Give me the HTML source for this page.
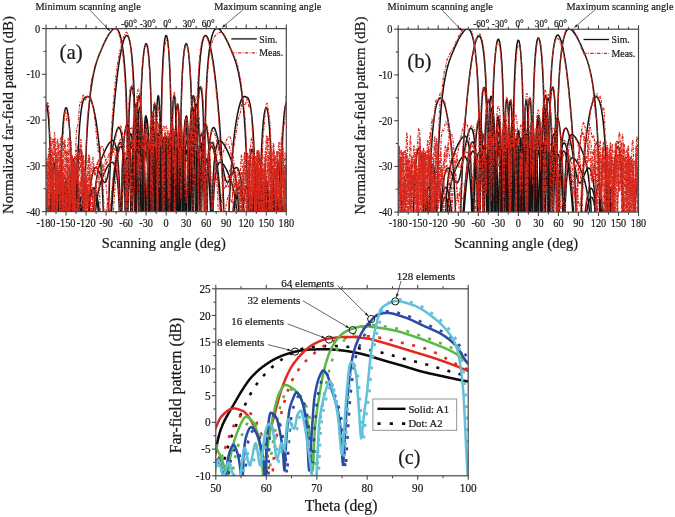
<!DOCTYPE html>
<html><head><meta charset="utf-8"><title>Far-field patterns</title>
<style>html,body{margin:0;padding:0;background:#fff;width:675px;height:517px;overflow:hidden}svg{display:block}text{font-family:"Liberation Serif", "Times New Roman", serif}</style>
</head><body>
<svg width="675" height="517" viewBox="0 0 675 517"><g font-family='"Liberation Serif", serif'>
<clipPath id="ca"><rect x="46" y="28.1" width="240.3" height="183.5"/></clipPath>
<g clip-path="url(#ca)" fill="none">
<g transform="scale(0.1)" stroke-linejoin="round">
<path d="M460 2345l3 0 2-72 3-72 3-53 2-40 3-27 3-17 2-7 3 1 3 12 2 22 3 33 3 47 2 64 3 90 3 19 2 0 3 0 3 0 2 0 3 0 3-69 2-85 3-64 3-47 2-34 3-24 3-14 2-5 3 4 3 14 2 23 3 35 3 49 2 67 3 93 3 57 2 0 3 0 3 0 2 0 3-16 3-116 2-84 3-64 3-47 2-36 3-26 3-16 3-8 2 1 3 8 3 18 2 27 3 39 3 53 2 72 3 100 3 95 2 0 3 0 3 0 2 0 3-106 3-111 2-81 3-63 3-49 2-37 3-28 3-19 2-12 3-5 3 2 2 10 3 17 3 27 2 36 3 48 3 65 2 87 3 123 3 96 2 0 3 0 3 0 2-120 3-132 3-95 2-73 3-58 3-47 2-36 3-29 3-22 2-16 3-10 3-4 2 1 3 7 3 13 2 20 3 27 3 35 2 46 3 59 3 79 2 107 3 160 3 88 2 0 3 0 3-156 2-155 3-111 3-85 2-69 3-56 3-47 2-39 3-33 3-27 2-22 3-19 3-14 2-10 3-7 3-2 2 0 3 5 3 8 2 13 3 17 3 22 2 28 3 34 3 44 2 54 3 69 3 92 2 129 3 208 3 129 2 0 3-225 3-197 2-134 3-102 3-83 3-69 2-65 3-58 3-52 2-47 3-43 3-40 2-37 3-34 3-32 2-30 3-29 3-28 2-26 3-25 3-24 2-22 3-22 3-20 2-19 3-19 3-18 2-16 3-16 3-16 2-15 3-14 3-13 2-14 3-12 3-12 2-12 3-11 3-11 2-11 3-10 3-10 2-9 3-10 3-9 2-9 3-8 3-7 2-8 3-7 3-8 2-7 3-7 3-7 2-7 3-6 3-7 2-6 3-7 3-6 2-6 3-6 3-7 2-6 3-6 3-6 2-6 3-6 3-6 2-7 3-6 3-5 2-6 3-6 3-5 2-6 3-6 3-5 2-6 3-6 3-6 2-5 3-4 3-5 2-5 3-4 3-5 2-5 3-5 3-5 2-5 3-3 3-4 2-3 3-4 3-3 2-4 3-3 3-4 2-3 3-4 3-3 2-3 3-4 3-3 3-3 2-1 3-1 3-2 2-1 3 0 3-1 2-1 3 0 3 0 2 0 3 0 3 1 2 1 3 1 3 1 2 2 3 2 3 3 2 2 3 4 3 5 2 5 3 6 3 7 2 7 3 8 3 8 2 9 3 10 3 10 2 11 3 12 3 13 2 15 3 15 3 16 2 18 3 18 3 21 2 22 3 24 3 26 2 28 3 31 3 34 2 37 3 41 3 46 2 52 3 59 3 69 2 83 3 102 3 133 2 197 3 384 3 225 2-514 3-208 3-130 2-92 3-69 3-55 2-43 3-36 3-28 2-22 3-17 3-13 2-9 3-5 3-1 2 3 3 6 3 10 2 14 3 18 3 22 2 27 3 32 3 39 2 47 3 56 3 68 2 85 3 110 3 155 2 258 3 527 3-426 2-293 3-160 3-107 2-79 3-59 3-47 2-35 3-28 3-19 3-14 2-7 3-2 3 4 2 10 3 15 3 22 2 29 3 36 3 46 2 58 3 73 3 95 2 131 3 202 3 433 2 20 3-436 3-196 2-124 3-87 3-65 2-49 3-36 3-27 2-18 3-10 3-3 2 4 3 12 3 19 2 27 3 37 3 48 2 62 3 81 3 110 2 161 3 283 3 309 2-337 3-260 3-149 2-100 3-73 3-53 2-40 3-28 3-18 2-10 3-1 3 8 2 15 3 25 3 35 2 48 3 62 3 84 2 116 3 174 3 332 2 170 3-357 3-228 2-136 3-94 3-67 2-50 3-35 3-25 2-14 3-4 3 4 2 13 3 23 3 34 2 47 3 62 3 85 2 119 3 182 3 364 2 77 3-350 3-215 2-131 3-90 3-66 2-47 3-34 3-22 2-12 3-3 3 7 2 16 3 27 3 39 2 53 3 71 3 99 3 143 2 240 3 275 3-132 2-310 3-165 3-109 2-77 3-57 3-41 2-28 3-17 3-8 2 1 3 11 3 21 2 32 3 44 3 61 2 82 3 114 3 175 2 339 3 64 3-277 2-226 3-136 3-93 2-69 3-50 3-36 2-25 3-15 3-5 2 3 3 12 3 22 2 32 3 45 3 60 2 81 3 113 3 171 2 325 3 68 3-244 2-232 3-140 3-96 2-71 3-53 3-39 2-27 3-19 3-9 2-2 3 7 3 15 2 23 3 34 3 45 2 61 3 80 3 111 2 165 3 303 3 88 2-199 3-246 3-146 2-100 3-75 3-56 2-43 3-32 3-23 2-15 3-8 3-1 2 6 3 13 3 20 2 29 3 37 3 50 2 63 3 84 3 115 2 171 3 321 3 35 2-200 3-237 3-143 2-100 3-75 3-59 2-45 3-36 3-28 3-21 2-14 3-9 3-3 2 2 3 7 3 13 2 19 3 25 3 31 2 40 3 50 3 62 2 79 3 106 3 150 2 254 3 132 3-47 2-296 3-165 3-113 2-85 3-66 3-53 2-43 3-36 3-29 2-23 3-19 3-15 2-10 3-7 3-3 2 0 3 3 3 7 2 10 3 14 3 17 2 20 3 25 3 30 2 35 3 41 3 49 2 59 3 71 3 90 2 118 3 173 3 248 2 0 3-69 3-243 2-147 3-105 3-81 2-66 3-53 3-46 2-39 3-34 3-29 2-25 3-22 3-20 2-17 3-14 3-13 2-11 3-9 3-7 2-7 3-4 3-4 2-2 3-2 3 0 2 0 3 2 3 4 2 4 3 6 3 6 2 7 3 7 3 9 2 8 3 10 3 10 2 10 3 11 3 12 2 12 3 12 3 13 2 13 3 13 3 14 3 14 2 16 3 16 3 17 2 16 3 16 3 17 2 16 3 16 3 16 2 16 3 16 3 15 2 15 3 14 3 13 2 15 3 13 3 13 2 12 3 11 3 9 2 9 3 8 3 6 2 5 3 6 3 4 2 3 3 2 3 0 2 0 3-1 3-3 2-3 3-3 3-4 2-5 3-5 3-5 2-6 3-7 3-6 2-7 3-6 3-7 2-7 3-7 3-6 2-7 3-6 3-6 2-6 3-5 3-6 2-4 3-5 3-4 2-3 3-3 3-3 2-1 3-1 3-1 2 1 3 1 3 1 2 2 3 4 3 3 2 5 3 6 3 6 2 8 3 8 3 10 2 10 3 12 3 13 2 15 3 16 3 18 2 20 3 22 3 25 2 26 3 30 3 32 2 37 3 41 3 46 2 52 3 59 3 72 2 69 3 0 3 0 2 0 3 0 3 0 3 0 2 0 3 0 3-11 2-71 3-58 3-48 2-41 3-35 3-29 2-25 3-20 3-17 2-13 3-10 3-6 2-3 3 0 3 3 2 7 3 11 3 15 2 19 3 24 3 29 2 36 3 44 3 53 2 66 3 80 3 0 2 0 3 0 3 0 2 0 3 0 3 0 2-13 3-79 3-62 2-49 3-40 3-31 2-25 3-18 3-12 2-7 3-2 3 3 2 9 3 15 3 21 2 28 3 36 3 46 2 59 3 76 3 45 2 0 3 0 3 0 2 0 3 0 3 0 2-5 3-83 3-64 2-49 3-37 3-28 2-20 3-13 3-6 2 2 3 8 3 15 2 24 3 33 3 43 2 57 3 75 3 48 2 0 3 0 3 0 2 0 3 0 3 0 2-19 3-79 3-60 2-45 3-33 3-23 2-14 3-6 3 2 2 10 3 19 3 29 3 39 2 53 3 71 3 56 2 0 3 0 3 0 2 0 3 0 3 0 2-15 3-81 3-59 2-44 3-32 3-21 2-12 3-2 3 6 2 16 3 25 3 37 2 51 3 68 3 63 2 0 3 0 3 0 2 0 3 0 3 0 2-18 3-81 3-60 2-44 3-31 3-20 2-10 3-1 3 8 2 18 3 29 3 42 2 57 3 77 3 34 2 0 3 0 3 0 2 0 3 0" stroke="#111" stroke-width="15"/>
<path d="M460 2345l3 0 2 0 3 0 3-4 2-77 3-57 3-43 2-30 3-19 3-10 2-1 3 9 3 19 2 30 3 43 3 60 2 80 3 0 3 0 2 0 3 0 3 0 2 0 3-12 3-92 2-68 3-51 3-38 2-27 3-17 3-8 2 2 3 10 3 20 2 31 3 44 3 60 2 84 3 62 3 0 2 0 3 0 3 0 2 0 3-89 3-93 2-69 3-53 3-41 3-29 2-21 3-11 3-4 2 4 3 13 3 23 2 33 3 45 3 63 2 86 3 123 3 20 2 0 3 0 3 0 2-63 3-129 3-94 2-71 3-56 3-44 2-33 3-26 3-17 2-11 3-3 3 4 2 11 3 19 3 28 2 38 3 52 3 70 2 95 3 141 3 89 2 0 3 0 3-67 2-172 3-120 3-89 2-71 3-57 3-46 2-38 3-31 3-24 2-18 3-13 3-7 2-3 3 4 3 9 2 15 3 22 3 30 2 40 3 54 3 71 2 98 3 148 3 265 2 0 3-48 3-279 2-169 3-122 3-95 2-79 3-66 3-58 2-50 3-45 3-40 2-36 3-33 3-29 2-27 3-24 3-22 2-20 3-18 3-17 2-14 3-14 3-11 2-11 3-9 3-8 2-7 3-6 3-5 2-4 3-3 3-2 2-1 3 0 3 0 3 2 2-4 3-3 3-2 2-1 3-1 3 0 2 0 3 1 3 2 2 3 3 1 3 2 2 3 3 3 3 4 2 5 3 5 3 5 2 6 3 7 3 7 2 8 3 8 3 9 2 9 3 10 3 10 2 11 3 11 3 12 2 13 3 13 3 13 2 14 3 15 3 15 2 16 3 16 3 17 2 18 3 19 3 20 2 20 3 21 3 22 2 23 3 24 3 25 2 26 3 27 3 28 2 30 3 31 3 32 2 35 3 36 3 38 2 41 3 43 3 46 2 50 3 54 3 58 2 63 3 70 3 78 2 88 3 41 3 0 2 0 3 0 3 0 2 0 3 0 3 0 2 0 3 0 3 0 2 0 3 0 3 0 2-16 3-109 3-98 2-89 3-79 3-74 2-67 3-64 3-59 2-56 3-53 3-50 2-48 3-46 3-44 2-42 3-41 3-39 3-38 2-35 3-34 3-33 2-31 3-31 3-30 2-29 3-29 3-27 2-27 3-26 3-26 2-25 3-24 3-24 2-23 3-22 3-22 2-22 3-21 3-19 2-18 3-18 3-17 2-17 3-17 3-16 2-15 3-15 3-14 2-14 3-13 3-13 2-12 3-12 3-11 2-11 3-10 3-10 2-9 3-8 3-8 2-7 3-6 3-6 2-5 3-5 3-4 2-3 3-2 3-2 2 0 3 0 3 0 2 2 3 3 3 3 2 5 3 5 3 7 2 8 3 9 3 10 2 12 3 13 3 14 2 16 3 18 3 19 2 22 3 24 3 26 2 30 3 32 3 35 2 40 3 45 3 50 2 57 3 67 3 78 2 95 3 122 3 168 2 279 3 676 3-626 2-268 3-148 3-99 2-72 3-53 3-41 2-30 3-23 3-15 2-9 3-4 3 2 3 7 2 13 3 18 3 23 2 31 3 37 3 46 2 57 3 70 3 90 2 119 3 172 3 308 2 395 3-484 3-243 2-141 3-96 3-69 2-52 3-39 3-28 2-19 3-12 3-4 2 3 3 10 3 17 2 24 3 33 3 44 2 55 3 71 3 93 2 128 3 197 3 412 2 91 3-461 3-199 2-124 3-86 3-63 2-47 3-33 3-23 2-14 3-5 3 3 2 11 3 20 3 29 2 40 3 52 3 69 2 92 3 129 3 202 2 417 3 0 3-411 2-193 3-121 3-84 2-62 3-44 3-32 2-20 3-11 3-2 2 7 3 17 3 26 2 37 3 51 3 67 2 91 3 129 3 204 2 351 3 0 3-362 2-191 3-120 3-83 2-61 3-44 3-30 2-20 3-9 3 0 2 9 3 19 3 30 2 41 3 57 3 76 2 106 3 155 3 274 3 153 2-152 3-268 3-152 2-101 3-72 3-53 2-37 3-26 3-15 2-5 3 4 3 13 2 24 3 35 3 47 2 65 3 88 3 124 2 196 3 285 3 0 2-266 3-199 3-124 2-87 3-63 3-47 2-33 3-22 3-12 2-3 3 6 3 15 2 25 3 36 3 49 2 66 3 89 3 126 2 198 3 246 3 0 2-243 3-196 3-124 2-88 3-64 3-48 2-35 3-24 3-15 2-6 3 2 3 10 2 18 3 28 3 39 2 51 3 69 3 91 2 130 3 205 3 200 2 0 3-230 3-191 2-122 3-88 3-65 2-49 3-38 3-27 2-19 3-11 3-3 2 3 3 10 3 18 2 26 3 34 3 46 2 58 3 77 3 103 2 148 3 251 3 69 2 0 3-271 3-164 2-111 3-82 3-62 2-49 3-38 3-29 2-22 3-15 3-9 3-4 2 2 3 8 3 13 2 19 3 25 3 33 2 41 3 51 3 65 2 82 3 111 3 161 2 245 3 0 3 0 2-260 3-154 3-107 2-80 3-64 3-50 2-41 3-34 3-27 2-21 3-17 3-12 2-9 3-4 3-1 2 3 3 6 3 10 2 13 3 17 3 22 2 25 3 31 3 36 2 44 3 51 3 62 2 77 3 98 3 133 2 204 3 49 3 0 2-53 3-198 3-130 2-95 3-74 3-60 2-50 3-43 3-36 2-31 3-26 3-24 2-19 3-18 3-14 2-13 3-10 3-9 2-6 3-6 3-3 2-3 3 0 3 0 2 1 3 3 3 4 2 5 3 6 3 7 2 8 3 9 3 11 2 12 3 13 3 14 2 15 3 16 3 17 2 18 3 18 3 20 2 20 3 22 3 22 2 24 3 24 3 26 2 27 3 28 3 30 3 30 2 34 3 36 3 37 2 39 3 40 3 43 2 46 3 47 3 51 2 54 3 44 3 0 2 0 3 0 3 0 2 0 3 0 3 0 2 0 3 0 3 0 2 0 3 0 3 0 2 0 3 0 3 0 2 0 3 0 3 0 2 0 3 0 3 0 2 0 3 0 3 0 2 0 3 0 3 0 2 0 3 0 3 0 2-14 3-36 3-33 2-31 3-29 3-28 2-26 3-24 3-23 2-21 3-20 3-19 2-18 3-17 3-15 2-15 3-13 3-13 2-11 3-10 3-9 2-9 3-7 3-7 2-5 3-5 3-3 2-3 3-2 3-1 2 0 3 1 3 3 2 3 3 4 3 6 2 6 3 8 3 10 2 11 3 12 3 15 2 15 3 18 3 20 2 22 3 24 3 28 2 29 3 32 3 37 2 42 3 49 3 56 2 16 3 0 3 0 3 0 2 0 3 0 3 0 2 0 3 0 3 0 2 0 3 0 3-3 2-51 3-43 3-36 2-30 3-26 3-21 2-16 3-14 3-9 2-6 3-2 3 1 2 5 3 8 3 13 2 17 3 22 3 27 2 34 3 41 3 51 2 38 3 0 3 0 2 0 3 0 3 0 2 0 3 0 3 0 2 0 3 0 3-34 2-50 3-41 3-32 2-26 3-18 3-13 2-7 3-2 3 4 2 9 3 16 3 22 2 30 3 38 3 49 2 55 3 0 3 0 2 0 3 0 3 0 2 0 3 0 3 0 2 0 3-9 3-59 2-45 3-34 3-26 2-17 3-10 3-3 2 4 3 12 3 19 2 28 3 38 3 50 2 52 3 0 3 0 2 0 3 0 3 0 2 0 3 0 3 0 2 0 3-44 3-51 2-38 3-27 3-18 2-9 3-2 3 7 3 16 2 25 3 35 3 49 2 57 3 0 3 0 2 0 3 0 3 0 2 0 3 0 3 0 2 0 3-61 3-48 2-35 3-24 3-15 2-5 3 3 3 13 2 23 3 33 3 47 2 64 3 5 3 0 2 0 3 0 3 0 2 0 3 0 3 0 2-16 3-65 3-47 2-34 3-23 3-13 2-3 3 6 3 16 2 26 3 38 3 53 2 62 3 0 3 0 2 0 3 0" stroke="#111" stroke-width="15"/>
<path d="M460 2051l3-1 2 9 3 19 3 31 2 44 3 63 3 89 2 40 3 0 3 0 2 0 3 0 3-19 2-119 3-87 3-66 2-50 3-37 3-27 2-18 3-8 3 1 2 11 3 21 3 33 2 47 3 68 3 97 2 150 3 3 3 0 2 0 3-66 3-160 2-111 3-84 3-65 2-51 3-40 3-30 2-21 3-13 3-4 2 4 3 13 3 24 2 37 3 54 3 79 3 119 2 203 3 112 3 0 2-265 3-199 3-138 2-106 3-85 3-72 2-61 3-53 3-46 2-40 3-36 3-31 2-27 3-23 3-21 2-17 3-14 3-12 2-9 3-7 3-4 2-2 3 1 3 4 2 5 3 8 3 10 2 13 3 15 3 17 2 20 3 23 3 26 2 30 3 33 3 37 2 41 3 46 3 53 2 60 3 69 3 81 2 99 3 125 3 173 2 279 3 0 3 0 2-211 3-144 3-94 2-68 3-50 3-38 2-27 3-20 3-14 2-8 3-2 3 2 2 6 3 11 3 15 2 20 3 24 3 29 2 34 3 40 3 48 2 56 3 67 3 82 2 103 3 139 3 0 2 0 3 0 3 0 2 0 3-96 3-88 2-67 3-52 3-43 2-34 3-28 3-22 2-18 3-14 3-11 2-7 3-4 3-2 2 1 3 4 3 6 3 8 2 4 3 7 3 10 2 12 3 14 3 16 2 20 3 23 3 26 2 29 3 33 3 37 2 44 3 52 3 61 2 75 3 4 3 0 2 0 3 0 3 0 2 0 3 0 3 0 2-13 3-80 3-66 2-56 3-49 3-42 2-39 3-34 3-31 2-28 3-26 3-24 2-22 3-20 3-19 2-18 3-16 3-15 2-14 3-13 3-13 2-12 3-11 3-11 2-10 3-9 3-9 2-9 3-9 3-8 2-8 3-7 3-8 2-7 3-7 3-7 2-7 3-6 3-7 2-7 3-6 3-6 2-6 3-5 3-6 2-6 3-6 3-6 2-6 3-5 3-6 2-5 3-5 3-4 2-5 3-5 3-4 2-5 3-5 3-5 2-4 3-3 3-4 2-3 3-2 3-3 2-3 3-3 3-2 2-2 3-2 3-2 2-2 3-1 3-1 3 0 2 2 3 2 3 2 2 4 3 3 3 5 2 5 3 6 3 7 2 9 3 9 3 10 2 12 3 14 3 15 2 18 3 19 3 23 2 26 3 30 3 35 2 42 3 49 3 59 2 73 3 93 3 129 2 200 3 40 3 0 2-74 3-205 3-136 2-103 3-83 3-68 2-59 3-51 3-45 2-40 3-36 3-31 2-29 3-25 3-23 2-20 3-18 3-15 2-13 3-11 3-8 2-7 3-3 3-2 2 2 3 4 3 7 2 10 3 13 3 18 2 22 3 28 3 34 2 42 3 52 3 67 2 87 3 122 3 190 2 407 3 0 3-412 2-212 3-140 3-104 2-82 3-67 3-56 2-48 3-41 3-34 2-29 3-25 3-20 2-15 3-11 3-7 2-2 3 2 3 7 2 13 3 20 3 28 2 37 3 49 3 68 2 94 3 144 3 260 3 583 2-625 3-287 3-173 2-126 3-99 3-82 2-69 3-61 3-52 2-47 3-42 3-37 2-33 3-30 3-26 2-23 3-21 3-18 2-15 3-13 3-10 2-9 3-5 3-4 2-1 3 1 3 4 2 6 3 8 3 11 2 14 3 17 3 19 2 23 3 27 3 30 2 35 3 40 3 45 2 52 3 61 3 71 2 85 3 105 3 138 2 198 3 372 3 331 2-552 3-204 3-119 2-80 3-54 3-38 2-25 3-14 3-4 2 3 3 13 3 20 2 29 3 40 3 50 2 65 3 83 3 111 2 159 3 267 3 465 2-395 3-277 3-150 2-98 3-68 3-48 2-34 3-21 3-11 2-2 3 7 3 17 2 26 3 37 3 50 2 65 3 86 3 119 2 178 3 335 3 184 2-365 3-224 3-133 2-89 3-64 3-45 2-32 3-19 3-10 3 1 2 9 3 19 3 30 2 40 3 56 3 73 2 99 3 142 3 234 2 278 3-76 3-326 2-168 3-108 3-77 2-55 3-39 3-27 2-15 3-7 3 3 2 13 3 21 3 33 2 44 3 60 3 79 2 110 3 161 3 288 2 86 3-132 3-255 2-146 3-99 3-70 2-52 3-37 3-26 2-15 3-7 3 2 2 11 3 20 3 30 2 40 3 54 3 72 2 96 3 138 3 222 2 154 3 0 3-245 2-177 3-114 3-82 2-60 3-45 3-33 2-23 3-14 3-5 2 1 3 10 3 17 2 26 3 36 3 46 2 61 3 79 3 108 2 157 3 257 3 0 2 0 3-249 3-154 2-104 3-77 3-58 2-44 3-33 3-25 2-16 3-10 3-3 2 3 3 9 3 16 2 23 3 30 3 39 2 50 3 63 3 81 2 109 3 157 3 193 3 0 2 0 3-181 3-156 2-107 3-79 3-61 2-49 3-38 3-30 2-23 3-17 3-11 2-7 3-2 3 3 2 7 3 12 3 16 2 22 3 27 3 33 2 41 3 50 3 60 2 76 3 97 3 134 2 183 3 0 3 0 2 0 3-185 3-127 2-93 3-71 3-58 2-47 3-39 3-32 2-27 3-22 3-18 2-14 3-11 3-9 2-5 3-3 3 0 2 3 3 4 3 7 2 10 3 11 3 15 2 16 3 20 3 22 2 26 3 28 3 33 2 37 3 42 3 48 2 56 3 66 3 80 2 100 3 134 3 3 2 0 3 0 3 0 2 0 3-107 3-96 2-75 3-61 3-51 2-44 3-37 3-32 2-28 3-24 3-22 2-19 3-17 3-15 2-14 3-12 3-10 2-10 3-8 3-8 2-6 3-6 3-5 2-5 3-3 3-4 3-2 2-1 3 0 3 0 2 1 3 1 3 1 2 2 3 1 3 2 2 2 3 3 3 2 2 3 3 2 3 3 2 4 3 5 3 4 2 4 3 5 3 4 2 5 3 5 3 4 2 5 3 6 3 6 2 6 3 6 3 6 2 6 3 6 3 6 2 6 3 6 3 7 2 7 3 7 3 7 2 8 3 7 3 8 2 8 3 8 3 8 2 9 3 9 3 10 2 9 3 11 3 10 2 11 3 12 3 12 2 13 3 14 3 15 2 15 3 17 3 17 2 19 3 21 3 22 2 23 3 26 3 27 2 31 3 32 3 37 2 40 3 44 3 13 2 0 3 0 3 0 2 0 3 0 3 0 2 0 3 0 3 0 2 0 3 0 3 0 2 0 3 0 3 0 2 0 3 0 3-8 2-27 3-22 3-20 2-16 3-14 3-10 2-9 3-6 3-3 3-1 2-5 3-2 3 1 2 3 3 6 3 8 2 11 3 15 3 18 2 23 3 27 3 31 2 0 3 0 3 0 2 0 3 0 3 0 2 0 3 0 3 0 2 0 3 0 3 0 2 0 3 0 3 0 2 0 3-14 3-33 2-27 3-21 3-17 2-11 3-7 3-2 2 2 3 7 3 12 2 17 3 23 3 31 2 38 3 2 3 0 2 0 3 0 3 0 2 0 3 0 3 0 2 0 3 0 3 0 2 0 3 0 3-18 2-38 3-31 3-22 2-16 3-9 3-2 2 3 3 10 3 17 2 25 3 34 3 44 2 3 3 0 3 0 2 0 3 0 3 0 2 0 3 0 3 0 2 0 3 0 3-18 2-46 3-34 3-26 2-16 3-9 3-2 2 7 3 14 3 24 2 33 3 45 3 28 2 0 3 0 3 0 2 0 3 0 3 0 3 0 2 0 3 0 3-24 2-54 3-40 3-29 2-19 3-10 3-2 2 7 3 17 3 26 2 38 3 52 3 38 2 0 3 0 3 0 2 0 3 0 3 0 2 0 3 0 3-54 2-59 3-44 3-31 2-22 3-11 3-3 2 7 3 17 3 27 2 40 3 55 3 77 2 1 3 0 3 0 2 0 3 0 3 0 2 0 3-71 3-72 2-55 3-40 3-29 2-18 3-9" stroke="#111" stroke-width="15"/>
<path d="M460 1041l3 1 2 4 3 7 3 11 2 14 3 17 3 21 2 25 3 29 3 35 2 39 3 46 3 53 2 62 3 73 3 88 2 109 3 145 3 214 2 311 3 0 3-238 2-183 3-110 3-73 2-50 3-33 3-21 2-10 3-1 3 8 2 17 3 25 3 35 2 45 3 59 3 74 2 98 3 134 3 206 2 18 3 0 3 0 2-179 3-117 3-81 2-57 3-42 3-28 3-18 2-9 3 0 3 7 2 16 3 24 3 34 2 44 3 56 3 74 2 96 3 135 3 45 2 0 3 0 3 0 2-36 3-119 3-83 2-61 3-45 3-33 2-23 3-15 3-7 2 0 3 7 3 15 2 21 3 30 3 38 2 49 3 63 3 80 2 107 3 12 3 0 2 0 3 0 3 0 2 0 3-65 3-79 2-59 3-45 3-35 2-26 3-19 3-12 2-6 3-1 3 5 2 11 3 16 3 21 2 29 3 35 3 44 2 54 3 67 3 65 2 0 3 0 3 0 2 0 3 0 3 0 2 0 3 0 3-41 2-61 3-48 3-39 2-31 3-25 3-19 2-15 3-10 3-6 2-2 3 1 3 5 2 8 3 12 3 15 2 19 3 24 3 27 2 33 3 38 3 45 2 54 3 16 3 0 2 0 3 0 3 0 2 0 3 0 3 0 3 0 2 0 3 0 3 0 2-3 3-54 3-47 2-40 3-35 3-31 2-28 3-25 3-23 2-21 3-18 3-16 2-14 3-13 3-11 2-9 3-8 3-7 2-5 3-4 3-3 2-2 3-1 3 0 2 2 3 2 3 3 2 4 3 5 3 5 2 7 3 8 3 8 2 9 3 11 3 11 2 12 3 13 3 15 2 15 3 17 3 17 2 19 3 20 3 20 2 23 3 23 3 25 2 26 3 28 3 30 2 32 3 8 3 0 2 0 3 0 3 0 2 0 3 0 3 0 2 0 3 0 3 0 2 0 3 0 3 0 2 0 3 0 3 0 2 0 3 0 3 0 2 0 3 0 3 0 2 0 3 0 3 0 2 0 3 0 3 0 2 0 3 0 3 0 2 0 3 0 3 0 2-22 3-51 3-48 2-46 3-43 3-41 2-40 3-37 3-36 3-35 2-31 3-30 3-29 2-28 3-26 3-26 2-24 3-24 3-22 2-21 3-21 3-20 2-18 3-18 3-17 2-16 3-15 3-14 2-14 3-12 3-10 2-10 3-8 3-7 2-6 3-6 3-4 2-3 3-1 3-1 2 1 3 2 3 4 2 5 3 7 3 9 2 10 3 13 3 16 2 18 3 22 3 25 2 29 3 34 3 41 2 48 3 58 3 73 2 93 3 128 3 197 2 48 3 0 3-54 2-205 3-135 3-100 2-79 3-64 3-53 2-46 3-38 3-33 2-28 3-24 3-19 2-16 3-12 3-9 2-5 3-1 3 2 2 5 3 10 3 14 2 19 3 25 3 31 2 38 3 48 3 61 2 78 3 104 3 152 2 262 3 72 3-48 2-285 3-163 3-114 2-85 3-68 3-54 2-44 3-36 3-28 2-22 3-17 3-10 3-6 2 1 3 6 3 11 2 19 3 26 3 34 2 45 3 59 3 78 2 108 3 161 3 295 2 137 3-244 3-254 2-152 3-107 3-81 2-62 3-50 3-39 2-29 3-22 3-15 2-8 3 0 3 6 2 14 3 23 3 32 2 45 3 61 3 82 2 118 3 186 3 399 2 86 3-473 3-210 2-135 3-98 3-73 2-58 3-44 3-34 2-25 3-16 3-9 2 0 3 8 3 18 2 27 3 41 3 57 2 80 3 116 3 189 2 427 3-16 3-441 2-206 3-135 3-98 2-76 3-59 3-46 2-35 3-26 3-17 2-9 3 0 3 10 2 20 3 33 3 49 2 72 3 109 3 183 2 434 3-72 3-437 2-214 3-146 3-110 2-89 3-73 3-63 2-53 3-46 3-41 2-34 3-30 3-26 2-22 3-18 3-14 2-11 3-8 3-5 3-1 2 1 3 5 3 8 2 11 3 14 3 18 2 22 3 26 3 30 2 34 3 41 3 46 2 53 3 63 3 73 2 89 3 110 3 146 2 214 3 437 3 72 2-434 3-183 3-109 2-72 3-49 3-33 2-20 3-10 3 0 2 9 3 17 3 26 2 35 3 46 3 59 2 76 3 98 3 135 2 206 3 441 3 16 2-427 3-189 3-116 2-80 3-57 3-41 2-27 3-18 3-8 2 0 3 9 3 16 2 25 3 34 3 44 2 58 3 73 3 98 2 135 3 210 3 473 2-86 3-399 3-186 2-118 3-82 3-61 2-45 3-32 3-23 2-14 3-6 3 0 2 8 3 15 3 22 2 29 3 39 3 50 2 62 3 81 3 107 2 152 3 254 3 244 2-137 3-295 3-161 2-108 3-78 3-59 2-45 3-34 3-26 2-19 3-11 3-6 3-1 2 6 3 10 3 17 2 22 3 28 3 36 2 44 3 54 3 68 2 85 3 114 3 163 2 285 3 48 3-72 2-262 3-152 3-104 2-78 3-61 3-48 2-38 3-31 3-25 2-19 3-14 3-10 2-5 3-2 3 1 2 5 3 9 3 12 2 16 3 19 3 24 2 28 3 33 3 38 2 46 3 53 3 64 2 79 3 100 3 135 2 205 3 54 3 0 2-48 3-197 3-128 2-93 3-73 3-58 2-48 3-41 3-34 2-29 3-25 3-22 2-18 3-16 3-13 2-10 3-9 3-7 2-5 3-4 3-2 2-1 3 1 3 1 2 3 3 4 3 6 2 6 3 7 3 8 2 10 3 10 3 12 2 14 3 14 3 15 2 16 3 17 3 18 2 18 3 20 3 21 2 21 3 22 3 24 2 24 3 26 3 26 2 28 3 29 3 30 3 31 2 35 3 36 3 37 2 40 3 41 3 43 2 46 3 48 3 51 2 22 3 0 3 0 2 0 3 0 3 0 2 0 3 0 3 0 2 0 3 0 3 0 2 0 3 0 3 0 2 0 3 0 3 0 2 0 3 0 3 0 2 0 3 0 3 0 2 0 3 0 3 0 2 0 3 0 3 0 2 0 3 0 3 0 2 0 3 0 3-8 2-32 3-30 3-28 2-26 3-25 3-23 2-23 3-20 3-20 2-19 3-17 3-17 2-15 3-15 3-13 2-12 3-11 3-11 2-9 3-8 3-8 2-7 3-5 3-5 2-4 3-3 3-2 2-2 3 0 3 1 2 2 3 3 3 4 2 5 3 7 3 8 2 9 3 11 3 13 2 14 3 16 3 18 2 21 3 23 3 25 2 28 3 31 3 35 2 40 3 47 3 54 2 3 3 0 3 0 3 0 2 0 3 0 3 0 2 0 3 0 3 0 2 0 3 0 3-16 2-54 3-45 3-38 2-33 3-27 3-24 2-19 3-15 3-12 2-8 3-5 3-1 2 2 3 6 3 10 2 15 3 19 3 25 2 31 3 39 3 48 2 61 3 41 3 0 2 0 3 0 3 0 2 0 3 0 3 0 2 0 3-65 3-67 2-54 3-44 3-35 2-29 3-21 3-16 2-11 3-5 3 1 2 6 3 12 3 19 2 26 3 35 3 45 2 59 3 79 3 65 2 0 3 0 3 0 2 0 3 0 3-12 2-107 3-80 3-63 2-49 3-38 3-30 2-21 3-15 3-7 2 0 3 7 3 15 2 23 3 33 3 45 2 61 3 83 3 119 2 36 3 0 3 0 2 0 3-45 3-135 2-96 3-74 3-56 2-44 3-34 3-24 2-16 3-7 3 0 3 9 2 18 3 28 3 42 2 57 3 81 3 117 2 179 3 0 3 0 2-18 3-206 3-134 2-98 3-74 3-59 2-45 3-35 3-25 2-17 3-8 3 1 2 10 3 21 3 33 2 50 3 73 3 110 2 183 3 238 3 0 2-311 3-214 3-145 2-109 3-88 3-73 2-62 3-53 3-46 2-39 3-35 3-29 2-25 3-21 3-17 2-14 3-11 3-7 2-4 3-1" stroke="#111" stroke-width="15"/>
<path d="M460 2051l3 9 2 18 3 29 3 40 2 55 3 72 3 71 2 0 3 0 3 0 2 0 3 0 3 0 2-1 3-77 3-55 2-40 3-27 3-17 2-7 3 3 3 11 2 22 3 31 3 44 2 59 3 54 3 0 2 0 3 0 3 0 2 0 3 0 3 0 2 0 3-38 3-52 2-38 3-26 3-17 2-7 3 2 3 10 2 19 3 29 3 40 2 54 3 24 3 0 3 0 2 0 3 0 3 0 2 0 3 0 3 0 2 0 3-28 3-45 2-33 3-24 3-14 2-7 3 2 3 9 2 16 3 26 3 34 2 46 3 18 3 0 2 0 3 0 3 0 2 0 3 0 3 0 2 0 3 0 3 0 2-3 3-44 3-34 2-25 3-17 3-10 2-3 3 2 3 9 2 16 3 22 3 31 2 38 3 18 3 0 2 0 3 0 3 0 2 0 3 0 3 0 2 0 3 0 3 0 2 0 3 0 3-2 2-38 3-31 3-23 2-17 3-12 3-7 2-2 3 2 3 7 2 11 3 17 3 21 2 27 3 33 3 14 2 0 3 0 3 0 2 0 3 0 3 0 2 0 3 0 3 0 2 0 3 0 3 0 2 0 3 0 3 0 2 0 3-31 3-27 2-23 3-18 3-15 2-11 3-8 3-6 2-3 3-1 3 2 3 5 2 1 3 3 3 6 2 9 3 10 3 14 2 16 3 20 3 22 2 27 3 8 3 0 2 0 3 0 3 0 2 0 3 0 3 0 2 0 3 0 3 0 2 0 3 0 3 0 2 0 3 0 3 0 2 0 3-13 3-44 2-40 3-37 3-32 2-31 3-27 3-26 2-23 3-22 3-21 2-19 3-17 3-17 2-15 3-15 3-14 2-13 3-12 3-12 2-11 3-10 3-11 2-9 3-10 3-9 2-9 3-8 3-8 2-8 3-8 3-7 2-8 3-7 3-7 2-7 3-7 3-6 2-6 3-6 3-6 2-6 3-6 3-6 2-6 3-6 3-6 2-5 3-4 3-5 2-5 3-4 3-5 2-4 3-4 3-5 2-4 3-3 3-2 2-3 3-2 3-3 2-2 3-2 3-1 2-2 3-1 3-1 2-1 3 0 3 0 3 1 2 2 3 4 3 3 2 5 3 5 3 6 2 6 3 8 3 8 2 10 3 10 3 12 2 14 3 15 3 17 2 19 3 22 3 24 2 28 3 32 3 37 2 44 3 51 3 61 2 75 3 96 3 107 2 0 3 0 3 0 2 0 3-3 3-134 2-100 3-80 3-66 2-56 3-48 3-42 2-37 3-33 3-28 2-26 3-22 3-20 2-16 3-15 3-11 2-10 3-7 3-4 2-3 3 0 3 3 2 5 3 9 3 11 2 14 3 18 3 22 2 27 3 32 3 39 2 47 3 58 3 71 2 93 3 127 3 185 2 0 3 0 3 0 2-183 3-134 3-97 2-76 3-60 3-50 2-41 3-33 3-27 2-22 3-16 3-12 2-7 3-3 3 2 2 7 3 11 3 17 2 23 3 30 3 38 2 49 3 61 3 79 2 107 3 156 3 181 3 0 2 0 3-193 3-157 2-109 3-81 3-63 2-50 3-39 3-30 2-23 3-16 3-9 2-3 3 3 3 10 2 16 3 25 3 33 2 44 3 58 3 77 2 104 3 154 3 249 2 0 3 0 3-257 2-157 3-108 3-79 2-61 3-46 3-36 2-26 3-17 3-10 2-1 3 5 3 14 2 23 3 33 3 45 2 60 3 82 3 114 2 177 3 245 3 0 2-154 3-222 3-138 2-96 3-72 3-54 2-40 3-30 3-20 2-11 3-2 3 7 2 15 3 26 3 37 2 52 3 70 3 99 2 146 3 255 3 132 2-86 3-288 3-161 2-110 3-79 3-60 2-44 3-33 3-21 2-13 3-3 3 7 2 15 3 27 3 39 2 55 3 77 3 108 2 168 3 326 3 76 2-278 3-234 3-142 2-99 3-73 3-56 2-40 3-30 3-19 3-9 2-1 3 10 3 19 2 32 3 45 3 64 2 89 3 133 3 224 2 365 3-184 3-335 2-178 3-119 3-86 2-65 3-50 3-37 2-26 3-17 3-7 2 2 3 11 3 21 2 34 3 48 3 68 2 98 3 150 3 277 2 395 3-465 3-267 2-159 3-111 3-83 2-65 3-50 3-40 2-29 3-20 3-13 2-3 3 4 3 14 2 25 3 38 3 54 2 80 3 119 3 204 2 552 3-331 3-372 2-198 3-138 3-105 2-85 3-71 3-61 2-52 3-45 3-40 2-35 3-30 3-27 2-23 3-19 3-17 2-14 3-11 3-8 2-6 3-4 3-1 2 1 3 4 3 5 2 9 3 10 3 13 2 15 3 18 3 21 2 23 3 26 3 30 2 33 3 37 3 42 2 47 3 52 3 61 2 69 3 82 3 99 2 126 3 173 3 287 3 625 2-583 3-260 3-144 2-94 3-68 3-49 2-37 3-28 3-20 2-13 3-7 3-2 2 2 3 7 3 11 2 15 3 20 3 25 2 29 3 34 3 41 2 48 3 56 3 67 2 82 3 104 3 140 2 212 3 412 3 0 2-407 3-190 3-122 2-87 3-67 3-52 2-42 3-34 3-28 2-22 3-18 3-13 2-10 3-7 3-4 2-2 3 2 3 3 2 7 3 8 3 11 2 13 3 15 3 18 2 20 3 23 3 25 2 29 3 31 3 36 2 40 3 45 3 51 2 59 3 68 3 83 2 103 3 136 3 205 2 74 3 0 3-40 2-200 3-129 3-93 2-73 3-59 3-49 2-42 3-35 3-30 2-26 3-23 3-19 2-18 3-15 3-14 2-12 3-10 3-9 2-9 3-7 3-6 2-5 3-5 3-3 2-4 3-2 3-2 3-2 2 0 3 1 3 1 2 2 3 2 3 2 2 2 3 2 3 3 2 3 3 3 3 2 2 3 3 4 3 3 2 4 3 5 3 5 2 5 3 4 3 5 2 5 3 4 3 5 2 5 3 6 3 5 2 6 3 6 3 6 2 6 3 6 3 5 2 6 3 6 3 6 2 7 3 7 3 6 2 7 3 7 3 7 2 7 3 8 3 7 2 8 3 8 3 9 2 9 3 9 3 9 2 10 3 11 3 11 2 12 3 13 3 13 2 14 3 15 3 16 2 18 3 19 3 20 2 22 3 24 3 26 2 28 3 31 3 34 2 39 3 42 3 49 2 56 3 66 3 80 2 13 3 0 3 0 2 0 3 0 3 0 2 0 3 0 3-4 2-75 3-61 3-52 2-44 3-37 3-33 2-29 3-26 3-23 2-20 3-16 3-14 2-12 3-10 3-7 3-4 2-8 3-6 3-4 2-1 3 2 3 4 2 7 3 11 3 14 2 18 3 22 3 28 2 34 3 43 3 52 2 67 3 88 3 96 2 0 3 0 3 0 2 0 3 0 3-139 2-103 3-82 3-67 2-56 3-48 3-40 2-34 3-29 3-24 2-20 3-15 3-11 2-6 3-2 3 2 2 8 3 14 3 20 2 27 3 38 3 50 2 68 3 94 3 144 2 211 3 0 3 0 2-279 3-173 3-125 2-99 3-81 3-69 2-60 3-53 3-46 2-41 3-37 3-33 2-30 3-26 3-23 2-20 3-17 3-15 2-13 3-10 3-8 2-5 3-4 3-1 2 2 3 4 3 7 2 9 3 12 3 14 2 17 3 21 3 23 2 27 3 31 3 36 2 40 3 46 3 53 2 61 3 72 3 85 2 106 3 138 3 199 2 265 3 0 3-112 3-203 2-119 3-79 3-54 2-37 3-24 3-13 2-4 3 4 3 13 2 21 3 30 3 40 2 51 3 65 3 84 2 111 3 160 3 66 2 0 3 0 3-3 2-150 3-97 3-68 2-47 3-33 3-21 2-11 3-1 3 8 2 18 3 27 3 37 2 50 3 66 3 87 2 119 3 19 3 0 2 0 3 0 3 0 2-40 3-89 3-63 2-44 3-31 3-19 2-9 3 1" stroke="#111" stroke-width="15"/>
<path d="M460 2345l3 0 2 0 3 0 3 0 2-62 3-53 3-38 2-26 3-16 3-6 2 3 3 13 3 23 2 34 3 47 3 65 2 16 3 0 3 0 2 0 3 0 3 0 2 0 3 0 3-5 2-64 3-47 3-33 2-23 3-13 3-3 2 5 3 15 3 24 2 35 3 48 3 61 2 0 3 0 3 0 2 0 3 0 3 0 2 0 3 0 3 0 2-57 3-49 3-35 3-25 2-16 3-7 3 2 2 9 3 18 3 27 2 38 3 51 3 44 2 0 3 0 3 0 2 0 3 0 3 0 2 0 3 0 3 0 2-52 3-50 3-38 2-28 3-19 3-12 2-4 3 3 3 10 2 17 3 26 3 34 2 45 3 59 3 9 2 0 3 0 3 0 2 0 3 0 3 0 2 0 3 0 3 0 2-55 3-49 3-38 2-30 3-22 3-16 2-9 3-4 3 2 2 7 3 13 3 18 2 26 3 32 3 41 2 50 3 34 3 0 2 0 3 0 3 0 2 0 3 0 3 0 2 0 3 0 3 0 2-38 3-51 3-41 2-34 3-27 3-22 2-17 3-13 3-8 2-5 3-1 3 2 2 6 3 9 3 14 2 16 3 21 3 26 2 30 3 36 3 43 2 51 3 3 3 0 2 0 3 0 3 0 2 0 3 0 3 0 3 0 2 0 3 0 3 0 2-16 3-56 3-49 2-42 3-37 3-32 2-29 3-28 3-24 2-22 3-20 3-18 2-15 3-15 3-12 2-11 3-10 3-8 2-6 3-6 3-4 2-3 3-3 3-1 2 0 3 1 3 2 2 3 3 3 3 5 2 5 3 7 3 7 2 9 3 9 3 10 2 11 3 13 3 13 2 15 3 15 3 17 2 18 3 19 3 20 2 21 3 23 3 24 2 26 3 28 3 29 2 31 3 33 3 36 2 14 3 0 3 0 2 0 3 0 3 0 2 0 3 0 3 0 2 0 3 0 3 0 2 0 3 0 3 0 2 0 3 0 3 0 2 0 3 0 3 0 2 0 3 0 3 0 2 0 3 0 3 0 2 0 3 0 3 0 2 0 3 0 3-44 2-54 3-51 3-47 2-46 3-43 3-40 2-39 3-37 3-36 3-34 2-30 3-30 3-28 2-27 3-26 3-24 2-24 3-22 3-22 2-20 3-20 3-18 2-18 3-17 3-16 2-15 3-14 3-13 2-12 3-11 3-9 2-8 3-7 3-6 2-5 3-4 3-3 2-1 3 0 3 0 2 3 3 3 3 6 2 6 3 9 3 10 2 13 3 14 3 18 2 19 3 24 3 26 2 31 3 36 3 43 2 50 3 60 3 74 2 95 3 130 3 198 2 53 3 0 3-49 2-204 3-133 3-98 2-77 3-62 3-51 2-44 3-36 3-31 2-25 3-22 3-17 2-13 3-10 3-6 2-3 3 1 3 4 2 9 3 12 3 17 2 21 3 27 3 34 2 41 3 50 3 64 2 80 3 107 3 154 2 260 3 0 3 0 2-245 3-161 3-111 2-82 3-65 3-51 2-41 3-33 3-25 2-19 3-13 3-8 3-2 2 4 3 9 3 15 2 22 3 29 3 38 2 49 3 62 3 82 2 111 3 164 3 271 2 0 3-69 3-251 2-148 3-103 3-77 2-58 3-46 3-34 2-26 3-18 3-10 2-3 3 3 3 11 2 19 3 27 3 38 2 49 3 65 3 88 2 122 3 191 3 230 2 0 3-200 3-205 2-130 3-91 3-69 2-51 3-39 3-28 2-18 3-10 3-2 2 6 3 15 3 24 2 35 3 48 3 64 2 88 3 124 3 196 2 243 3 0 3-246 2-198 3-126 3-89 2-66 3-49 3-36 2-25 3-15 3-6 2 3 3 12 3 22 2 33 3 47 3 63 2 87 3 124 3 199 2 266 3 0 3-285 2-196 3-124 3-88 2-65 3-47 3-35 2-24 3-13 3-4 2 5 3 15 3 26 2 37 3 53 3 72 2 101 3 152 3 268 3 152 2-153 3-274 3-155 2-106 3-76 3-57 2-41 3-30 3-19 2-9 3 0 3 9 2 20 3 30 3 44 2 61 3 83 3 120 2 191 3 362 3 0 2-351 3-204 3-129 2-91 3-67 3-51 2-37 3-26 3-17 2-7 3 2 3 11 2 20 3 32 3 44 2 62 3 84 3 121 2 193 3 411 3 0 2-417 3-202 3-129 2-92 3-69 3-52 2-40 3-29 3-20 2-11 3-3 3 5 2 14 3 23 3 33 2 47 3 63 3 86 2 124 3 199 3 461 2-91 3-412 3-197 2-128 3-93 3-71 2-55 3-44 3-33 2-24 3-17 3-10 2-3 3 4 3 12 2 19 3 28 3 39 2 52 3 69 3 96 2 141 3 243 3 484 2-395 3-308 3-172 2-119 3-90 3-70 2-57 3-46 3-37 2-31 3-23 3-18 3-13 2-7 3-2 3 4 2 9 3 15 3 23 2 30 3 41 3 53 2 72 3 99 3 148 2 268 3 626 3-676 2-279 3-168 3-122 2-95 3-78 3-67 2-57 3-50 3-45 2-40 3-35 3-32 2-30 3-26 3-24 2-22 3-19 3-18 2-16 3-14 3-13 2-12 3-10 3-9 2-8 3-7 3-5 2-5 3-3 3-3 2-2 3 0 3 0 2 0 3 2 3 2 2 3 3 4 3 5 2 5 3 6 3 6 2 7 3 8 3 8 2 9 3 10 3 10 2 11 3 11 3 12 2 12 3 13 3 13 2 14 3 14 3 15 2 15 3 16 3 17 2 17 3 17 3 18 2 18 3 19 3 21 2 22 3 22 3 22 2 23 3 24 3 24 2 25 3 26 3 26 2 27 3 27 3 29 2 29 3 30 3 31 2 31 3 33 3 34 3 35 2 38 3 39 3 41 2 42 3 44 3 46 2 48 3 50 3 53 2 56 3 59 3 64 2 67 3 74 3 79 2 89 3 98 3 109 2 16 3 0 3 0 2 0 3 0 3 0 2 0 3 0 3 0 2 0 3 0 3 0 2 0 3 0 3-41 2-88 3-78 3-70 2-63 3-58 3-54 2-50 3-46 3-43 2-41 3-38 3-36 2-35 3-32 3-31 2-30 3-28 3-27 2-26 3-25 3-24 2-23 3-22 3-21 2-20 3-20 3-19 2-18 3-17 3-16 2-16 3-15 3-15 2-14 3-13 3-13 2-13 3-12 3-11 2-11 3-10 3-10 2-9 3-9 3-8 2-8 3-7 3-7 2-6 3-5 3-5 2-5 3-4 3-3 2-3 3-2 3-1 2-3 3-2 3-1 2 0 3 0 3 1 2 1 3 2 3 3 3 4 2-2 3 0 3 0 2 1 3 2 3 3 2 4 3 5 3 6 2 7 3 8 3 9 2 11 3 11 3 14 2 14 3 17 3 18 2 20 3 22 3 24 2 27 3 29 3 33 2 36 3 40 3 45 2 50 3 58 3 66 2 79 3 95 3 122 2 169 3 279 3 48 2 0 3-265 3-148 2-98 3-71 3-54 2-40 3-30 3-22 2-15 3-9 3-4 2 3 3 7 3 13 2 18 3 24 3 31 2 38 3 46 3 57 2 71 3 89 3 120 2 172 3 67 3 0 2 0 3-89 3-141 2-95 3-70 3-52 2-38 3-28 3-19 2-11 3-4 3 3 2 11 3 17 3 26 2 33 3 44 3 56 2 71 3 94 3 129 2 63 3 0 3 0 2 0 3-20 3-123 2-86 3-63 3-45 2-33 3-23 3-13 2-4 3 4 3 11 3 21 2 29 3 41 3 53 2 69 3 93 3 89 2 0 3 0 3 0 2 0 3 0 3-62 2-84 3-60 3-44 2-31 3-20 3-10 2-2 3 8 3 17 2 27 3 38 3 51 2 68 3 92 3 12 2 0 3 0 3 0 2 0 3 0 3 0 2-80 3-60 3-43 2-30 3-19 3-9 2 1 3 10 3 19 2 30 3 43 3 57 2 77 3 4 3 0 2 0 3 0" stroke="#111" stroke-width="15"/>
<path d="M460 2345l3 0 2 0 3 0 3 0 2 0 3-34 3-77 2-57 3-42 3-29 2-18 3-8 3 1 2 10 3 20 3 31 2 44 3 60 3 81 2 18 3 0 3 0 2 0 3 0 3 0 2 0 3-63 3-68 2-51 3-37 3-25 2-16 3-6 3 2 2 12 3 21 3 32 2 44 3 59 3 81 2 15 3 0 3 0 2 0 3 0 3 0 2 0 3-56 3-71 3-53 2-39 3-29 3-19 2-10 3-2 3 6 2 14 3 23 3 33 2 45 3 60 3 79 2 19 3 0 3 0 2 0 3 0 3 0 2 0 3-48 3-75 2-57 3-43 3-33 2-24 3-15 3-8 2-2 3 6 3 13 2 20 3 28 3 37 2 49 3 64 3 83 2 5 3 0 3 0 2 0 3 0 3 0 2 0 3-45 3-76 2-59 3-46 3-36 2-28 3-21 3-15 2-9 3-3 3 2 2 7 3 12 3 18 2 25 3 31 3 40 2 49 3 62 3 79 2 13 3 0 3 0 2 0 3 0 3 0 2 0 3 0 3-80 2-66 3-53 3-44 2-36 3-29 3-24 2-19 3-15 3-11 2-7 3-3 3 0 2 3 3 6 3 10 2 13 3 17 3 20 2 25 3 29 3 35 2 41 3 48 3 58 2 71 3 11 3 0 3 0 2 0 3 0 3 0 2 0 3 0 3 0 2-69 3-72 3-59 2-52 3-46 3-41 2-37 3-32 3-30 2-26 3-25 3-22 2-20 3-18 3-16 2-15 3-13 3-12 2-10 3-10 3-8 2-8 3-6 3-6 2-5 3-3 3-4 2-2 3-1 3-1 2-1 3 1 3 1 2 1 3 3 3 3 2 3 3 4 3 5 2 4 3 6 3 5 2 6 3 6 3 6 2 7 3 6 3 7 2 7 3 7 3 6 2 7 3 6 3 7 2 6 3 5 3 5 2 5 3 4 3 3 2 3 3 3 3 1 2 0 3 0 3-2 2-3 3-4 3-6 2-5 3-6 3-8 2-9 3-9 3-11 2-12 3-13 3-13 2-15 3-13 3-14 2-15 3-15 3-16 2-16 3-16 3-16 2-16 3-17 3-16 2-16 3-17 3-16 3-16 2-14 3-14 3-13 2-13 3-13 3-12 2-12 3-12 3-11 2-10 3-10 3-10 2-8 3-9 3-7 2-7 3-6 3-6 2-4 3-4 3-2 2 0 3 0 3 2 2 2 3 4 3 4 2 7 3 7 3 9 2 11 3 13 3 14 2 17 3 20 3 22 2 25 3 29 3 34 2 39 3 46 3 53 2 66 3 81 3 105 2 147 3 243 3 69 2 0 3-248 3-173 2-118 3-90 3-71 2-59 3-49 3-41 2-35 3-30 3-25 2-20 3-17 3-14 2-10 3-7 3-3 2 0 3 3 3 7 2 10 3 15 3 19 2 23 3 29 3 36 2 43 3 53 3 66 2 85 3 113 3 165 2 296 3 47 3-132 2-254 3-150 3-106 2-79 3-62 3-50 2-40 3-31 3-25 2-19 3-13 3-7 2-2 3 3 3 9 3 14 2 21 3 28 3 36 2 45 3 59 3 75 2 100 3 143 3 237 2 200 3-35 3-321 2-171 3-115 3-84 2-63 3-50 3-37 2-29 3-20 3-13 2-6 3 1 3 8 2 15 3 23 3 32 2 43 3 56 3 75 2 100 3 146 3 246 2 199 3-88 3-303 2-165 3-111 3-80 2-61 3-45 3-34 2-23 3-15 3-7 2 2 3 9 3 19 2 27 3 39 3 53 2 71 3 96 3 140 2 232 3 244 3-68 2-325 3-171 3-113 2-81 3-60 3-45 2-32 3-22 3-12 2-3 3 5 3 15 2 25 3 36 3 50 2 69 3 93 3 136 2 226 3 277 3-64 2-339 3-175 3-114 2-82 3-61 3-44 2-32 3-21 3-11 2-1 3 8 3 17 2 28 3 41 3 57 2 77 3 109 3 165 2 310 3 132 3-275 3-240 2-143 3-99 3-71 2-53 3-39 3-27 2-16 3-7 3 3 2 12 3 22 3 34 2 47 3 66 3 90 2 131 3 215 3 350 2-77 3-364 3-182 2-119 3-85 3-62 2-47 3-34 3-23 2-13 3-4 3 4 2 14 3 25 3 35 2 50 3 67 3 94 2 136 3 228 3 357 2-170 3-332 3-174 2-116 3-84 3-62 2-48 3-35 3-25 2-15 3-8 3 1 2 10 3 18 3 28 2 40 3 53 3 73 2 100 3 149 3 260 2 337 3-309 3-283 2-161 3-110 3-81 2-62 3-48 3-37 2-27 3-19 3-12 2-4 3 3 3 10 2 18 3 27 3 36 2 49 3 65 3 87 2 124 3 196 3 436 2-20 3-433 3-202 2-131 3-95 3-73 2-58 3-46 3-36 2-29 3-22 3-15 2-10 3-4 3 2 3 7 2 14 3 19 3 28 2 35 3 47 3 59 2 79 3 107 3 160 2 293 3 426 3-527 2-258 3-155 3-110 2-85 3-68 3-56 2-47 3-39 3-32 2-27 3-22 3-18 2-14 3-10 3-6 2-3 3 1 3 5 2 9 3 13 3 17 2 22 3 28 3 36 2 43 3 55 3 69 2 92 3 130 3 208 2 514 3-225 3-384 2-197 3-133 3-102 2-83 3-69 3-59 2-52 3-46 3-41 2-37 3-34 3-31 2-28 3-26 3-24 2-22 3-21 3-18 2-18 3-16 3-15 2-15 3-13 3-12 2-11 3-10 3-10 2-9 3-8 3-8 2-7 3-7 3-6 2-5 3-5 3-4 2-2 3-3 3-2 2-2 3-1 3-1 2-1 3-1 3 0 2 0 3 0 3 0 2 1 3 1 3 0 2 1 3 2 3 1 3 1 2 3 3 3 3 4 2 3 3 3 3 4 2 3 3 4 3 3 2 4 3 3 3 4 2 3 3 4 3 3 2 5 3 5 3 5 2 5 3 5 3 4 2 5 3 5 3 4 2 5 3 6 3 6 2 6 3 5 3 6 2 6 3 5 3 6 2 6 3 5 3 6 2 7 3 6 3 6 2 6 3 6 3 6 2 6 3 7 3 6 2 6 3 6 3 7 2 6 3 7 3 6 2 7 3 7 3 7 2 7 3 8 3 7 2 8 3 7 3 8 2 9 3 9 3 10 2 9 3 10 3 10 2 11 3 11 3 11 2 12 3 12 3 12 2 14 3 13 3 14 2 15 3 16 3 16 2 16 3 18 3 19 2 19 3 20 3 22 2 22 3 24 3 25 2 26 3 28 3 29 2 30 3 32 3 34 2 37 3 40 3 43 2 47 3 52 3 58 3 65 2 69 3 83 3 102 2 134 3 197 3 225 2 0 3-129 3-208 2-129 3-92 3-69 2-54 3-44 3-34 2-28 3-22 3-17 2-13 3-8 3-5 2 0 3 2 3 7 2 10 3 14 3 19 2 22 3 27 3 33 2 39 3 47 3 56 2 69 3 85 3 111 2 155 3 156 3 0 2 0 3-88 3-160 2-107 3-79 3-59 2-46 3-35 3-27 2-20 3-13 3-7 2-1 3 4 3 10 2 16 3 22 3 29 2 36 3 47 3 58 2 73 3 95 3 132 2 120 3 0 3 0 2 0 3-96 3-123 2-87 3-65 3-48 2-36 3-27 3-17 2-10 3-2 3 5 2 12 3 19 3 28 2 37 3 49 3 63 2 81 3 111 3 106 2 0 3 0 3 0 2 0 3-95 3-100 2-72 3-53 3-39 2-27 3-18 3-8 3-1 2 8 3 16 3 26 2 36 3 47 3 64 2 84 3 116 3 16 2 0 3 0 3 0 2 0 3-57 3-93 2-67 3-49 3-35 2-23 3-14 3-4 2 5 3 14 3 24 2 34 3 47 3 64 2 85 3 69 3 0 2 0 3 0 3 0 2 0 3-19 3-90 2-64 3-47 3-33 2-22 3-12 3-1 2 7 3 17 3 27 2 40 3 53 3 72 2 72 3 0" stroke="#111" stroke-width="15"/>
<path d="M460 1694l3-61 2-13 3 38 3 105 2 197 3 385 3-188 2-281 3-112 3-36 2 12 3 50 3 61 2 45 3-5 3-12 2 10 3 25 3-29 2-121 3-148 3-112 2-56 3-39 3-23 2 1 3 18 3 31 2 35 3 18 3 13 2 20 3 31 3 44 2 34 3 11 3-26 2-40 3-20 3-1 2 25 3 51 3 66 2 41 3-13 3-31 2-13 3 43 3 126 3 239 2 36 3-305 3-186 2-89 3-45 3 0 2 27 3 64 3 97 2 118 3 81 3 42 2 26 3-16 3-97 2-151 3-105 3-96 2-65 3-24 3 2 2 27 3 48 3 55 2 36 3 13 3 5 2 13 3 45 3 82 2 95 3 114 3 60 2-41 3-9 3 23 2-11 3-134 3-165 2-120 3-77 3-42 2-11 3 15 3 45 2 79 3 99 3 156 2 182 3 223 3 137 2 0 3 0 3-294 2-146 3-75 3-53 2 30 3 108 3 293 2 137 3-427 3-220 2-124 3-70 3-38 2-11 3 12 3 33 2 23 3 18 3 29 2 24 3 1 3-14 2-37 3-45 3-46 2-36 3-22 3 0 2 21 3 42 3 57 2 68 3 59 3 42 2 27 3 32 3 74 2 124 3 223 3 181 2 0 3-65 3-84 2-95 3-187 3-201 3-154 2-116 3-89 3-70 2-54 3-39 3-30 2-26 3-21 3-19 2-22 3-23 3-26 2-29 3-31 3-34 2-31 3-28 3-25 2-20 3-17 3-14 2-11 3-10 3-9 2-10 3-10 3-11 2-12 3-13 3-13 2-13 3-13 3-11 2-9 3-8 3-7 2-7 3-6 3-6 2-6 3-7 3-8 2-8 3-8 3-8 2-8 3-8 3-6 2-7 3-6 3-6 2-6 3-6 3-5 2-6 3-6 3-5 2-6 3-6 3-5 2-6 3-6 3-6 2-6 3-6 3-5 2-6 3-6 3-6 2-6 3-6 3-6 2-6 3-5 3-5 2-5 3-4 3-5 2-5 3-5 3-4 2-5 3-5 3-4 2-3 3-3 3-4 2-3 3-4 3-3 2-4 3-4 3-4 2-3 3-4 3-4 2-4 3-3 3-2 3-2 2-2 3-2 3-1 2-1 3-2 3 0 2-1 3 0 3 0 2 0 3 1 3 1 2 1 3 2 3 3 2 3 3 3 3 4 2 6 3 7 3 7 2 7 3 8 3 9 2 9 3 10 3 11 2 11 3 12 3 13 2 14 3 15 3 15 2 17 3 18 3 19 2 21 3 22 3 23 2 26 3 28 3 31 2 33 3 37 3 41 2 46 3 53 3 60 2 70 3 85 3 106 2 143 3 215 3 429 2-122 3-341 3-179 2-118 3-85 3-66 2-52 3-42 3-33 2-27 3-21 3-16 2-12 3-7 3-4 2 0 3 4 3 7 2 12 3 15 3 20 2 24 3 29 3 35 2 42 3 50 3 60 2 74 3 92 3 117 2 144 3 117 3-54 2-143 3-125 3-99 2-77 3-62 3-50 2-40 3-33 3-24 2-18 3-13 3-7 3-3 2 2 3 7 3 12 2 17 3 23 3 29 2 36 3 43 3 54 2 66 3 82 3 106 2 146 3 230 3 541 2-273 3-338 3-169 2-109 3-75 3-55 2-39 3-27 3-17 2-8 3 0 3 8 2 16 3 25 3 34 2 44 3 56 3 71 2 89 3 109 3 113 2 50 3-67 3-109 2-97 3-77 3-60 2-45 3-34 3-24 2-14 3-6 3 3 2 12 3 21 3 31 2 44 3 60 3 82 2 115 3 178 3 331 2 87 3-384 3-202 2-131 3-94 3-70 2-53 3-41 3-30 2-20 3-12 3-4 2 4 3 12 3 20 2 28 3 38 3 48 2 58 3 66 3 68 2 48 3 2 3-44 2-65 3-66 3-57 2-46 3-37 3-28 2-20 3-12 3-4 2 3 3 10 3 17 2 25 3 34 3 42 2 52 3 62 3 69 3 69 2 47 3 0 3-45 2-62 3-62 3-54 2-43 3-33 3-24 2-15 3-7 3 0 2 9 3 17 3 25 2 33 3 43 3 52 2 60 3 65 3 61 2 38 3 1 3-31 2-44 3-43 3-36 2-25 3-15 3-4 2 7 3 18 3 30 2 43 3 55 3 65 2 57 3 18 3-45 2-82 3-87 3-78 2-68 3-56 3-47 2-38 3-31 3-23 2-18 3-12 3-6 2 0 3 5 3 12 2 17 3 25 3 32 2 42 3 52 3 66 2 85 3 111 3 151 2 194 3 50 3-180 2-159 3-115 3-84 2-63 3-47 3-35 2-25 3-17 3-7 2 0 3 7 3 16 2 24 3 33 3 44 2 56 3 72 3 91 2 111 3 107 3 16 2-97 3-119 3-101 2-83 3-66 3-55 2-44 3-36 3-29 2-23 3-17 3-13 3-7 2-4 3 2 3 5 2 10 3 15 3 24 2 29 3 36 3 42 2 52 3 62 3 77 2 98 3 133 3 201 2 320 3 0 3-288 2-199 3-127 3-91 2-70 3-55 3-44 2-36 3-29 3-24 2-19 3-14 3-10 2-7 3-4 3 0 2 3 3 6 3 9 2 13 3 16 3 19 2 24 3 26 3 31 2 36 3 43 3 50 2 61 3 74 3 95 2 126 3 184 3 201 2 0 3-213 3-179 2-124 3-93 3-74 2-60 3-50 3-42 2-35 3-31 3-26 2-23 3-19 3-16 2-14 3-11 3-10 2-7 3-6 3-4 2-3 3-1 3-1 2 1 3 2 3 3 2 5 3 6 3 7 2 8 3 8 3 9 2 10 3 10 3 10 2 11 3 11 3 12 2 11 3 12 3 12 2 12 3 11 3 12 2 11 3 11 3 13 3 13 2 13 3 13 3 12 2 13 3 13 3 13 2 12 3 13 3 13 2 13 3 13 3 14 2 14 3 16 3 17 2 16 3 18 3 17 2 18 3 17 3 16 2 14 3 12 3 10 2 4 3 0 3-6 2-11 3-15 3-17 2-20 3-20 3-19 2-18 3-16 3-13 2-11 3-7 3-4 2 1 3 5 3 9 2 15 3 20 3 26 2 36 3 41 3 48 2 54 3 62 3 74 2 87 3 105 3 61 2 0 3 0 3 0 2 0 3 0 3 0 2-40 3-110 3-67 2-34 3 2 3 42 2 81 3 99 3 8 2-83 3-48 3 24 2 102 3 24 3 0 2-132 3-210 3-112 2-50 3-1 3 39 2 70 3 93 3 127 2 116 3 60 3 0 2 0 3-260 3-226 2-149 3-97 3-69 2-27 3 12 3 50 2 80 3 142 3 218 3 326 2 0 3-150 3-46 2-37 3-143 3-139 2-128 3-77 3-28 2 14 3 70 3 136 2 281 3 247 3-380 2-185 3-51 3-4 2 34 3 17 3-49 2-73 3-69 3-33 2-4 3 26 3 76 2 106 3 191 3 71 2-170 3-126 3-52 2-13 3 7 3 19 2-4 3-28 3-17 2 5 3 43 3 105 2 128 3-50 3-129 2-97 3-79 3-23 2 14 3 48 3 58 2 67 3 32 3-32 2-34 3-2 3 50 2 157 3 229 3 202 2-303 3-165 3-48 2 42 3 148 3 345 2-187 3-350 3-169 2-93 3-33 3 7 2 56 3 92 3 120 2 82 3-34 3-44 2 9 3 68 3 219 2 257 3-339 3-183 2-115 3-38 3 4 2 37 3 31 3-23 2-70 3-67 3-27 2 25 3 93 3 136 2 167 3-93 3-187 3-129 2-63 3-9 3 27 2 53 3 49 3 8 2-27 3-8 3 60 2 117 3 180 3-9 2-218 3-133 3-57 2-14 3 23 3 31 2-22 3-54 3-53 2-32 3 1 3 44 2 98 3 145 3 150 2-118 3-115 3-72 2-17 3 26 3 44 2 9 3-62 3-62 2-23 3 26 3 92 2 177 3 409 3-113 2-368 3-120 3-39 2 9 3 58 3 66 2 46 3-58" stroke="#d8281d" stroke-width="12" stroke-dasharray="30 13 10 13"/>
<path d="M460 1728l3 23 2-23 3-24 3 13 2 43 3 37 3-59 2-115 3-81 3-44 2-13 3 18 3 32 2 50 3 50 3 53 2 89 3 118 3-3 2-116 3-157 3-93 2-31 3 25 3 72 2 147 3 344 3 262 2-296 3-140 3 3 2 123 3 245 3-192 2-150 3-25 3 21 2-78 3-154 3-152 2-95 3-51 3-17 2 23 3 53 3 73 2 64 3 29 3-22 3-47 2-49 3-45 3-48 2-34 3-3 3 20 2 55 3 107 3 196 2 255 3-36 3-150 2-52 3 34 3 122 2 246 3 123 3-107 2-127 3-83 3-121 2-134 3-115 3-82 2-35 3 15 3 61 2 116 3 267 3 356 2-180 3-131 3 35 2 192 3-31 3-297 2-144 3-76 3-14 2 23 3 80 3 65 2 0 3-32 3-5 2 54 3 145 3 249 2-217 3-236 3-113 2-43 3 25 3 97 2 277 3 310 3-369 2-210 3-120 3-77 2-66 3-69 3-61 2-52 3-35 3-15 2-5 3 1 3-10 2-21 3-27 3-32 2-35 3-32 3-32 2-25 3-21 3-12 2-4 3 3 3 6 2 3 3-2 3-8 2-14 3-16 3-14 2-12 3-9 3-4 2 1 3 6 3 12 2 15 3 10 3 7 2 0 3-2 3-10 3-11 2-10 3-8 3-4 2 0 3 5 3 5 2 5 3 4 3-2 2-4 3-5 3-5 2-2 3 0 3 1 2 5 3 8 3 11 2 13 3 13 3 11 2 10 3 9 3 8 2 9 3 10 3 12 2 16 3 19 3 21 2 24 3 25 3 25 2 22 3 22 3 22 2 23 3 24 3 28 2 30 3 32 3 30 2 28 3 23 3 16 2 10 3 7 3 6 2 6 3 7 3 3 2 3 3 5 3 6 2 8 3 20 3 23 2 27 3 30 3 35 2 38 3 43 3 48 2 54 3 61 3 67 2 74 3 83 3 87 2 86 3 2 3 0 2 0 3 0 3 0 2 0 3-9 3-22 2-27 3-38 3-53 2-67 3-75 3-77 2-77 3-74 3-71 2-67 3-64 3-60 2-56 3-54 3-51 2-49 3-46 3-44 2-43 3-41 3-38 3-36 2-36 3-33 3-33 2-31 3-31 3-29 2-28 3-27 3-26 2-25 3-24 3-24 2-22 3-22 3-21 2-20 3-19 3-19 2-16 3-16 3-15 2-15 3-15 3-13 2-14 3-12 3-13 2-12 3-12 3-11 2-11 3-11 3-10 2-10 3-10 3-9 2-10 3-9 3-8 2-8 3-8 3-7 2-7 3-6 3-6 2-4 3-5 3-3 2-3 3-2 3-1 2 0 3 1 3 2 2 3 3 4 3 6 2 7 3 8 3 9 2 11 3 13 3 14 2 16 3 18 3 20 2 22 3 25 3 27 2 30 3 34 3 37 2 41 3 46 3 53 2 59 3 69 3 82 2 100 3 129 3 180 2 309 3 396 3-500 2-223 3-134 3-92 2-68 3-51 3-40 2-32 3-23 3-18 2-13 3-8 3-1 2 3 3 7 3 10 3 15 2 19 3 23 3 27 2 33 3 39 3 46 2 54 3 65 3 79 2 98 3 128 3 177 2 244 3 37 3-223 2-161 3-108 3-76 2-55 3-39 3-26 2-15 3-5 3 5 2 15 3 25 3 36 2 52 3 71 3 98 2 147 3 257 3 351 2-318 3-286 3-162 2-111 3-82 3-63 2-49 3-38 3-28 2-21 3-13 3-6 2 1 3 7 3 14 2 21 3 29 3 37 2 48 3 58 3 71 2 82 3 84 3 54 2-14 3-69 3-81 2-73 3-60 3-49 2-38 3-29 3-21 2-13 3-6 3 1 2 7 3 14 3 21 2 28 3 36 3 45 2 55 3 69 3 85 2 110 3 149 3 218 2 286 3-115 3-234 2-140 3-88 3-57 2-36 3-17 3-3 2 13 3 27 3 45 2 68 3 99 3 153 2 283 3 2 3-85 3-253 2-149 3-100 3-73 2-52 3-36 3-24 2-12 3-1 3 11 2 22 3 35 3 51 2 68 3 88 3 102 2 66 3-46 3-113 2-111 3-93 3-75 2-60 3-48 3-38 2-29 3-21 3-15 2-8 3-2 3 4 2 11 3 17 3 24 2 31 3 41 3 50 2 63 3 79 3 99 2 122 3 123 3 31 2-97 3-117 3-97 2-75 3-58 3-43 2-32 3-21 3-13 2-3 3 4 3 14 2 23 3 33 3 45 2 60 3 80 3 109 2 158 3 253 3 83 2-178 3-206 3-132 2-91 3-66 3-47 2-34 3-23 3-13 2-4 3 4 3 12 2 20 3 28 3 37 2 44 3 53 3 59 2 60 3 48 3 21 2-16 3-42 3-52 2-50 3-43 3-37 2-30 3-23 3-17 2-11 3-7 3-1 2 3 3 8 3 11 3 15 2 19 3 22 3 24 2 27 3 27 3 30 2 32 3 33 3 30 2 26 3 16 3 2 2-14 3-26 3-36 2-40 3-41 3-41 2-38 3-35 3-31 2-28 3-25 3-20 2-17 3-14 3-10 2-6 3-2 3 1 2 6 3 10 3 14 2 19 3 24 3 30 2 37 3 46 3 55 2 68 3 88 3 117 2 167 3 154 3 0 2-62 3-198 3-134 2-98 3-76 3-62 2-50 3-42 3-36 2-30 3-26 3-22 2-18 3-15 3-13 2-10 3-8 3-6 2-5 3-3 3-2 2 0 3 1 3 2 2 3 3 5 3 5 2 6 3 7 3 9 2 10 3 11 3 12 2 16 3 16 3 19 2 21 3 22 3 25 2 26 3 30 3 32 2 34 3 39 3 41 2 45 3 49 3 53 2 56 3 57 3 56 2 48 3 33 3 13 3-9 2-24 3-32 3-33 2-31 3-27 3-33 2-29 3-25 3-21 2-19 3-15 3-13 2-10 3-9 3-7 2-6 3-4 3-4 2-4 3-3 3-3 2-3 3-3 3-3 2-2 3-2 3-2 2-2 3 0 3 0 2 2 3 2 3 3 2 4 3 4 3 5 2 4 3 4 3 2 2 2 3-1 3-1 2-4 3-4 3-4 2 1 3 0 3 1 2 0 3 2 3 1 2-4 3-9 3-12 2-12 3-10 3-2 2 6 3 12 3 15 2 7 3-5 3-20 2-32 3-42 3-36 2-27 3-18 3 1 2 20 3 37 3 47 2 36 3 22 3-5 2-29 3-38 3-49 2-58 3-59 3-40 2-22 3 1 3 38 2 65 3 77 3 77 2 48 3-6 3-57 2-94 3-68 3-55 2-35 3-12 3 24 2 65 3 132 3 212 3 348 2 35 3 0 3 0 2 0 3-269 3-243 2-93 3-46 3 0 2 50 3 101 3 99 2 33 3 3 3 39 2 69 3-64 3-206 2-136 3-85 3-32 2 4 3 39 3 58 2 73 3 82 3 72 2 45 3-27 3-103 2-113 3-76 3-46 2-17 3 9 3 27 2 59 3 49 3 54 2 40 3 17 3-19 2-49 3-69 3-78 2-52 3-32 3-8 2 13 3 36 3 47 2 47 3 51 3 27 2-16 3-47 3-61 2-52 3-34 3-10 2 9 3 37 3 58 2 98 3 111 3 148 2 126 3-2 3-72 2-108 3-97 3-54 2-28 3 18 3 72 2 139 3 285 3 100 2 0 3-113 3 56 2 57 3 0 3-265 2-132 3-28 3 62 2 208 3 155 3-184 2-237 3-117 3-46 2 22 3 74 3 104 2 164 3 194 3 26 3 0 2 0 3-161 3-254 2-139 3-61 3-4 2 62 3 142 3 305 2 110 3-328 3-137 2-43 3 49 3 90 2 13 3-94 3-78 2-12 3 67 3 160 2 313 3-126 3-249 2-103 3-8 3 88 2 291 3 107 3-364 2-171 3-59 3 6 2 60 3 54 3-12 2-78 3-62 3-5 2 74 3 143 3 308 2-4 3-260 3-136 2-16 3 91 3 221 2 1 3-195" stroke="#d8281d" stroke-width="12" stroke-dasharray="30 13 10 13"/>
<path d="M460 2345l3-319 2-129 3-3 3 148 2 275 3-65 3-319 2-190 3-86 3-18 2 21 3 57 3 41 2-14 3-53 3-32 2 13 3 85 3 104 2 14 3-130 3-89 2-67 3-29 3 26 2 63 3 90 3 43 2-2 3 15 3 105 2 299 3 0 3-352 2-191 3-90 3-34 2 22 3 76 3 142 2 348 3 225 3-400 2-138 3-18 3 54 2 74 3 3 3-95 3-77 2 4 3 76 3 98 2-68 3-195 3-150 2-94 3-44 3-16 2 14 3 17 3 10 2-13 3-33 3-40 2-44 3-46 3-43 2-36 3-29 3-15 2-3 3 13 3 20 2 27 3 24 3 17 2 5 3-2 3-6 2-11 3-14 3-11 2-2 3 6 3 20 2 40 3 55 3 60 2 78 3 80 3 62 2 38 3 14 3 1 2-29 3-7 3-8 2 15 3 46 3 90 2 156 3 198 3 38 2-222 3-137 3-60 2-8 3 50 3 118 2 278 3 215 3-114 2-181 3-53 3 103 2 245 3-20 3-342 2-154 3-66 3-14 2 12 3-9 3-81 2-93 3-69 3-39 2 5 3 50 3 84 2 118 3 161 3 76 2-24 3-39 3-62 2-111 3-89 3-65 2-18 3 35 3 101 2 173 3 235 3-32 2-207 3-108 3-27 3 31 2 102 3 181 3 262 2 43 3 0 3 0 2 0 3-121 3-223 2-155 3-112 3-46 2 0 3 31 3 75 2 129 3 176 3 221 2 25 3 0 3 0 2 0 3-68 3-210 2-121 3-59 3-7 2 32 3 54 3 77 2 83 3 55 3-3 2-51 3-67 3-71 2-75 3-58 3-40 2-26 3-16 3-10 2-11 3-16 3-21 2-27 3-30 3-32 2-30 3-26 3-22 2-20 3-19 3-16 2-14 3-10 3-6 2-4 3-2 3 1 2 2 3 5 3 7 2 9 3 11 3 13 2 13 3 14 3 15 2 14 3 14 3 12 2 11 3 9 3 8 2 6 3 4 3 0 2-1 3-5 3-6 2-8 3-9 3-10 2-9 3-10 3-10 2-10 3-9 3-9 2-9 3-9 3-7 2-7 3-6 3-5 2-4 3-4 3-3 3 0 2 0 3 1 3 1 2 2 3 3 3 4 2 4 3 6 3 6 2 7 3 9 3 10 2 11 3 14 3 15 2 19 3 21 3 24 2 29 3 35 3 42 2 50 3 60 3 76 2 98 3 133 3 189 2 0 3 0 3-190 2-151 3-114 3-90 2-74 3-63 3-54 2-47 3-42 3-37 2-33 3-30 3-27 2-24 3-21 3-19 2-16 3-15 3-12 2-9 3-8 3-5 2-3 3 0 3 2 2 5 3 9 3 11 2 16 3 20 3 24 2 32 3 38 3 47 2 58 3 74 3 95 2 123 3 143 3 52 2-128 3-153 3-124 2-99 3-80 3-67 2-57 3-48 3-41 2-35 3-31 3-25 2-22 3-17 3-14 2-9 3-6 3-1 2 3 3 8 3 14 2 20 3 27 3 37 2 50 3 68 3 95 2 144 3 264 3 562 3-629 2-279 3-172 3-124 2-99 3-81 3-69 2-60 3-53 3-46 2-42 3-36 3-33 2-29 3-26 3-23 2-20 3-18 3-15 2-12 3-10 3-8 2-6 3-4 3-1 2 1 3 3 3 6 2 8 3 10 3 14 2 15 3 19 3 22 2 26 3 29 3 33 2 39 3 44 3 51 2 59 3 69 3 83 2 103 3 134 3 192 2 350 3 410 3-585 2-212 3-123 3-83 2-57 3-41 3-27 2-17 3-8 3 1 2 8 3 16 3 23 2 32 3 42 3 52 2 65 3 83 3 108 2 149 3 235 3 514 2-241 3-334 3-162 2-101 3-68 3-45 2-28 3-15 3-4 2 8 3 18 3 29 2 42 3 55 3 72 2 91 3 104 3 84 2-10 3-91 3-103 2-87 3-69 3-53 2-41 3-30 3-20 2-11 3-3 3 6 3 15 2 25 3 36 3 48 2 65 3 87 3 114 2 146 3 108 3-85 2-153 3-126 3-96 2-74 3-57 3-44 2-34 3-24 3-17 2-9 3-2 3 4 2 12 3 18 3 26 2 34 3 43 3 54 2 65 3 77 3 85 2 73 3 23 3-44 2-75 3-75 3-65 2-52 3-41 3-31 2-21 3-14 3-7 2 1 3 8 3 16 2 22 3 31 3 40 2 49 3 62 3 75 2 91 3 105 3 97 2 30 3-60 3-89 2-81 3-66 3-50 2-38 3-26 3-17 2-9 3 0 3 8 2 16 3 24 3 34 2 45 3 56 3 71 2 84 3 89 3 55 2-29 3-90 3-97 2-87 3-72 3-61 2-50 3-41 3-34 2-28 3-21 3-17 2-11 3-6 3-2 2 4 3 8 3 13 2 18 3 23 3 28 2 34 3 39 3 43 3 45 2 44 3 37 3 25 2 6 3-8 3-16 2-22 3-22 3-19 2-14 3-9 3-3 2 3 3 9 3 14 2 20 3 26 3 31 2 38 3 46 3 55 2 65 3 81 3 101 2 136 3 89 3 0 2 0 3 0 3-123 2-116 3-87 3-70 2-58 3-48 3-42 2-37 3-32 3-28 2-26 3-21 3-20 2-17 3-16 3-14 2-12 3-11 3-10 2-8 3-6 3-5 2-2 3-1 3 1 2 4 3 6 3 9 2 11 3 14 3 18 2 20 3 25 3 29 2 33 3 39 3 46 2 53 3 63 3 76 2 92 3 111 3 125 2 35 3 0 3-115 2-111 3-90 3-74 2-60 3-49 3-40 2-35 3-28 3-25 2-20 3-18 3-14 2-12 3-10 3-9 2-6 3-6 3-4 2-4 3-3 3-3 2-2 3-3 3-3 3-1 2-2 3-3 3-2 2-4 3-4 3-5 2-6 3-6 3-7 2-8 3-8 3-9 2-9 3-10 3-8 2-8 3-9 3-8 2-8 3-7 3-7 2-6 3-6 3-5 2-3 3-3 3-1 2-1 3 0 3 1 2 1 3 3 3 4 2 5 3 6 3 6 2 8 3 10 3 10 2 11 3 12 3 14 2 15 3 16 3 17 2 24 3 25 3 26 2 27 3 28 3 32 2 30 3 25 3 23 2 20 3 23 3 34 2 53 3 82 3 108 2 182 3 27 3 0 2 0 3 0 3 0 2 0 3 0 3 0 2 0 3 0 3 0 2-82 3-180 3-138 2-74 3-38 3 0 2 45 3 104 3 165 2 198 3-31 3-195 2-110 3-54 3-47 2-62 3-75 3-64 2-40 3-12 3 14 2 33 3 51 3 42 2 17 3-21 3-36 3-33 2-34 3-37 3-36 2-38 3-22 3 1 2 24 3 67 3 100 2 145 3 67 3-59 2-62 3-4 3 43 2 66 3 10 3-101 2-85 3-33 3 19 2 89 3 133 3 65 2-144 3-125 3-76 2-15 3 23 3 92 2 168 3 249 3 133 2 0 3-58 3 58 2 0 3-370 3-223 2-132 3-66 3-29 2 9 3 46 3 67 2 42 3 6 3-12 2 6 3 36 3 85 2 45 3-35 3-82 2-53 3-36 3 5 2 33 3 49 3 24 2-29 3-27 3 0 2 51 3 143 3 294 2-39 3-343 3-151 2-57 3-6 3 41 2 104 3 216 3 181 2-150 3-153 3-66 2-33 3-31 3-50 2-56 3-49 3-3 2 47 3 126 3 248 2 377 3-411 3-191 2-79 3 2 3 82 2 233 3 364 3-283 2-208 3-73 3 15 3 61 2 12 3-88 3-111 2-70 3-34 3 9 2 68 3 132 3 314 2 256 3-302 3-96 2 40 3 206 3 152 2-325 3-206 3-98 2-47 3 2 3 25 2 7 3-42 3-56 2-37 3-11 3 21 2 46 3 91 3 96 2 57 3-19 3-34 2-20 3-5 3-3 2-24 3-35 3 2 2 35 3 96 3 213 2 271 3-268 3-220 2-121 3-42 3 22 2 87 3 163" stroke="#d8281d" stroke-width="12" stroke-dasharray="30 13 10 13"/>
<path d="M460 1117l3-8 2-18 3-24 3-25 2-13 3-6 3-3 2 6 3 17 3 30 2 41 3 56 3 72 2 90 3 111 3 129 2 140 3 122 3 90 2-22 3-22 3-70 2-34 3-8 3 45 2 69 3 26 3-120 2-144 3-117 3-80 2-42 3-13 3 19 2 61 3 104 3 177 2 250 3 144 3-224 2-148 3-61 3-14 2-2 3 56 3 43 2 21 3 15 3 38 3 87 2 208 3 112 3-368 2-186 3-143 3-77 2-35 3 6 3 39 2 83 3 139 3 154 2-84 3-194 3-120 2-55 3-28 3 1 2 25 3 70 3 81 2 120 3 106 3 93 2 52 3 24 3-34 2-126 3-143 3-114 2-100 3-52 3-25 2-5 3 20 3 39 2 58 3 37 3 14 2-11 3-11 3 17 2 44 3 86 3 123 2 95 3-77 3-110 2-85 3-28 3 10 2 52 3 94 3 89 2 7 3-79 3-92 2-39 3-8 3 25 2 47 3 73 3 26 2-67 3-69 3-44 2-8 3 21 3 56 2 84 3 82 3 0 2-71 3-60 3-39 2-19 3 7 3 13 2-7 3-33 3-60 2-55 3-31 3 1 2 33 3 76 3 128 2 239 3 370 3-160 2-261 3-105 3-21 2 40 3 89 3 179 2 239 3-13 3-263 3-71 2 35 3 106 3 58 2-200 3-201 3-101 2-76 3-43 3-23 2-2 3 17 3 32 2 47 3 57 3 66 2 54 3 34 3 4 2-19 3-21 3-30 2-45 3-37 3-27 2-13 3-7 3 4 2 13 3 17 3 21 2 10 3 9 3 3 2-3 3-9 3-15 2-19 3-21 3-21 2-15 3-11 3-3 2 5 3 14 3 22 2 28 3 36 3 41 2 47 3 53 3 66 2 82 3 103 3 134 2 91 3 0 3 0 2 0 3 0 3-63 2-52 3-32 3-18 2-7 3 2 3 7 2 11 3 12 3 8 2 2 3-6 3-15 2-21 3-25 3-25 2-24 3-22 3-18 2-14 3-9 3-4 2 0 3 6 3 10 2 16 3 21 3 27 2 34 3 39 3 46 2 51 3 55 3 8 2 0 3 0 3 0 2 0 3 0 3-53 3-57 2-54 3-51 3-46 2-43 3-41 3-39 2-37 3-36 3-35 2-33 3-31 3-31 2-28 3-28 3-26 2-25 3-23 3-22 2-20 3-19 3-18 2-17 3-14 3-13 2-12 3-11 3-10 2-10 3-8 3-8 2-6 3-6 3-5 2-3 3-2 3-1 2 1 3 3 3 4 2 7 3 10 3 12 2 15 3 19 3 23 2 28 3 34 3 40 2 48 3 60 3 74 2 97 3 132 3 200 2 115 3 0 3-181 2-178 3-122 3-91 2-71 3-58 3-47 2-40 3-33 3-27 2-21 3-18 3-12 2-9 3-5 3-2 2 3 3 6 3 10 2 13 3 17 3 22 2 25 3 29 3 33 2 35 3 37 3 34 2 28 3 15 3-3 2-19 3-31 3-38 2-39 3-38 3-35 2-31 3-28 3-20 2-18 3-14 3-11 3-8 2-3 3 0 3 4 2 10 3 14 3 21 2 27 3 35 3 46 2 59 3 77 3 102 2 141 3 178 3 42 2-180 3-167 3-124 2-95 3-74 3-59 2-48 3-37 3-30 2-21 3-15 3-7 2-1 3 7 3 14 2 23 3 34 3 46 2 62 3 86 3 122 2 183 3 237 3-134 2-238 3-163 3-116 2-89 3-69 3-54 2-44 3-34 3-25 2-18 3-11 3-3 2 3 3 11 3 18 2 28 3 37 3 48 2 63 3 77 3 90 2 81 3 19 3-66 2-98 3-91 3-76 2-61 3-47 3-36 2-26 3-15 3-6 2 5 3 16 3 30 2 48 3 72 3 112 2 195 3 510 3-277 2-383 3-204 3-141 2-109 3-88 3-74 2-62 3-54 3-47 2-40 3-35 3-31 2-26 3-22 3-18 2-15 3-11 3-9 3-5 2-2 3 1 3 3 2 7 3 10 3 13 2 16 3 19 3 24 2 27 3 32 3 36 2 43 3 49 3 57 2 67 3 80 3 99 2 126 3 171 3 247 2 140 3-230 3-176 2-115 3-80 3-56 2-39 3-27 3-16 2-7 3 2 3 9 2 18 3 25 3 35 2 45 3 57 3 73 2 94 3 126 3 183 2 307 3 128 3-335 2-189 3-118 3-81 2-56 3-40 3-26 2-15 3-5 3 4 2 14 3 23 3 34 2 47 3 61 3 82 2 112 3 167 3 297 2 343 3-464 3-232 2-141 3-97 3-71 2-53 3-41 3-30 2-21 3-14 3-6 2 0 3 6 3 12 2 18 3 24 3 32 2 39 3 48 3 58 2 71 3 88 3 108 2 132 3 125 3 11 2-108 3-115 3-93 2-72 3-56 3-43 2-33 3-24 3-16 3-11 2-4 3 2 3 7 2 13 3 19 3 25 2 32 3 40 3 49 2 61 3 77 3 98 2 133 3 191 3 226 2-116 3-219 3-150 2-108 3-81 3-63 2-50 3-40 3-32 2-25 3-20 3-14 2-10 3-6 3-2 2 1 3 5 3 8 2 11 3 14 3 18 2 22 3 25 3 30 2 35 3 40 3 47 2 56 3 66 3 81 2 102 3 136 3 198 2 41 3 0 3-121 2-164 3-115 3-88 2-69 3-57 3-48 2-41 3-35 3-31 2-26 3-23 3-20 2-18 3-16 3-13 2-11 3-10 3-8 2-6 3-5 3-3 2-1 3-1 3 2 2 3 3 4 3 6 2 8 3 9 3 12 2 12 3 16 3 18 2 19 3 22 3 23 2 26 3 27 3 29 2 31 3 33 3 35 2 36 3 38 3 38 2 40 3 40 3 40 3 40 2 40 3 38 3 38 2 36 3 32 3 30 2 25 3 18 3 12 2 5 3-2 3-9 2-13 3-17 3-18 2-21 3-20 3-20 2-20 3-20 3-18 2-18 3-17 3-17 2-16 3-15 3-15 2-14 3-12 3-12 2-10 3-9 3-7 2-5 3-3 3 0 2 3 3 6 3 9 2 11 3 13 3 13 2 12 3 5 3-4 2-5 3-17 3-25 2-30 3-32 3-27 2-31 3-33 3-35 2-30 3-24 3-16 2-5 3 5 3 16 2 25 3 38 3 47 2 51 3 41 3 23 2-17 3-26 3-29 2-25 3-32 3-23 2-8 3 10 3 29 2 49 3 86 3 83 2 78 3 30 3-10 2-2 3 12 3 3 2-54 3-90 3-106 2-81 3-53 3-17 2 16 3 47 3 91 2 101 3 34 3-56 2-85 3-50 3-7 3 48 2 87 3 145 3 142 2-100 3-176 3-102 2-52 3 3 3 41 2 93 3 239 3 127 2-122 3-216 3-86 2-34 3 25 3 70 2 111 3 7 3-151 2-140 3-89 3-66 2-32 3-1 3 16 2 44 3 78 3 118 2 110 3 105 3 60 2 39 3-98 3-176 2-149 3-120 3-85 2-47 3-13 3 7 2 34 3 63 3 115 2 166 3 254 3 155 2-136 3-106 3-24 2 14 3-14 3-95 2-137 3-89 3-69 2-39 3-5 3 31 2 66 3 115 3 121 2 192 3 223 3 0 2 0 3 0 3-53 2-294 3-218 3-166 2-104 3-75 3-50 2-24 3 2 3 22 2 45 3 51 3 87 2 116 3 92 3 78 2 14 3-72 3-99 2-91 3-78 3-48 2-35 3 1 3 26 2 55 3 100 3 192 2 370 3 156 3-438 3-164 2-60 3-11 3 29 2 47 3 7 3-58 2-68 3-46 3-16 2 17 3 59 3 107 2 156 3 139 3-69 2-113 3-71 3-33 2-19 3-11 3-30 2-58 3-60 3-63 2-15 3 10 3 44 2 90 3 135 3 49 2-149 3-143 3-112 2-74 3-47 3-28 2-16 3-2 3 3 2 1 3 6 3-13 2-22 3-38 3-50 2-53 3-46 3-43 2-29 3-20" stroke="#d8281d" stroke-width="12" stroke-dasharray="30 13 10 13"/>
<path d="M460 1865l3-169 2-90 3-22 3 21 2 45 3 23 3-20 2-50 3-38 3 10 2 66 3 145 3 372 2-97 3-389 3-165 2-92 3-40 3 9 2 51 3 79 3 109 2 177 3 339 3 206 2-211 3-254 3-208 2-136 3-119 3-63 2-29 3 11 3 53 2 109 3 156 3 268 2 423 3 0 3-150 2-51 3-171 3-203 2-137 3-123 3-63 2-16 3 26 3 63 3 94 2 130 3 196 3 198 2 22 3 12 3 173 2 0 3-261 3-248 2-155 3-77 3-13 2 30 3 92 3 196 2 204 3-127 3-212 2-93 3-19 3 41 2 116 3 228 3 298 2-65 3-294 3-87 2-26 3-22 3-75 2-123 3-80 3-55 2-9 3 36 3 89 2 171 3 323 3 29 2-205 3-80 3 16 2 91 3 111 3-129 2-186 3-120 3-51 2 8 3 53 3 77 2 42 3-60 3-82 2-34 3 11 3 69 2 132 3 269 3-90 2-249 3-107 3-55 2-6 3 28 3 72 2 95 3 21 3-27 2-6 3 49 3 91 2 258 3 182 3-183 2-221 3-104 3-20 2 57 3 80 3-5 2-151 3-109 3-72 2-38 3-2 3 40 2 79 3 135 3 245 2 266 3-89 3-156 2-76 3-29 3-36 2-51 3-67 3-60 3-22 2 21 3 76 3 156 2 281 3-20 3-199 2-109 3-28 3 18 2 59 3 49 3-26 2-82 3-81 3-55 2-26 3-2 3 11 2 15 3 13 3 14 2 14 3 29 3 55 2 92 3 196 3 118 2 0 3 0 3 0 2 0 3 0 3 0 2-184 3-147 3-98 2-56 3-32 3-14 2-2 3 4 3 8 2 3 3 2 3-5 2-9 3-13 3-13 2-11 3-8 3-5 2-5 3-6 3-8 2-9 3-8 3-9 2-10 3-10 3-10 2-9 3-9 3-9 2-7 3-7 3-6 2-5 3-5 3-5 2-6 3-5 3-5 2-5 3-6 3-6 2-6 3-4 3-5 2-5 3-5 3-4 2-5 3-5 3-4 2-5 3-5 3-3 2-4 3-4 3-3 2-3 3-3 3-3 2-2 3-2 3-3 2-2 3-1 3-1 3 1 2 1 3 3 3 5 2 5 3 7 3 8 2 9 3 10 3 12 2 13 3 14 3 16 2 17 3 19 3 21 2 24 3 25 3 28 2 30 3 34 3 38 2 43 3 49 3 57 2 65 3 79 3 99 2 105 3 0 3 0 2 0 3 0 3-62 2-120 3-96 3-79 2-67 3-59 3-51 2-46 3-41 3-36 2-32 3-29 3-25 2-22 3-18 3-16 2-13 3-10 3-7 2-4 3-2 3 2 2 4 3 7 3 10 2 13 3 16 3 20 2 23 3 27 3 32 2 38 3 44 3 53 2 62 3 73 3 81 2 78 3 42 3-25 2-75 3-85 3-79 2-67 3-58 3-48 2-41 3-34 3-28 2-23 3-18 3-14 2-10 3-6 3-3 2 0 3 2 3 5 2 7 3 9 3 9 2 10 3 9 3 15 2 16 3 14 3 14 3 11 2 8 3 5 3 2 2-1 3-4 3-6 2-7 3-9 3-8 2-9 3-7 3-6 2-5 3-2 3 0 2 4 3 6 3 10 2 13 3 19 3 23 2 28 3 34 3 41 2 48 3 56 3 63 2 71 3 75 3 73 2 56 3 29 3 1 2-16 3-24 3-29 2-37 3-48 3-60 2-69 3-72 3-71 2-67 3-61 3-54 2-49 3-42 3-36 2-30 3-24 3-19 2-14 3-7 3-2 2 3 3 10 3 17 2 24 3 32 3 43 2 56 3 71 3 93 2 122 3 145 3 71 2-112 3-147 3-118 2-92 3-71 3-57 2-44 3-34 3-26 2-18 3-11 3-5 2 3 3 10 3 17 2 27 3 36 3 49 2 66 3 89 3 124 2 184 3 207 3-137 2-219 3-153 3-110 2-83 3-64 3-50 2-38 3-28 3-19 3-11 2-2 3 6 3 15 2 25 3 36 3 51 2 68 3 93 3 134 2 203 3 238 3-192 2-226 3-149 3-105 2-78 3-58 3-43 2-32 3-21 3-12 2-2 3 6 3 16 2 27 3 39 3 55 2 76 3 110 3 169 2 322 3 210 3-461 2-221 3-140 3-101 2-77 3-59 3-46 2-36 3-26 3-17 2-9 3-1 3 8 2 17 3 29 3 42 2 60 3 85 3 122 2 174 3 101 3-187 2-197 3-147 3-114 2-92 3-76 3-64 2-56 3-48 3-42 2-37 3-32 3-28 2-25 3-21 3-18 2-15 3-12 3-10 2-7 3-6 3-2 2-1 3 1 3 4 2 6 3 8 3 10 2 13 3 15 3 17 2 20 3 22 3 26 2 29 3 32 3 37 2 41 3 46 3 53 2 60 3 71 3 85 2 104 3 136 3 197 3 375 2 264 3-517 3-206 2-126 3-87 3-63 2-48 3-36 3-28 2-20 3-15 3-9 2-4 3 0 3 4 2 9 3 12 3 17 2 21 3 25 3 31 2 36 3 42 3 49 2 58 3 70 3 84 2 107 3 144 3 217 2 438 3-118 3-344 2-177 3-115 3-82 2-63 3-49 3-38 2-31 3-25 3-20 2-15 3-12 3-8 2-6 3-3 3 0 2 1 3 4 3 6 2 8 3 11 3 12 2 15 3 17 3 19 2 22 3 25 3 28 2 30 3 35 3 38 2 43 3 48 3 52 2 59 3 66 3 73 2 77 3 77 3 60 2 23 3-22 3-50 2-57 3-55 3-50 2-43 3-39 3-33 2-29 3-24 3-23 2-20 3-18 3-16 2-15 3-14 3-12 2-12 3-11 3-10 2-10 3-9 3-8 2-8 3-7 3-7 3-6 2-6 3-4 3-3 2-3 3-2 3-2 2-2 3-1 3-1 2-1 3 0 3-1 2 0 3-1 3 0 2-1 3 0 3-1 2-1 3-2 3-3 2-4 3-5 3-5 2-6 3-6 3-5 2-6 3-5 3-5 2-5 3-4 3-3 2-3 3-1 3-1 2 1 3 2 3 3 2 5 3 6 3 8 2 9 3 10 3 13 2 18 3 19 3 21 2 23 3 24 3 25 2 26 3 27 3 29 2 31 3 35 3 41 2 44 3 47 3 46 2 37 3 22 3 8 2-6 3-32 3-40 2-34 3-17 3-3 2 15 3 39 3 57 2 63 3 61 3 42 2 14 3 9 3 2 2-75 3-110 3-88 2-64 3-46 3-15 2 14 3 34 3 50 2 47 3 16 3-8 2 0 3 13 3 60 2 25 3-97 3-121 2-114 3-57 3-25 3 3 2 22 3 13 3-17 2-29 3-16 3 16 2 75 3 121 3 128 2-68 3-157 3-112 2-53 3 3 3 49 2 78 3 74 3 20 2-12 3 28 3 117 2 266 3 45 3-379 2-206 3-89 3-49 2-8 3 44 3 100 2 167 3 283 3 166 2-199 3-97 3 8 2 13 3-99 3-128 2-99 3-60 3-8 2 30 3 85 3 172 2 435 3-6 3-392 2-123 3-24 3 58 2 142 3 316 3 68 2-357 3-144 3-70 2-39 3-33 3-53 2-68 3-68 3-55 2-41 3-29 3-23 2-25 3-31 3-34 2-36 3-33 3-28 2-23 3-19 3-13 2-8 3-4 3 1 2 7 3 12 3 17 2 21 3 20 3 20 2 18 3 17 3 20 2 25 3 32 3 40 2 50 3 63 3 76 2 104 3 148 3 181 2 0 3-180 3-165 3-78 2-45 3-9 3 23 2 44 3 61 3 55 2 4 3-23 3-12 2-9 3 5 3-7 2-12 3-18 3-35 2 4 3 31 3 64 2 85 3 72 3-13 2-78 3-53 3-14 2 17 3 39 3 5 2-65 3-89 3-77 2-42 3-12 3 15 2 35 3 37 3 18 2 15 3 35 3 79 2 142 3 176 3 16 2-133 3-124 3-24 2 53 3 155 3 107 2-149 3-178" stroke="#d8281d" stroke-width="12" stroke-dasharray="30 13 10 13"/>
<path d="M460 1726l3-44 2-2 3 21 3 49 2 79 3 88 3 140 2 148 3 140 3 0 2 0 3-154 3-146 2-93 3-69 3-32 2 19 3 87 3 142 2 158 3-132 3-172 2-132 3-62 3-8 2 34 3 63 3 107 2 159 3 24 3-51 2-71 3-33 3-22 2-56 3-103 3-87 2-81 3-59 3-31 2-8 3 19 3 31 2 66 3 72 3 72 2 94 3 78 3 76 3 23 2-92 3-150 3-100 2-80 3-51 3-20 2 6 3 44 3 74 2 141 3 195 3 288 2-85 3-183 3-69 2 14 3 76 3 139 2-72 3-167 3-94 2-64 3 1 3 76 2 113 3 309 3 5 2-338 3-169 3-88 2-34 3-2 3 24 2 67 3 122 3 162 2 246 3 34 3-163 2-120 3-116 3-81 2-93 3-87 3-58 2-48 3-25 3-4 2 12 3 37 3 54 2 69 3 81 3 86 2 46 3 5 3-51 2-78 3-85 3-71 2-50 3-25 3-8 2 6 3 24 3 45 2 55 3 55 3 50 2 44 3 39 3 29 2 23 3 10 3-16 2-33 3-41 3-49 2-20 3-4 3 7 2 11 3 6 3-3 2-7 3-3 3 7 2 28 3 43 3 22 2-20 3-60 3-55 2-39 3-25 3-4 2 13 3 31 3 37 3 51 2 58 3 60 3 70 2 31 3-35 3-101 2-110 3-92 3-77 2-48 3-25 3-4 2 18 3 30 3 34 2 24 3 26 3 17 2-2 3-18 3-23 2-24 3-27 3-25 2-13 3 3 3 15 2 28 3 36 3 38 2 34 3 22 3 9 2-5 3-13 3-16 2-17 3-14 3-13 2-11 3-10 3-9 2-9 3-9 3-10 2-10 3-10 3-8 2-7 3-4 3-3 2-1 3 0 3 1 2 2 3 11 3 12 2 12 3 11 3 10 2 10 3 8 3 8 2 7 3 8 3 8 2 9 3 10 3 12 2 15 3 18 3 20 2 23 3 25 3 29 2 31 3 32 3 34 2 34 3 33 3 30 2 25 3 21 3 14 2 10 3 4 3 0 2-5 3-8 3-12 2-17 3-21 3-25 2-28 3-31 3-33 2-33 3-33 3-31 3-29 2-28 3-26 3-25 2-23 3-22 3-21 2-19 3-18 3-17 2-17 3-15 3-16 2-14 3-14 3-14 2-14 3-13 3-13 2-11 3-10 3-10 2-10 3-9 3-9 2-8 3-6 3-6 2-5 3-3 3-2 2 0 3 1 3 4 2 5 3 8 3 10 2 13 3 16 3 19 2 22 3 28 3 32 2 38 3 45 3 55 2 66 3 84 3 109 2 153 3 232 3 13 2-75 3-212 3-142 2-103 3-80 3-65 2-52 3-44 3-36 2-31 3-27 3-21 2-17 3-14 3-9 2-6 3-3 3 1 2 4 3 7 3 11 2 14 3 18 3 21 2 25 3 29 3 33 2 37 3 41 3 43 2 44 3 41 3 32 2 18 3-2 3-18 2-28 3-34 3-34 2-32 3-29 3-25 2-20 3-17 3-14 2-10 3-7 3-3 3 2 2 6 3 11 3 16 2 21 3 29 3 37 2 47 3 58 3 73 2 88 3 96 3 65 2-28 3-96 3-103 2-89 3-73 3-59 2-47 3-38 3-29 2-22 3-14 3-8 2-2 3 6 3 11 2 19 3 26 3 34 2 45 3 56 3 71 2 91 3 121 3 167 2 203 3 0 3-168 2-151 3-104 3-72 2-50 3-32 3-18 2-4 3 10 3 25 2 42 3 66 3 101 2 161 3 194 3 0 2-197 3-208 3-140 2-104 3-80 3-63 2-50 3-39 3-31 2-21 3-14 3-6 2 1 3 10 3 18 2 28 3 38 3 51 2 66 3 84 3 98 2 87 3 9 3-81 2-103 3-90 3-73 2-57 3-44 3-33 2-23 3-15 3-5 2 2 3 10 3 19 2 28 3 39 3 52 2 69 3 91 3 124 2 166 3 137 3-113 3-177 2-135 3-100 3-76 2-59 3-45 3-34 2-25 3-15 3-7 2 2 3 10 3 20 2 30 3 43 3 59 2 81 3 115 3 177 2 353 3 146 3-409 2-219 3-135 3-94 2-68 3-51 3-36 2-26 3-16 3-7 2 2 3 10 3 19 2 27 3 36 3 46 2 55 3 61 3 58 2 37 3-3 3-42 2-59 3-60 3-54 2-45 3-36 3-28 2-20 3-13 3-6 2 1 3 8 3 16 2 24 3 32 3 44 2 58 3 76 3 105 2 155 3 270 3 287 2-348 3-251 3-153 2-107 3-80 3-63 2-49 3-38 3-30 2-21 3-14 3-8 2 0 3 6 3 14 2 22 3 30 3 41 2 54 3 68 3 85 2 99 3 78 3-16 2-100 3-113 3-98 2-82 3-67 3-55 2-46 3-38 3-30 2-24 3-18 3-11 3-6 2 1 3 7 3 14 2 22 3 33 3 43 2 59 3 82 3 119 2 194 3 458 3-112 2-417 3-206 3-139 2-105 3-85 3-70 2-61 3-52 3-46 2-40 3-36 3-33 2-29 3-26 3-24 2-22 3-19 3-18 2-16 3-14 3-13 2-12 3-10 3-9 2-8 3-7 3-6 2-4 3-4 3-4 2-2 3-1 3-1 2 1 3 1 3 2 2 2 3 4 3 4 2 4 3 6 3 6 2 6 3 8 3 8 2 8 3 9 3 9 2 10 3 11 3 11 2 11 3 12 3 13 2 13 3 13 3 14 2 14 3 15 3 15 2 16 3 16 3 17 2 18 3 17 3 19 2 20 3 21 3 22 2 22 3 22 3 24 2 24 3 24 3 26 2 26 3 27 3 28 2 28 3 30 3 30 2 32 3 32 3 34 2 35 3 36 3 39 3 41 2 43 3 44 3 45 2 48 3 50 3 53 2 55 3 58 3 61 2 64 3 67 3 71 2 73 3 78 3 79 2 76 3 67 3 0 2 0 3 0 3 0 2 0 3 0 3 0 2 0 3 0 3 0 2 0 3 0 3 0 2-45 3-86 3-78 2-68 3-60 3-54 2-48 3-43 3-38 2-34 3-31 3-28 2-25 3-22 3-21 2-22 3-22 3-21 2-21 3-21 3-23 2-23 3-23 3-22 2-21 3-20 3-18 2-17 3-14 3-13 2-14 3-15 3-17 2-18 3-19 3-21 2-20 3-18 3-16 2-15 3-11 3-9 2-6 3-8 3-5 2-7 3-9 3-12 2-13 3-17 3-17 2-20 3-16 3-15 2-11 3-7 3-3 2 2 3 5 3 7 2 12 3 9 3 9 2 4 3 1 3-4 2-7 3-8 3-18 3-15 2-12 3-7 3-1 2 5 3 10 3 13 2 17 3 18 3 14 2 13 3 7 3 2 2-4 3-1 3-3 2 0 3 7 3 16 2 25 3 37 3 44 2 55 3 56 3 60 2 60 3 47 3 35 2 30 3 20 3 13 2 14 3 9 3 22 2 24 3 46 3 71 2 116 3 137 3 143 2-65 3-132 3-82 2-26 3 24 3 69 2 108 3 62 3-102 2-152 3-92 3-43 2-6 3 20 3 47 2 56 3 70 3 79 2 100 3 125 3 126 2-44 3-245 3-143 2-106 3-79 3-48 2-16 3 3 3 25 2 39 3 55 3 25 2-5 3-23 3-19 2-15 3-3 3-10 2-23 3-32 3-40 2-32 3-28 3-16 2-7 3-5 3-8 2-11 3-15 3-10 2 1 3 17 3 36 2 51 3 69 3 48 2 18 3-28 3-27 3-19 2-4 3 12 3 28 2 41 3 44 3 57 2 75 3 114 3 237 2 52 3-329 3-210 2-132 3-80 3-32 2 1 3 39 3 67 2 101 3 163 3 168 2-72 3-103 3-58 2-23 3 3 3 11 2 1 3-11 3 0 2 31 3 73 3 188 2 218 3-6 3-315 2-161 3-114 3-34 2 17 3 72 3 147 2 251 3 134 3-291 2-163 3-87 3-12 2 38 3 76" stroke="#d8281d" stroke-width="12" stroke-dasharray="30 13 10 13"/>
<path d="M460 2345l3-137 2-240 3-81 3 2 2 65 3 166 3 225 2-60 3-323 3-162 2-105 3-34 3 9 2 48 3 81 3 101 2 25 3-67 3-55 2-12 3 50 3 137 2 346 3 21 3-217 2-247 3-82 3-20 2 38 3 101 3 99 2-65 3-144 3-113 2-51 3-14 3 29 2 85 3 129 3 315 2 157 3-238 3-162 2-68 3-22 3 3 2-26 3-65 3-68 3-61 2-12 3 24 3 73 2 148 3 266 3 208 2-349 3-126 3-57 2 9 3 85 3 181 2 257 3-200 3-245 2-96 3-52 3-4 2 36 3 68 3 75 2 50 3-19 3-26 2 6 3 77 3 241 2 89 3-315 3-220 2-128 3-63 3-35 2 10 3 55 3 114 2 182 3 328 3 72 2-205 3-153 3-48 2-13 3-32 3-77 2-80 3-59 3-24 2 18 3 74 3 122 2 196 3-59 3-213 2-118 3-76 3-33 2-7 3 13 3 15 2 7 3-9 3-21 2-12 3 6 3 33 2 46 3 36 3-5 2-47 3-54 3-33 2-11 3 9 3 19 2 19 3 6 3-4 2 0 3 15 3 40 2 85 3 125 3 237 2-86 3-212 3-127 2-58 3-25 3 11 2 35 3 53 3 51 2 20 3-1 3-7 2 11 3 39 3 54 3 59 2 22 3-16 3-41 2-10 3 18 3 37 2 33 3-3 3-66 2-75 3-46 3-24 2-2 3 21 3 49 2 86 3 127 3 188 2 75 3-88 3-112 2-71 3-48 3-31 2-20 3-11 3 1 2 19 3 36 3 45 2 33 3-11 3-45 2-47 3-35 3-21 2-2 3 8 3 18 2 23 3 19 3 18 2 0 3-7 3-19 2-24 3-22 3-18 2-12 3-7 3-7 2-7 3-6 3-6 2-6 3-6 3-6 2-7 3-7 3-8 2-9 3-10 3-12 2-11 3-12 3-12 2-12 3-11 3-10 2-8 3-7 3-6 2-4 3-3 3-2 2 0 3 1 3 2 2 3 3 3 3 2 2 2 3 2 3 0 2-2 3-3 3-5 2-5 3-6 3-8 2-9 3-10 3-10 2-12 3-11 3-13 2-13 3-14 3-13 3-14 2-13 3-14 3-11 2-12 3-12 3-12 2-12 3-12 3-12 2-12 3-12 3-11 2-11 3-12 3-10 2-10 3-10 3-9 2-9 3-8 3-7 2-6 3-4 3-3 2-2 3-1 3 0 2 2 3 2 3 4 2 6 3 6 3 9 2 11 3 12 3 15 2 17 3 21 3 24 2 27 3 33 3 37 2 45 3 52 3 63 2 78 3 97 3 125 2 153 3 98 3-101 2-154 3-126 3-99 2-78 3-65 3-53 2-45 3-38 3-33 2-28 3-24 3-21 2-16 3-13 3-10 2-6 3-4 3 0 2 2 3 6 3 9 2 12 3 15 3 20 2 23 3 28 3 33 2 39 3 46 3 55 2 67 3 83 3 107 2 148 3 237 3 135 2 0 3-248 3-169 2-110 3-79 3-58 2-44 3-32 3-29 2-20 3-12 3-4 3 3 2 12 3 19 3 28 2 37 3 45 3 52 2 52 3 36 3-2 2-43 3-66 3-69 2-65 3-56 3-47 2-40 3-32 3-25 2-18 3-12 3-6 2 0 3 6 3 13 2 19 3 27 3 36 2 45 3 56 3 69 2 84 3 92 3 74 2 1 3-74 3-95 2-87 3-73 3-59 2-49 3-39 3-31 2-23 3-17 3-11 2-5 3 1 3 7 2 14 3 20 3 28 2 37 3 48 3 61 2 79 3 105 3 143 2 188 3 86 3-172 2-168 3-121 3-90 2-67 3-51 3-38 2-27 3-18 3-10 2-1 3 8 3 15 2 25 3 35 3 48 2 63 3 83 3 115 2 168 3 268 3 114 2-294 3-191 3-124 2-87 3-64 3-46 2-32 3-21 3-11 2-2 3 8 3 17 2 27 3 39 3 51 2 67 3 89 3 117 3 150 2 131 3-53 3-147 2-122 3-91 3-65 2-47 3-32 3-19 2-7 3 5 3 17 2 30 3 45 3 65 2 90 3 118 3 121 2-4 3-139 3-139 2-111 3-87 3-68 2-53 3-42 3-31 2-22 3-14 3-5 2 3 3 12 3 21 2 32 3 46 3 63 2 88 3 127 3 206 2 385 3-215 3-302 2-175 3-120 3-89 2-69 3-53 3-42 2-32 3-24 3-16 2-9 3-1 3 5 2 12 3 20 3 28 2 37 3 49 3 64 2 81 3 108 3 147 2 186 3 59 3-169 2-159 3-115 3-85 2-64 3-47 3-36 2-25 3-15 3-8 2 1 3 8 3 17 2 25 3 36 3 47 2 60 3 78 3 98 2 113 3 81 3-39 2-115 3-113 3-93 2-75 3-61 3-48 2-40 3-31 3-24 2-18 3-12 3-7 3-1 2 4 3 10 3 16 2 22 3 30 3 38 2 49 3 63 3 84 2 116 3 174 3 296 2 41 3-329 3-198 2-135 3-101 3-79 2-65 3-55 3-45 2-39 3-33 3-28 2-23 3-19 3-15 2-11 3-8 3-4 2 0 3 3 3 7 2 11 3 16 3 22 2 27 3 34 3 43 2 55 3 70 3 94 2 134 3 220 3 566 2-375 3-341 3-185 2-129 3-98 3-79 2-66 3-57 3-49 2-43 3-38 3-34 2-31 3-27 3-25 2-23 3-20 3-19 2-17 3-15 3-14 2-13 3-12 3-10 2-10 3-9 3-9 2-7 3-7 3-7 2-6 3-6 3-5 2-6 3-5 3-4 2-5 3-3 3-2 2-3 3-3 3-2 2-3 3-2 3-2 2-2 3-2 3-2 2-2 3-2 3-2 2-2 3-1 3-2 3-1 2-2 3-1 3 1 2 1 3 0 3 1 2 2 3 1 3 1 2 2 3 2 3 1 2 2 3 3 3 2 2 2 3 3 3 4 2 5 3 4 3 5 2 5 3 4 3 5 2 5 3 5 3 5 2 7 3 6 3 7 2 6 3 7 3 6 2 6 3 7 3 6 2 6 3 6 3 7 2 6 3 6 3 6 2 6 3 6 3 6 2 5 3 6 3 5 2 6 3 5 3 6 2 5 3 6 3 6 2 6 3 5 3 6 2 6 3 5 3 6 2 6 3 7 3 7 2 8 3 8 3 9 2 11 3 11 3 11 2 13 3 12 3 13 2 12 3 13 3 12 2 13 3 13 3 14 2 16 3 16 3 19 2 21 3 23 3 25 2 25 3 26 3 26 2 24 3 22 3 22 2 20 3 20 3 20 2 23 3 30 3 36 2 45 3 54 3 62 3 78 2 85 3 96 3 98 2 101 3 109 3 120 2 131 3 131 3 38 2 0 3-49 3-286 2-191 3-141 3-99 2-82 3-54 3-35 2-19 3-8 3 5 2 8 3 19 3 22 2 26 3 31 3 31 2 25 3 20 3 14 2 4 3 10 3 11 2 25 3 56 3 95 2 155 3 241 3-29 2-258 3-167 3-99 2-62 3-36 3-16 2 4 3 17 3 23 2 32 3 28 3 28 2 12 3-4 3-14 2-17 3-8 3 1 2 30 3 62 3 97 2 176 3 366 3 0 2-276 3-178 3-93 2-53 3-35 3-13 2-17 3-7 3 2 2-8 3-19 3-38 2-56 3-64 3-55 2-40 3-26 3-5 2 10 3 28 3 43 2 63 3 88 3 110 2 127 3 110 3 113 2 140 3 149 3 0 2 0 3 0 3 0 2 0 3 0 3-161 3-298 2-151 3-104 3-65 2-31 3-8 3 21 2 54 3 99 3 128 2 213 3 303 3 0 2-195 3-102 3-31 2-9 3-55 3-86 2-59 3-28 3 19 2 68 3 144 3 256 2 78 3-286 3-163 2-93 3-14 3 42 2 95 3 150 3 6 2-186 3-137 3-66 2-25 3 9 3 41 2 77 3 49 3-2 2-29 3-17 3 13 2 52 3 147 3 176 2-17 3-122" stroke="#d8281d" stroke-width="12" stroke-dasharray="30 13 10 13"/>
</g>
<path d="M134.5 211.6L135.3 151L136.2 151L136.9 211.6Z" fill="#141414"/>
<path d="M141.7 211.6L142.4 149.8L143.3 149.8L144.1 211.6Z" fill="#141414"/>
<path d="M148 211.6L148.8 148.7L149.7 148.7L150.4 211.6Z" fill="#141414"/>
<path d="M153.9 211.6L154.6 147.6L155.5 147.6L156.3 211.6Z" fill="#141414"/>
<path d="M159.5 211.6L160.2 146.4L161.1 146.4L161.9 211.6Z" fill="#141414"/>
<path d="M165 211.6L165.7 145.3L166.6 145.3L167.3 211.6Z" fill="#141414"/>
<path d="M170.4 211.6L171.2 146.4L172.1 146.4L172.8 211.6Z" fill="#141414"/>
<path d="M176 211.6L176.8 147.6L177.7 147.6L178.4 211.6Z" fill="#141414"/>
<path d="M181.9 211.6L182.6 148.7L183.5 148.7L184.3 211.6Z" fill="#141414"/>
<path d="M188.2 211.6L189 149.8L189.9 149.8L190.6 211.6Z" fill="#141414"/>
<path d="M195.4 211.6L196.1 151L197 151L197.8 211.6Z" fill="#141414"/>
</g>
<rect x="46" y="28.6" width="240.3" height="183" fill="none" stroke="#474747" stroke-width="1.2"/>
<line x1="46" y1="211.6" x2="46" y2="215.6" stroke="#474747" stroke-width="1.1" />
<line x1="46" y1="28.6" x2="46" y2="24.6" stroke="#474747" stroke-width="1.1" />
<line x1="56" y1="211.6" x2="56" y2="214.1" stroke="#474747" stroke-width="1.1" />
<line x1="56" y1="28.6" x2="56" y2="26.1" stroke="#474747" stroke-width="1.1" />
<line x1="66" y1="211.6" x2="66" y2="215.6" stroke="#474747" stroke-width="1.1" />
<line x1="66" y1="28.6" x2="66" y2="24.6" stroke="#474747" stroke-width="1.1" />
<line x1="76" y1="211.6" x2="76" y2="214.1" stroke="#474747" stroke-width="1.1" />
<line x1="76" y1="28.6" x2="76" y2="26.1" stroke="#474747" stroke-width="1.1" />
<line x1="86.1" y1="211.6" x2="86.1" y2="215.6" stroke="#474747" stroke-width="1.1" />
<line x1="86.1" y1="28.6" x2="86.1" y2="24.6" stroke="#474747" stroke-width="1.1" />
<line x1="96.1" y1="211.6" x2="96.1" y2="214.1" stroke="#474747" stroke-width="1.1" />
<line x1="96.1" y1="28.6" x2="96.1" y2="26.1" stroke="#474747" stroke-width="1.1" />
<line x1="106.1" y1="211.6" x2="106.1" y2="215.6" stroke="#474747" stroke-width="1.1" />
<line x1="106.1" y1="28.6" x2="106.1" y2="24.6" stroke="#474747" stroke-width="1.1" />
<line x1="116.1" y1="211.6" x2="116.1" y2="214.1" stroke="#474747" stroke-width="1.1" />
<line x1="116.1" y1="28.6" x2="116.1" y2="26.1" stroke="#474747" stroke-width="1.1" />
<line x1="126.1" y1="211.6" x2="126.1" y2="215.6" stroke="#474747" stroke-width="1.1" />
<line x1="126.1" y1="28.6" x2="126.1" y2="24.6" stroke="#474747" stroke-width="1.1" />
<line x1="136.1" y1="211.6" x2="136.1" y2="214.1" stroke="#474747" stroke-width="1.1" />
<line x1="136.1" y1="28.6" x2="136.1" y2="26.1" stroke="#474747" stroke-width="1.1" />
<line x1="146.1" y1="211.6" x2="146.1" y2="215.6" stroke="#474747" stroke-width="1.1" />
<line x1="146.1" y1="28.6" x2="146.1" y2="24.6" stroke="#474747" stroke-width="1.1" />
<line x1="156.1" y1="211.6" x2="156.1" y2="214.1" stroke="#474747" stroke-width="1.1" />
<line x1="156.1" y1="28.6" x2="156.1" y2="26.1" stroke="#474747" stroke-width="1.1" />
<line x1="166.2" y1="211.6" x2="166.2" y2="215.6" stroke="#474747" stroke-width="1.1" />
<line x1="166.2" y1="28.6" x2="166.2" y2="24.6" stroke="#474747" stroke-width="1.1" />
<line x1="176.2" y1="211.6" x2="176.2" y2="214.1" stroke="#474747" stroke-width="1.1" />
<line x1="176.2" y1="28.6" x2="176.2" y2="26.1" stroke="#474747" stroke-width="1.1" />
<line x1="186.2" y1="211.6" x2="186.2" y2="215.6" stroke="#474747" stroke-width="1.1" />
<line x1="186.2" y1="28.6" x2="186.2" y2="24.6" stroke="#474747" stroke-width="1.1" />
<line x1="196.2" y1="211.6" x2="196.2" y2="214.1" stroke="#474747" stroke-width="1.1" />
<line x1="196.2" y1="28.6" x2="196.2" y2="26.1" stroke="#474747" stroke-width="1.1" />
<line x1="206.2" y1="211.6" x2="206.2" y2="215.6" stroke="#474747" stroke-width="1.1" />
<line x1="206.2" y1="28.6" x2="206.2" y2="24.6" stroke="#474747" stroke-width="1.1" />
<line x1="216.2" y1="211.6" x2="216.2" y2="214.1" stroke="#474747" stroke-width="1.1" />
<line x1="216.2" y1="28.6" x2="216.2" y2="26.1" stroke="#474747" stroke-width="1.1" />
<line x1="226.2" y1="211.6" x2="226.2" y2="215.6" stroke="#474747" stroke-width="1.1" />
<line x1="226.2" y1="28.6" x2="226.2" y2="24.6" stroke="#474747" stroke-width="1.1" />
<line x1="236.2" y1="211.6" x2="236.2" y2="214.1" stroke="#474747" stroke-width="1.1" />
<line x1="236.2" y1="28.6" x2="236.2" y2="26.1" stroke="#474747" stroke-width="1.1" />
<line x1="246.2" y1="211.6" x2="246.2" y2="215.6" stroke="#474747" stroke-width="1.1" />
<line x1="246.2" y1="28.6" x2="246.2" y2="24.6" stroke="#474747" stroke-width="1.1" />
<line x1="256.3" y1="211.6" x2="256.3" y2="214.1" stroke="#474747" stroke-width="1.1" />
<line x1="256.3" y1="28.6" x2="256.3" y2="26.1" stroke="#474747" stroke-width="1.1" />
<line x1="266.3" y1="211.6" x2="266.3" y2="215.6" stroke="#474747" stroke-width="1.1" />
<line x1="266.3" y1="28.6" x2="266.3" y2="24.6" stroke="#474747" stroke-width="1.1" />
<line x1="276.3" y1="211.6" x2="276.3" y2="214.1" stroke="#474747" stroke-width="1.1" />
<line x1="276.3" y1="28.6" x2="276.3" y2="26.1" stroke="#474747" stroke-width="1.1" />
<line x1="286.3" y1="211.6" x2="286.3" y2="215.6" stroke="#474747" stroke-width="1.1" />
<line x1="286.3" y1="28.6" x2="286.3" y2="24.6" stroke="#474747" stroke-width="1.1" />
<line x1="46" y1="28.6" x2="42" y2="28.6" stroke="#474747" stroke-width="1.1" />
<line x1="46" y1="51.5" x2="43.5" y2="51.5" stroke="#474747" stroke-width="1.1" />
<line x1="46" y1="74.3" x2="42" y2="74.3" stroke="#474747" stroke-width="1.1" />
<line x1="46" y1="97.2" x2="43.5" y2="97.2" stroke="#474747" stroke-width="1.1" />
<line x1="46" y1="120.1" x2="42" y2="120.1" stroke="#474747" stroke-width="1.1" />
<line x1="46" y1="143" x2="43.5" y2="143" stroke="#474747" stroke-width="1.1" />
<line x1="46" y1="165.8" x2="42" y2="165.8" stroke="#474747" stroke-width="1.1" />
<line x1="46" y1="188.7" x2="43.5" y2="188.7" stroke="#474747" stroke-width="1.1" />
<line x1="46" y1="211.6" x2="42" y2="211.6" stroke="#474747" stroke-width="1.1" />
<text transform="translate(46 226.9) scale(0.86 1)" font-size="12" text-anchor="middle" fill="#1a1a1a" stroke="#1a1a1a" stroke-width="0.22">-180</text>
<text transform="translate(66 226.9) scale(0.86 1)" font-size="12" text-anchor="middle" fill="#1a1a1a" stroke="#1a1a1a" stroke-width="0.22">-150</text>
<text transform="translate(86.1 226.9) scale(0.86 1)" font-size="12" text-anchor="middle" fill="#1a1a1a" stroke="#1a1a1a" stroke-width="0.22">-120</text>
<text transform="translate(106.1 226.9) scale(0.86 1)" font-size="12" text-anchor="middle" fill="#1a1a1a" stroke="#1a1a1a" stroke-width="0.22">-90</text>
<text transform="translate(126.1 226.9) scale(0.86 1)" font-size="12" text-anchor="middle" fill="#1a1a1a" stroke="#1a1a1a" stroke-width="0.22">-60</text>
<text transform="translate(146.1 226.9) scale(0.86 1)" font-size="12" text-anchor="middle" fill="#1a1a1a" stroke="#1a1a1a" stroke-width="0.22">-30</text>
<text transform="translate(166.2 226.9) scale(0.86 1)" font-size="12" text-anchor="middle" fill="#1a1a1a" stroke="#1a1a1a" stroke-width="0.22">0</text>
<text transform="translate(186.2 226.9) scale(0.86 1)" font-size="12" text-anchor="middle" fill="#1a1a1a" stroke="#1a1a1a" stroke-width="0.22">30</text>
<text transform="translate(206.2 226.9) scale(0.86 1)" font-size="12" text-anchor="middle" fill="#1a1a1a" stroke="#1a1a1a" stroke-width="0.22">60</text>
<text transform="translate(226.2 226.9) scale(0.86 1)" font-size="12" text-anchor="middle" fill="#1a1a1a" stroke="#1a1a1a" stroke-width="0.22">90</text>
<text transform="translate(246.2 226.9) scale(0.86 1)" font-size="12" text-anchor="middle" fill="#1a1a1a" stroke="#1a1a1a" stroke-width="0.22">120</text>
<text transform="translate(266.3 226.9) scale(0.86 1)" font-size="12" text-anchor="middle" fill="#1a1a1a" stroke="#1a1a1a" stroke-width="0.22">150</text>
<text transform="translate(286.3 226.9) scale(0.86 1)" font-size="12" text-anchor="middle" fill="#1a1a1a" stroke="#1a1a1a" stroke-width="0.22">180</text>
<text transform="translate(40.2 32.6) scale(0.86 1)" font-size="12" text-anchor="end" fill="#1a1a1a" stroke="#1a1a1a" stroke-width="0.22">0</text>
<text transform="translate(40.2 78.3) scale(0.86 1)" font-size="12" text-anchor="end" fill="#1a1a1a" stroke="#1a1a1a" stroke-width="0.22">-10</text>
<text transform="translate(40.2 124.1) scale(0.86 1)" font-size="12" text-anchor="end" fill="#1a1a1a" stroke="#1a1a1a" stroke-width="0.22">-20</text>
<text transform="translate(40.2 169.8) scale(0.86 1)" font-size="12" text-anchor="end" fill="#1a1a1a" stroke="#1a1a1a" stroke-width="0.22">-30</text>
<text transform="translate(40.2 215.6) scale(0.86 1)" font-size="12" text-anchor="end" fill="#1a1a1a" stroke="#1a1a1a" stroke-width="0.22">-40</text>
<text transform="translate(128.9 26.6) scale(0.92 1)" font-size="10" text-anchor="middle" fill="#1a1a1a" stroke="#1a1a1a" stroke-width="0.22">-60°</text>
<text transform="translate(147.6 26.6) scale(0.92 1)" font-size="10" text-anchor="middle" fill="#1a1a1a" stroke="#1a1a1a" stroke-width="0.22">-30°</text>
<text transform="translate(167.3 26.6) scale(0.92 1)" font-size="10" text-anchor="middle" fill="#1a1a1a" stroke="#1a1a1a" stroke-width="0.22">0°</text>
<text transform="translate(189.1 26.6) scale(0.92 1)" font-size="10" text-anchor="middle" fill="#1a1a1a" stroke="#1a1a1a" stroke-width="0.22">30°</text>
<text transform="translate(208.3 26.6) scale(0.92 1)" font-size="10" text-anchor="middle" fill="#1a1a1a" stroke="#1a1a1a" stroke-width="0.22">60°</text>
<text transform="translate(59.6 58.9) scale(0.95 1)" font-size="22" text-anchor="start" fill="#1a1a1a" stroke="#1a1a1a" stroke-width="0.22">(a)</text>
<line x1="231.3" y1="38.9" x2="256.8" y2="38.9" stroke="#111" stroke-width="1.3" />
<text transform="translate(259.3 42.5) scale(0.89 1)" font-size="11" text-anchor="start" fill="#1a1a1a" stroke="#1a1a1a" stroke-width="0.22">Sim.</text>
<line x1="231.3" y1="52.8" x2="256.8" y2="52.8" stroke="#d8281d" stroke-width="1.3" stroke-dasharray="3.2 1.4 0.8 1.4"/>
<text transform="translate(259.3 56.2) scale(0.9 1)" font-size="11" text-anchor="start" fill="#1a1a1a" stroke="#1a1a1a" stroke-width="0.22">Meas.</text>
<text transform="translate(163.8 248.3) scale(0.935 1)" font-size="15.6" text-anchor="middle" fill="#1a1a1a" stroke="#1a1a1a" stroke-width="0.22">Scanning angle (deg)</text>
<text transform="translate(13.3 115.1) rotate(-90)" font-size="14.85" text-anchor="middle" fill="#1a1a1a" stroke="#1a1a1a" stroke-width="0.22">Normalized far-field pattern (dB)</text>
<text transform="translate(35.4 10) scale(0.905 1)" font-size="11.4" text-anchor="start" fill="#1a1a1a" stroke="#1a1a1a" stroke-width="0.22">Minimum scanning angle</text>
<text transform="translate(214.3 10) scale(0.905 1)" font-size="11.4" text-anchor="start" fill="#1a1a1a" stroke="#1a1a1a" stroke-width="0.22">Maximum scanning angle</text>
<line x1="90" y1="10.2" x2="108.6" y2="29.6" stroke="#222" stroke-width="0.7" />
<path d="M110.3 31.3L106.6 29.3L108.5 27.5Z" fill="#222"/>
<line x1="242.5" y1="10.2" x2="223.6" y2="26.2" stroke="#222" stroke-width="0.7" />
<path d="M221.8 27.8L224 24.2L225.7 26.2Z" fill="#222"/>
<clipPath id="cb"><rect x="398.2" y="28.7" width="240.3" height="183.4"/></clipPath>
<g clip-path="url(#cb)" fill="none">
<g transform="scale(0.1)" stroke-linejoin="round">
<path d="M3982 2350l3 0 2 0 3 0 3 0 2 0 3 0 3 0 2 0 3 0 3 0 2 0 3 0 3 0 2 0 3 0 3 0 2 0 3 0 3 0 2 0 3 0 3 0 2 0 3 0 3 0 2 0 3 0 3 0 2 0 3 0 3 0 2 0 3 0 3 0 2 0 3 0 3 0 2 0 3 0 3 0 2 0 3 0 3 0 2 0 3 0 3 0 2 0 3 0 3 0 3 0 2 0 3 0 3 0 2 0 3 0 3 0 2 0 3 0 3 0 2 0 3 0 3 0 2 0 3 0 3 0 2 0 3 0 3 0 2 0 3 0 3-22 2-16 3-9 3-1 2 6 3 12 3 20 2 10 3 0 3 0 2 0 3 0 3 0 2 0 3 0 3 0 2 0 3 0 3 0 2-50 3-64 3-52 2-42 3-35 3-28 2-21 3-16 3-10 2-5 3 2 3 7 2 14 3 21 3 29 2 41 3 53 3 73 2 83 3 0 3 0 2 0 3 0 3 0 2-80 3-117 3-91 2-74 3-62 3-52 2-45 3-38 3-34 2-28 3-24 3-20 2-16 3-12 3-9 2-5 3-1 3 2 2 7 3 11 3 17 2 22 3 29 3 37 2 48 3 64 3 86 2 123 3 202 3 60 2 0 3-173 3-203 2-139 3-108 3-89 3-75 2-68 3-60 3-54 2-49 3-46 3-42 2-39 3-36 3-34 2-32 3-30 3-27 2-27 3-25 3-23 2-23 3-21 3-20 2-20 3-18 3-18 2-17 3-16 3-15 2-15 3-14 3-14 2-13 3-12 3-13 2-11 3-12 3-10 2-11 3-10 3-10 2-10 3-9 3-9 2-9 3-8 3-8 2-7 3-8 3-7 2-7 3-7 3-7 2-7 3-6 3-7 2-6 3-7 3-6 2-6 3-6 3-7 2-6 3-6 3-6 2-6 3-6 3-7 2-6 3-6 3-5 2-6 3-6 3-5 2-6 3-6 3-5 2-6 3-6 3-6 2-5 3-4 3-5 2-5 3-5 3-4 2-5 3-5 3-5 2-5 3-3 3-4 2-3 3-4 3-3 2-4 3-3 3-4 2-3 3-4 3-3 2-3 3-4 3-3 3-3 2-1 3-1 3-2 2-1 3 0 3-1 2-1 3 0 3 0 2 0 3 0 3 1 2 1 3 1 3 1 2 2 3 2 3 3 2 2 3 4 3 5 2 5 3 6 3 7 2 7 3 8 3 8 2 9 3 10 3 10 2 11 3 12 3 13 2 14 3 16 3 16 2 17 3 19 3 21 2 22 3 24 3 26 2 28 3 31 3 33 2 38 3 41 3 46 2 52 3 59 3 69 2 82 3 102 3 134 2 196 3 384 3 225 2-514 3-208 3-129 2-92 3-70 3-54 2-44 3-35 3-28 2-22 3-18 3-13 2-8 3-5 3-1 2 3 3 6 3 10 2 13 3 18 3 23 2 27 3 32 3 39 2 46 3 56 3 68 2 85 3 111 3 155 2 257 3 527 3-426 2-292 3-160 3-108 2-78 3-60 3-46 2-36 3-27 3-20 3-13 2-8 3-1 3 4 2 9 3 16 3 21 2 29 3 37 3 46 2 57 3 73 3 95 2 131 3 202 3 432 2 21 3-436 3-196 2-123 3-88 3-64 2-49 3-37 3-26 2-18 3-11 3-2 2 4 3 11 3 19 2 28 3 36 3 48 2 62 3 81 3 110 2 161 3 283 3 309 2-337 3-260 3-148 2-101 3-72 3-54 2-39 3-28 3-19 2-9 3-1 3 7 2 16 3 25 3 35 2 47 3 63 3 83 2 116 3 174 3 332 2 170 3-357 3-227 2-137 3-93 3-68 2-49 3-36 3-24 2-14 3-5 3 4 2 14 3 23 3 33 2 47 3 63 3 84 2 119 3 182 3 363 2 78 3-350 3-215 2-131 3-90 3-65 2-48 3-34 3-22 2-12 3-2 3 6 2 17 3 27 3 38 2 53 3 72 3 98 3 143 2 240 3 275 3-132 2-310 3-165 3-109 2-77 3-56 3-41 2-29 3-17 3-8 2 2 3 11 3 21 2 31 3 45 3 60 2 82 3 114 3 175 2 339 3 64 3-277 2-226 3-135 3-94 2-68 3-50 3-37 2-24 3-15 3-6 2 3 3 13 3 21 2 33 3 44 3 60 2 81 3 113 3 171 2 325 3 68 3-244 2-232 3-140 3-96 2-71 3-52 3-39 2-28 3-18 3-10 2-2 3 7 3 15 2 24 3 33 3 46 2 60 3 80 3 111 2 165 3 303 3 88 2-199 3-246 3-145 2-101 3-74 3-56 2-43 3-33 3-23 2-15 3-8 3-1 2 6 3 13 3 20 2 29 3 38 3 49 2 64 3 83 3 115 2 171 3 321 3 35 2-200 3-236 3-143 2-101 3-75 3-58 2-46 3-36 3-28 3-20 2-15 3-8 3-4 2 2 3 8 3 13 2 18 3 25 3 32 2 39 3 50 3 62 2 80 3 105 3 151 2 253 3 132 3-47 2-296 3-165 3-113 2-84 3-67 3-53 2-43 3-36 3-29 2-23 3-19 3-14 2-11 3-6 3-4 2 1 3 3 3 7 2 10 3 13 3 17 2 21 3 25 3 29 2 35 3 42 3 48 2 59 3 71 3 90 2 118 3 173 3 248 2 0 3-69 3-243 2-147 3-105 3-81 2-65 3-54 3-46 2-39 3-33 3-29 2-26 3-22 3-19 2-17 3-15 3-12 2-11 3-9 3-8 2-6 3-5 3-4 2-2 3-1 3-1 2 1 3 1 3 4 2 5 3 5 3 6 2 7 3 8 3 8 2 9 3 9 3 10 2 11 3 11 3 11 2 12 3 12 3 13 2 13 3 14 3 14 3 14 2 15 3 17 3 16 2 16 3 17 3 16 2 16 3 17 3 16 2 16 3 15 3 15 2 15 3 14 3 14 2 14 3 13 3 13 2 12 3 11 3 10 2 8 3 8 3 6 2 5 3 6 3 4 2 3 3 2 3 0 2 0 3-1 3-2 2-3 3-4 3-4 2-5 3-5 3-5 2-6 3-6 3-7 2-6 3-7 3-7 2-7 3-6 3-7 2-7 3-6 3-6 2-6 3-5 3-5 2-5 3-5 3-3 2-4 3-3 3-3 2-1 3-1 3 0 2 0 3 1 3 1 2 3 3 3 3 4 2 4 3 6 3 6 2 8 3 8 3 10 2 10 3 12 3 14 2 14 3 16 3 19 2 20 3 21 3 25 2 26 3 30 3 33 2 36 3 41 3 46 2 54 3 62 3 73 2 63 3 0 3 0 2 0 3 0 3 0 3 0 2 0 3 0 3 0 2-36 3-52 3-43 2-35 3-29 3-23 2-19 3-15 3-11 2-7 3-4 3-1 2 3 3 6 3 10 2 12 3 17 3 20 2 25 3 30 3 35 2 42 3 49 3 26 2 0 3 0 3 0 2 0 3 0 3 0 2 0 3 0 3 0 2 0 3 0 3 0 2 0 3 0 3-8 2-19 3-12 3-7 2-1 3 4 3 9 2 15 3 19 3 0 2 0 3 0 3 0 2 0 3 0 3 0 2 0 3 0 3 0 2 0 3 0 3 0 2 0 3 0 3 0 2 0 3 0 3 0 2 0 3 0 3 0 2 0 3 0 3 0 2 0 3 0 3 0 2 0 3 0 3 0 2 0 3 0 3 0 2 0 3 0 3 0 2 0 3 0 3 0 2 0 3 0 3 0 2 0 3 0 3 0 2 0 3 0 3 0 3 0 2 0 3 0 3 0 2 0 3 0 3 0 2 0 3 0 3 0 2 0 3 0 3 0 2 0 3 0 3 0 2 0 3 0 3 0 2 0 3 0 3 0 2 0 3 0 3 0 2 0 3 0 3 0 2 0 3 0 3 0 2 0 3 0 3 0 2 0 3 0 3 0 2 0 3 0 3 0 2 0 3 0 3 0 2 0 3 0 3 0 2 0 3 0 3 0 2 0 3 0" stroke="#111" stroke-width="15"/>
<path d="M3982 2350l3 0 2 0 3 0 3 0 2 0 3 0 3 0 2 0 3 0 3 0 2 0 3 0 3 0 2 0 3 0 3 0 2 0 3 0 3 0 2 0 3 0 3 0 2 0 3 0 3 0 2 0 3 0 3 0 2 0 3 0 3 0 2 0 3 0 3 0 2 0 3 0 3 0 2 0 3 0 3 0 2 0 3 0 3 0 2 0 3 0 3 0 2 0 3 0 3 0 3 0 2 0 3 0 3 0 2 0 3 0 3 0 2 0 3 0 3 0 2 0 3 0 3 0 2 0 3 0 3 0 2 0 3 0 3 0 2 0 3 0 3 0 2-22 3-29 3-21 2-14 3-9 3-2 2 5 3 13 3 22 2 33 3 24 3 0 2 0 3 0 3 0 2 0 3 0 3 0 2 0 3 0 3-89 2-77 3-63 3-52 2-43 3-37 3-30 2-24 3-18 3-13 2-8 3-3 3 3 2 9 3 17 3 24 2 35 3 47 3 65 2 93 3 142 3 22 2 0 3 0 3-107 2-175 3-127 3-101 2-85 3-72 3-63 2-57 3-50 3-46 2-42 3-38 3-35 2-33 3-30 3-28 2-25 3-24 3-22 2-21 3-19 3-18 2-16 3-15 3-14 2-13 3-11 3-11 2-10 3-8 3-8 2-7 3-6 3-5 3-5 2-6 3-5 3-4 2-4 3-3 3-2 2-2 3-1 3-1 2 0 3 2 3 2 2 3 3 3 3 4 2 4 3 5 3 6 2 6 3 6 3 8 2 7 3 9 3 8 2 10 3 10 3 10 2 11 3 11 3 12 2 12 3 13 3 14 2 14 3 14 3 16 2 15 3 17 3 17 2 18 3 19 3 19 2 21 3 21 3 22 2 23 3 23 3 25 2 26 3 27 3 28 2 30 3 31 3 32 2 35 3 36 3 38 2 41 3 43 3 47 2 49 3 54 3 58 2 63 3 70 3 78 2 88 3 41 3 0 2 0 3 0 3 0 2 0 3 0 3 0 2 0 3 0 3 0 2 0 3 0 3 0 2-16 3-110 3-97 2-89 3-79 3-73 2-68 3-63 3-60 2-56 3-53 3-50 2-48 3-46 3-44 2-42 3-40 3-40 3-38 2-35 3-33 3-33 2-32 3-31 3-30 2-29 3-28 3-28 2-27 3-26 3-25 2-25 3-24 3-24 2-23 3-23 3-22 2-21 3-21 3-19 2-18 3-18 3-18 2-17 3-16 3-16 2-15 3-15 3-14 2-14 3-14 3-12 2-13 3-11 3-11 2-11 3-10 3-10 2-9 3-8 3-8 2-7 3-6 3-6 2-5 3-5 3-4 2-3 3-2 3-2 2 0 3 0 3 0 2 2 3 3 3 3 2 5 3 5 3 7 2 8 3 9 3 10 2 12 3 12 3 15 2 16 3 18 3 19 2 22 3 24 3 26 2 29 3 33 3 35 2 40 3 44 3 51 2 57 3 66 3 78 2 96 3 121 3 168 2 279 3 676 3-625 2-269 3-148 3-99 2-71 3-54 3-40 2-31 3-22 3-15 2-10 3-3 3 2 3 7 2 12 3 18 3 24 2 30 3 38 3 46 2 57 3 70 3 89 2 119 3 172 3 308 2 395 3-484 3-242 2-141 3-96 3-70 2-52 3-38 3-29 2-19 3-11 3-4 2 2 3 10 3 17 2 25 3 33 3 43 2 55 3 71 3 93 2 128 3 197 3 412 2 90 3-460 3-199 2-124 3-86 3-63 2-46 3-34 3-23 2-13 3-6 3 3 2 12 3 19 3 29 2 40 3 52 3 69 2 92 3 129 3 202 2 417 3 0 3-411 2-192 3-122 3-84 2-61 3-45 3-31 2-21 3-11 3-1 2 7 3 16 3 26 2 38 3 50 3 68 2 91 3 129 3 203 2 351 3 0 3-362 2-190 3-120 3-84 2-61 3-43 3-31 2-19 3-10 3 0 2 9 3 19 3 30 2 42 3 56 3 76 2 106 3 155 3 273 3 154 2-152 3-268 3-151 2-102 3-72 3-52 2-38 3-25 3-15 2-6 3 4 3 14 2 23 3 35 3 48 2 64 3 88 3 125 2 195 3 285 3 0 2-266 3-198 3-125 2-87 3-63 3-46 2-33 3-22 3-12 2-3 3 6 3 15 2 25 3 36 3 48 2 66 3 89 3 126 2 198 3 246 3 0 2-243 3-196 3-124 2-87 3-65 3-47 2-35 3-24 3-15 2-7 3 2 3 10 2 19 3 28 3 38 2 52 3 68 3 91 2 130 3 205 3 200 2 0 3-230 3-191 2-122 3-88 3-65 2-49 3-37 3-28 2-18 3-11 3-4 2 3 3 11 3 17 2 26 3 35 3 45 2 58 3 77 3 103 2 148 3 251 3 69 2 0 3-271 3-164 2-111 3-82 3-62 2-49 3-37 3-30 2-21 3-16 3-9 3-3 2 2 3 7 3 13 2 19 3 26 3 32 2 41 3 51 3 65 2 83 3 110 3 161 2 245 3 0 3 0 2-260 3-154 3-107 2-80 3-63 3-51 2-41 3-33 3-28 2-21 3-17 3-12 2-8 3-5 3-1 2 3 3 6 3 10 2 13 3 18 3 21 2 26 3 30 3 37 2 43 3 51 3 62 2 77 3 98 3 133 2 204 3 49 3 0 2-53 3-198 3-129 2-95 3-75 3-60 2-50 3-42 3-36 2-31 3-27 3-23 2-20 3-17 3-15 2-12 3-11 3-8 2-7 3-5 3-4 2-2 3-1 3 0 2 2 3 3 3 3 2 5 3 6 3 7 2 8 3 9 3 11 2 13 3 13 3 14 2 15 3 15 3 17 2 18 3 18 3 20 2 21 3 21 3 23 2 23 3 25 3 25 2 27 3 28 3 30 3 31 2 33 3 36 3 37 2 39 3 40 3 43 2 46 3 47 3 51 2 54 3 44 3 0 2 0 3 0 3 0 2 0 3 0 3 0 2 0 3 0 3 0 2 0 3 0 3 0 2 0 3 0 3 0 2 0 3 0 3 0 2 0 3 0 3 0 2 0 3 0 3 0 2 0 3 0 3 0 2 0 3 0 3 0 2-14 3-36 3-33 2-31 3-29 3-28 2-26 3-24 3-23 2-21 3-20 3-19 2-18 3-17 3-15 2-15 3-13 3-13 2-11 3-10 3-9 2-9 3-7 3-6 2-6 3-5 3-3 2-3 3-2 3-1 2 0 3 1 3 3 2 3 3 4 3 6 2 7 3 8 3 9 2 11 3 13 3 14 2 15 3 18 3 20 2 22 3 24 3 28 2 31 3 35 3 39 2 44 3 51 3 58 2 3 3 0 3 0 3 0 2 0 3 0 3 0 2 0 3 0 3 0 2 0 3 0 3 0 2 0 3-10 3-30 2-25 3-20 3-15 2-11 3-7 3-4 2 0 3 3 3 7 2 11 3 14 3 19 2 22 3 28 3 18 2 0 3 0 3 0 2 0 3 0 3 0 2 0 3 0 3 0 2 0 3 0 3 0 2 0 3 0 3 0 2 0 3 0 3 0 2 0 3 0 3 0 2 0 3 0 3 0 2 0 3 0 3 0 2 0 3 0 3 0 2 0 3 0 3 0 2 0 3 0 3 0 2 0 3 0 3 0 2 0 3 0 3 0 2 0 3 0 3 0 2 0 3 0 3 0 2 0 3 0 3 0 2 0 3 0 3 0 2 0 3 0 3 0 2 0 3 0 3 0 2 0 3 0 3 0 2 0 3 0 3 0 2 0 3 0 3 0 2 0 3 0 3 0 3 0 2 0 3 0 3 0 2 0 3 0 3 0 2 0 3 0 3 0 2 0 3 0 3 0 2 0 3 0 3 0 2 0 3 0 3 0 2 0 3 0 3 0 2 0 3 0 3 0 2 0 3 0 3 0 2 0 3 0 3 0 2 0 3 0 3 0 2 0 3 0 3 0 2 0 3 0 3 0 2 0 3 0 3 0 2 0 3 0 3 0 2 0 3 0 3 0 2 0 3 0" stroke="#111" stroke-width="15"/>
<path d="M3982 2350l3 0 2 0 3 0 3 0 2 0 3 0 3 0 2 0 3 0 3 0 2 0 3 0 3 0 2 0 3 0 3 0 2 0 3 0 3 0 2 0 3 0 3 0 2 0 3 0 3 0 2 0 3 0 3 0 2 0 3 0 3 0 2 0 3 0 3 0 2 0 3 0 3 0 2 0 3-38 3-34 2-25 3-16 3-8 2 0 3 10 3 20 2 34 3 50 3 7 3 0 2 0 3 0 3 0 2 0 3 0 3-125 2-109 3-90 3-75 2-65 3-56 3-50 2-44 3-39 3-35 2-30 3-28 3-24 2-20 3-18 3-16 2-13 3-10 3-8 2-5 3-5 3-3 2 0 3 2 3 4 2 7 3 9 3 12 2 15 3 17 3 20 2 24 3 27 3 31 2 35 3 41 3 47 2 54 3 63 3 76 2 93 3 119 3 167 2 5 3 0 3 0 2 0 3-110 3-100 2-74 3-56 3-43 2-33 3-26 3-19 2-14 3-8 3-4 2 1 3 5 3 9 2 14 3 18 3 23 2 29 3 34 3 42 2 50 3 61 3 76 2 98 3 27 3 0 2 0 3 0 3 0 2 0 3-25 3-94 2-72 3-59 3-48 2-40 3-34 3-28 2-24 3-19 3-16 2-13 3-11 3-7 2-5 3-2 3 0 3 2 2 3 3 5 3 7 2 9 3 12 3 14 2 18 3 20 3 24 2 27 3 32 3 38 2 44 3 51 3 62 2 75 3 54 3 0 2 0 3 0 3 0 2 0 3 0 3 0 2-63 3-80 3-66 2-56 3-49 3-43 2-38 3-34 3-31 2-28 3-26 3-24 2-22 3-20 3-19 2-18 3-16 3-15 2-14 3-14 3-12 2-12 3-11 3-11 2-10 3-9 3-9 2-9 3-9 3-8 2-8 3-7 3-8 2-7 3-7 3-7 2-7 3-6 3-7 2-7 3-6 3-6 2-6 3-5 3-6 2-6 3-6 3-6 2-6 3-5 3-6 2-5 3-5 3-4 2-5 3-5 3-4 2-5 3-5 3-4 2-5 3-3 3-3 2-3 3-3 3-3 2-3 3-3 3-2 2-2 3-2 3-2 2-1 3-2 3 0 3-1 2 2 3 2 3 2 2 4 3 4 3 4 2 5 3 6 3 8 2 8 3 9 3 10 2 12 3 14 3 15 2 18 3 20 3 22 2 26 3 30 3 35 2 42 3 49 3 59 2 73 3 93 3 129 2 200 3 90 3 0 2-125 3-204 3-136 2-103 3-83 3-68 2-59 3-51 3-45 2-40 3-36 3-31 2-29 3-25 3-23 2-20 3-18 3-15 2-13 3-11 3-8 2-6 3-4 3-1 2 1 3 4 3 7 2 10 3 13 3 18 2 22 3 28 3 34 2 42 3 52 3 67 2 87 3 122 3 189 2 411 3 45 3-461 2-211 3-140 3-104 2-82 3-67 3-56 2-48 3-40 3-35 2-29 3-25 3-19 2-16 3-11 3-7 2-2 3 2 3 8 2 13 3 19 3 28 2 37 3 50 3 67 2 95 3 143 3 260 3 633 2-675 3-287 3-173 2-126 3-99 3-82 2-69 3-60 3-53 2-47 3-41 3-37 2-33 3-30 3-26 2-24 3-20 3-18 2-16 3-12 3-11 2-8 3-6 3-3 2-1 3 1 3 3 2 6 3 9 3 11 2 14 3 16 3 20 2 23 3 26 3 31 2 34 3 40 3 45 2 53 3 60 3 71 2 85 3 106 3 137 2 198 3 372 3 331 2-552 3-204 3-119 2-79 3-55 3-38 2-24 3-14 3-5 2 4 3 12 3 20 2 30 3 39 3 50 2 65 3 83 3 111 2 159 3 267 3 515 2-446 3-276 3-150 2-98 3-68 3-48 2-34 3-21 3-11 2-2 3 8 3 16 2 26 3 37 3 50 2 65 3 86 3 119 2 178 3 335 3 234 2-416 3-223 3-133 2-89 3-64 3-45 2-31 3-20 3-9 3 0 2 9 3 19 3 30 2 41 3 55 3 73 2 99 3 142 3 234 2 328 3-127 3-325 2-168 3-109 3-76 2-55 3-39 3-27 2-15 3-7 3 3 2 13 3 21 3 33 2 44 3 60 3 79 2 109 3 162 3 288 2 136 3-182 3-255 2-146 3-99 3-70 2-52 3-37 3-26 2-15 3-7 3 2 2 11 3 20 3 30 2 40 3 54 3 72 2 96 3 138 3 222 2 204 3 0 3-295 2-177 3-115 3-81 2-60 3-45 3-33 2-23 3-14 3-5 2 1 3 10 3 17 2 26 3 36 3 46 2 61 3 79 3 108 2 157 3 273 3 34 2-30 3-270 3-153 2-104 3-77 3-58 2-44 3-33 3-25 2-16 3-10 3-3 2 3 3 9 3 16 2 23 3 30 3 39 2 50 3 63 3 81 2 109 3 157 3 243 3 0 2 0 3-231 3-156 2-107 3-79 3-61 2-49 3-38 3-30 2-23 3-17 3-11 2-7 3-2 3 3 2 7 3 12 3 16 2 22 3 27 3 33 2 41 3 50 3 60 2 76 3 97 3 133 2 206 3 28 3 0 2-40 3-195 3-127 2-93 3-72 3-57 2-47 3-39 3-32 2-27 3-22 3-18 2-14 3-11 3-9 2-5 3-3 3 0 2 3 3 4 3 7 2 10 3 11 3 15 2 16 3 20 3 22 2 25 3 29 3 33 2 37 3 42 3 48 2 56 3 66 3 79 2 101 3 133 3 54 2 0 3 0 3 0 2-27 3-131 3-95 2-75 3-61 3-51 2-44 3-38 3-31 2-28 3-24 3-22 2-19 3-17 3-15 2-14 3-12 3-10 2-10 3-8 3-8 2-6 3-6 3-5 2-5 3-3 3-4 3-2 2-1 3 0 3 0 2 1 3 1 3 1 2 2 3 1 3 2 2 2 3 3 3 2 2 2 3 3 3 3 2 4 3 5 3 4 2 4 3 5 3 4 2 5 3 5 3 4 2 5 3 6 3 6 2 6 3 5 3 6 2 7 3 6 3 6 2 6 3 6 3 7 2 7 3 7 3 7 2 8 3 7 3 8 2 8 3 8 3 8 2 9 3 9 3 9 2 10 3 10 3 11 2 11 3 12 3 12 2 13 3 14 3 14 2 16 3 16 3 18 2 19 3 21 3 21 2 24 3 26 3 27 2 30 3 33 3 36 2 40 3 45 3 51 2 12 3 0 3 0 2 0 3 0 3 0 2 0 3 0 3 0 2 0 3 0 3 0 2 0 3 0 3 0 2 0 3-29 3-30 2-24 3-20 3-17 2-14 3-12 3-8 2-6 3-4 3-1 3 1 2 2 3 4 3 6 2 9 3 11 3 14 2 17 3 21 3 24 2 28 3 28 3 0 2 0 3 0 3 0 2 0 3 0 3 0 2 0 3 0 3 0 2 0 3 0 3 0 2 0 3 0 3 0 2 0 3 0 3 0 2 0 3 0 3 0 2 0 3 0 3 0 2 0 3 0 3 0 2 0 3 0 3 0 2 0 3 0 3 0 2 0 3 0 3 0 2 0 3 0 3 0 2 0 3 0 3 0 2 0 3 0 3 0 2 0 3 0 3 0 2 0 3 0 3 0 2 0 3 0 3 0 2 0 3 0 3 0 2 0 3 0 3 0 2 0 3 0 3 0 2 0 3 0 3 0 2 0 3 0 3 0 2 0 3 0 3 0 2 0 3 0 3 0 2 0 3 0 3 0 2 0 3 0 3 0 2 0 3 0 3 0 2 0 3 0 3 0 3 0 2 0 3 0 3 0 2 0 3 0 3 0 2 0 3 0 3 0 2 0 3 0 3 0 2 0 3 0 3 0 2 0 3 0 3 0 2 0 3 0 3 0 2 0 3 0 3 0 2 0 3 0 3 0 2 0 3 0 3 0 2 0 3 0 3 0 2 0 3 0 3 0 2 0 3 0 3 0 2 0 3 0 3 0 2 0 3 0 3 0 2 0 3 0 3 0 2 0 3 0" stroke="#111" stroke-width="15"/>
<path d="M3982 1819l3-3 2 1 3 3 3 7 2 11 3 13 3 18 2 21 3 26 3 30 2 36 3 42 3 49 2 58 3 70 3 84 2 65 3 0 3 0 2 0 3 0 3 0 2 0 3 0 3 0 2 0 3-13 3-24 2-14 3-5 3 5 2 13 3 21 3 17 2 0 3 0 3 0 2 0 3 0 3 0 2 0 3 0 3 0 2 0 3 0 3 0 2 0 3 0 3 0 3 0 2 0 3 0 3 0 2 0 3 0 3 0 2 0 3 0 3 0 2 0 3 0 3 0 2 0 3 0 3 0 2 0 3 0 3 0 2 0 3 0 3 0 2 0 3 0 3 0 2 0 3 0 3 0 2 0 3 0 3 0 2 0 3 0 3 0 2 0 3 0 3 0 2 0 3 0 3 0 2 0 3 0 3 0 2 0 3 0 3 0 2 0 3 0 3 0 2 0 3 0 3 0 2 0 3 0 3 0 2 0 3 0 3 0 2 0 3 0 3 0 2 0 3 0 3 0 2 0 3 0 3 0 2 0 3 0 3 0 2 0 3 0 3 0 2 0 3-30 3-26 2-20 3-16 3-12 2-8 3-4 3-1 2 2 3 6 3 10 2 13 3 18 3 22 2 26 3 20 3 0 2 0 3 0 3 0 2 0 3 0 3 0 2 0 3 0 3 0 3 0 2 0 3 0 3 0 2 0 3-5 3-49 2-42 3-38 3-33 2-30 3-25 3-23 2-20 3-18 3-17 2-14 3-12 3-11 2-10 3-8 3-6 2-6 3-4 3-3 2-2 3-1 3 1 2 1 3 2 3 3 2 4 3 5 3 6 2 6 3 8 3 8 2 10 3 10 3 11 2 12 3 14 3 14 2 15 3 17 3 17 2 19 3 20 3 21 2 22 3 23 3 25 2 26 3 28 3 29 2 0 3 0 3 0 2 0 3 0 3 0 2 0 3 0 3 0 2 0 3 0 3 0 2 0 3 0 3 0 2 0 3 0 3 0 2 0 3 0 3 0 2 0 3 0 3 0 2 0 3 0 3 0 2 0 3 0 3 0 2 0 3 0 3 0 2 0 3 0 3 0 2 0 3-32 3-48 2-45 3-44 3-41 2-39 3-38 3-36 3-35 2-31 3-30 3-29 2-28 3-26 3-25 2-25 3-23 3-23 2-21 3-21 3-19 2-19 3-18 3-17 2-16 3-15 3-14 2-13 3-13 3-10 2-9 3-8 3-8 2-6 3-5 3-4 2-3 3-2 3-1 2 1 3 2 3 4 2 5 3 7 3 9 2 11 3 13 3 15 2 19 3 21 3 25 2 29 3 35 3 40 2 48 3 59 3 72 2 93 3 128 3 197 2 7 3 0 3-13 2-205 3-135 3-100 2-78 3-64 3-54 2-45 3-39 3-33 2-28 3-23 3-20 2-15 3-13 3-8 2-5 3-2 3 2 2 6 3 10 3 14 2 19 3 24 3 31 2 39 3 48 3 60 2 78 3 105 3 151 2 262 3 31 3-7 2-285 3-163 3-113 2-86 3-67 3-55 2-44 3-35 3-29 2-22 3-16 3-11 3-5 2 0 3 6 3 12 2 18 3 26 3 35 2 45 3 59 3 78 2 107 3 161 3 295 2 96 3-203 3-254 2-152 3-107 3-80 2-63 3-49 3-39 2-30 3-22 3-14 2-8 3-1 3 7 2 14 3 22 3 33 2 45 3 60 3 83 2 117 3 186 3 400 2 55 3-443 3-210 2-135 3-97 3-74 2-57 3-45 3-34 2-24 3-17 3-8 2 0 3 8 3 17 2 28 3 41 3 57 2 79 3 117 3 189 2 426 3-15 3-441 2-207 3-135 3-98 2-75 3-59 3-46 2-35 3-26 3-17 2-9 3 0 3 10 2 20 3 32 3 50 2 72 3 109 3 183 2 433 3-71 3-437 2-215 3-145 3-110 2-89 3-73 3-63 2-53 3-46 3-41 2-34 3-30 3-26 2-22 3-18 3-14 2-11 3-8 3-5 3-1 2 1 3 5 3 8 2 11 3 14 3 18 2 22 3 26 3 30 2 34 3 41 3 46 2 53 3 63 3 73 2 89 3 110 3 145 2 215 3 437 3 71 2-433 3-183 3-109 2-72 3-50 3-32 2-20 3-10 3 0 2 9 3 17 3 26 2 35 3 46 3 59 2 75 3 98 3 135 2 207 3 441 3 15 2-426 3-189 3-117 2-79 3-57 3-41 2-28 3-17 3-8 2 0 3 8 3 17 2 24 3 34 3 45 2 57 3 74 3 97 2 135 3 210 3 443 2-55 3-400 3-186 2-117 3-83 3-60 2-45 3-33 3-22 2-14 3-7 3 1 2 8 3 14 3 22 2 30 3 39 3 49 2 63 3 80 3 107 2 152 3 254 3 203 2-96 3-295 3-161 2-107 3-78 3-59 2-45 3-35 3-26 2-18 3-12 3-6 3 0 2 5 3 11 3 16 2 22 3 29 3 35 2 44 3 55 3 67 2 86 3 113 3 163 2 285 3 7 3-31 2-262 3-151 3-105 2-78 3-60 3-48 2-39 3-31 3-24 2-19 3-14 3-10 2-6 3-2 3 2 2 5 3 8 3 13 2 15 3 20 3 23 2 28 3 33 3 39 2 45 3 54 3 64 2 78 3 100 3 135 2 205 3 13 3 0 2-7 3-197 3-128 2-93 3-72 3-59 2-48 3-40 3-35 2-29 3-25 3-21 2-19 3-15 3-13 2-11 3-9 3-7 2-5 3-4 3-2 2-1 3 1 3 2 2 3 3 4 3 5 2 6 3 8 3 8 2 9 3 10 3 13 2 13 3 14 3 15 2 16 3 17 3 18 2 19 3 19 3 21 2 21 3 23 3 23 2 25 3 25 3 26 2 28 3 29 3 30 3 31 2 35 3 36 3 38 2 39 3 41 3 44 2 45 3 48 3 32 2 0 3 0 3 0 2 0 3 0 3 0 2 0 3 0 3 0 2 0 3 0 3 0 2 0 3 0 3 0 2 0 3 0 3 0 2 0 3 0 3 0 2 0 3 0 3 0 2 0 3 0 3 0 2 0 3 0 3 0 2 0 3 0 3 0 2 0 3 0 3 0 2 0 3-29 3-28 2-26 3-25 3-23 2-22 3-21 3-20 2-19 3-17 3-17 2-15 3-14 3-14 2-12 3-11 3-10 2-10 3-8 3-8 2-6 3-6 3-5 2-4 3-3 3-2 2-1 3-1 3 1 2 2 3 3 3 4 2 6 3 6 3 8 2 10 3 11 3 12 2 14 3 17 3 18 2 20 3 23 3 25 2 30 3 33 3 38 2 42 3 49 3 5 2 0 3 0 3 0 3 0 2 0 3 0 3 0 2 0 3 0 3 0 2 0 3 0 3 0 2 0 3 0 3-20 2-26 3-22 3-18 2-13 3-10 3-6 2-2 3 1 3 4 2 8 3 12 3 16 2 20 3 26 3 30 2 0 3 0 3 0 2 0 3 0 3 0 2 0 3 0 3 0 2 0 3 0 3 0 2 0 3 0 3 0 2 0 3 0 3 0 2 0 3 0 3 0 2 0 3 0 3 0 2 0 3 0 3 0 2 0 3 0 3 0 2 0 3 0 3 0 2 0 3 0 3 0 2 0 3 0 3 0 2 0 3 0 3 0 2 0 3 0 3 0 2 0 3 0 3 0 2 0 3 0 3 0 2 0 3 0 3 0 2 0 3 0 3 0 2 0 3 0 3 0 2 0 3 0 3 0 2 0 3 0 3 0 2 0 3 0 3 0 2 0 3 0 3 0 3 0 2 0 3 0 3 0 2 0 3 0 3 0 2 0 3 0 3 0 2 0 3 0 3 0 2 0 3 0 3 0 2 0 3-17 3-21 2-13 3-5 3 5 2 14 3 24 3 13 2 0 3 0 3 0 2 0 3 0 3 0 2 0 3 0 3 0 2-65 3-84 3-70 2-58 3-49 3-42 2-36 3-30 3-26 2-21 3-18 3-13 2-11 3-7 3-3 2-1 3 3" stroke="#111" stroke-width="15"/>
<path d="M3982 2350l3 0 2 0 3 0 3 0 2 0 3 0 3 0 2 0 3 0 3 0 2 0 3 0 3 0 2 0 3 0 3 0 2 0 3 0 3 0 2 0 3 0 3 0 2 0 3 0 3 0 2 0 3 0 3 0 2 0 3 0 3 0 2 0 3 0 3 0 2 0 3 0 3 0 2 0 3 0 3 0 2 0 3 0 3 0 2 0 3 0 3 0 2 0 3 0 3 0 3 0 2 0 3 0 3 0 2 0 3 0 3 0 2 0 3 0 3 0 2 0 3 0 3 0 2 0 3 0 3 0 2 0 3 0 3 0 2 0 3 0 3 0 2 0 3 0 3 0 2 0 3 0 3 0 2 0 3 0 3 0 2 0 3 0 3 0 2 0 3 0 3 0 2 0 3 0 3 0 2 0 3 0 3 0 2 0 3 0 3 0 2 0 3 0 3 0 2 0 3 0 3 0 2 0 3 0 3 0 2 0 3 0 3 0 2 0 3 0 3 0 2 0 3 0 3 0 2 0 3 0 3 0 2 0 3 0 3 0 2 0 3 0 3 0 2 0 3 0 3 0 2 0 3 0 3 0 2 0 3 0 3 0 2 0 3 0 3 0 2 0 3 0 3 0 2 0 3-9 3-32 2-29 3-24 3-20 2-18 3-14 3-11 2-9 3-6 3-4 3-1 2-2 3 2 3 3 2 6 3 9 3 11 2 14 3 17 3 20 2 25 3 29 3 35 2 8 3 0 3 0 2 0 3 0 3 0 2 0 3 0 3 0 2 0 3 0 3 0 2 0 3 0 3 0 2-26 3-51 3-45 2-40 3-36 3-33 2-30 3-27 3-26 2-23 3-22 3-21 2-19 3-17 3-17 2-15 3-15 3-14 2-13 3-12 3-12 2-11 3-10 3-11 2-9 3-10 3-9 2-8 3-9 3-8 2-8 3-8 3-7 2-7 3-8 3-7 2-7 3-7 3-6 2-6 3-6 3-6 2-6 3-6 3-6 2-6 3-6 3-6 2-5 3-4 3-5 2-4 3-5 3-4 2-5 3-4 3-5 2-4 3-3 3-2 2-3 3-2 3-2 2-3 3-1 3-2 2-2 3-1 3-1 2 0 3-1 3 0 3 1 2 3 3 3 3 4 2 4 3 5 3 6 2 6 3 8 3 8 2 10 3 11 3 12 2 13 3 15 3 17 2 20 3 21 3 24 2 28 3 32 3 37 2 44 3 51 3 61 2 75 3 96 3 130 2 41 3 0 3 0 2 0 3-67 3-134 2-100 3-80 3-66 2-56 3-48 3-42 2-37 3-33 3-28 2-26 3-22 3-19 2-17 3-14 3-12 2-9 3-7 3-5 2-2 3 0 3 2 2 6 3 8 3 11 2 14 3 18 3 23 2 26 3 33 3 38 2 47 3 58 3 71 2 93 3 127 3 195 2 54 3 0 3-42 2-205 3-134 3-97 2-76 3-60 3-50 2-40 3-34 3-27 2-22 3-16 3-12 2-7 3-3 3 2 2 7 3 12 3 17 2 23 3 30 3 38 2 48 3 61 3 79 2 107 3 156 3 245 3 0 2 0 3-257 3-157 2-108 3-82 3-63 2-49 3-39 3-31 2-23 3-16 3-9 2-3 3 3 3 10 2 17 3 24 3 34 2 44 3 57 3 77 2 104 3 154 3 269 2 44 3-47 3-274 2-157 3-108 3-79 2-61 3-46 3-36 2-25 3-18 3-9 2-2 3 6 3 14 2 22 3 33 3 45 2 60 3 82 3 114 2 177 3 309 3 0 2-218 3-222 3-137 2-97 3-71 3-55 2-40 3-30 3-19 2-11 3-2 3 6 2 15 3 26 3 37 2 52 3 70 3 99 2 146 3 255 3 196 2-150 3-288 3-161 2-109 3-80 3-59 2-45 3-32 3-22 2-12 3-3 3 6 2 16 3 26 3 40 2 55 3 76 3 108 2 168 3 326 3 140 2-342 3-233 3-143 2-99 3-73 3-55 2-41 3-29 3-19 3-10 2 0 3 9 3 20 2 31 3 45 3 64 2 89 3 133 3 224 2 429 3-248 3-335 2-178 3-118 3-87 2-65 3-49 3-37 2-27 3-16 3-8 2 2 3 11 3 22 2 33 3 48 3 69 2 98 3 149 3 277 2 459 3-529 3-267 2-159 3-111 3-83 2-65 3-50 3-39 2-29 3-21 3-12 2-4 3 5 3 14 2 25 3 37 3 55 2 79 3 120 3 204 2 551 3-331 3-372 2-198 3-137 3-105 2-85 3-72 3-60 2-52 3-46 3-39 2-35 3-30 3-27 2-23 3-20 3-16 2-14 3-11 3-8 2-6 3-4 3-1 2 1 3 4 3 5 2 8 3 11 3 13 2 15 3 18 3 20 2 24 3 26 3 30 2 33 3 37 3 42 2 46 3 53 3 60 2 70 3 81 3 99 2 126 3 173 3 287 3 689 2-647 3-260 3-143 2-95 3-67 3-50 2-37 3-27 3-20 2-13 3-8 3-2 2 3 3 6 3 12 2 15 3 20 3 24 2 29 3 35 3 40 2 48 3 56 3 68 2 82 3 103 3 140 2 212 3 461 3-45 2-411 3-190 3-122 2-87 3-66 3-53 2-42 3-34 3-27 2-23 3-17 3-14 2-10 3-7 3-4 2-1 3 1 3 4 2 6 3 8 3 11 2 13 3 15 3 18 2 20 3 23 3 25 2 29 3 32 3 35 2 40 3 45 3 51 2 59 3 69 3 82 2 103 3 136 3 205 2 138 3 0 3-104 2-200 3-128 3-94 2-73 3-59 3-49 2-41 3-36 3-30 2-26 3-22 3-20 2-17 3-16 3-13 2-12 3-11 3-9 2-8 3-7 3-6 2-6 3-4 3-4 2-3 3-3 3-2 3-2 2 1 3 1 3 1 2 1 3 2 3 2 2 2 3 3 3 2 2 3 3 3 3 3 2 3 3 3 3 3 2 5 3 5 3 4 2 5 3 5 3 4 2 5 3 5 3 4 2 5 3 6 3 6 2 6 3 5 3 6 2 6 3 6 3 6 2 5 3 6 3 7 2 6 3 7 3 7 2 6 3 7 3 7 2 8 3 7 3 8 2 7 3 9 3 8 2 9 3 9 3 10 2 10 3 10 3 11 2 12 3 13 3 13 2 14 3 15 3 16 2 18 3 19 3 20 2 22 3 24 3 26 2 28 3 31 3 35 2 38 3 43 3 48 2 56 3 66 3 80 2 77 3 0 3 0 2 0 3 0 3 0 2 0 3 0 3-68 2-75 3-61 3-52 2-44 3-37 3-33 2-27 3-24 3-20 2-17 3-15 3-12 2-9 3-7 3-5 3-2 2-3 3 0 3 3 2 4 3 8 3 10 2 13 3 16 3 20 2 23 3 29 3 33 2 40 3 49 3 58 2 73 3 93 3 39 2 0 3 0 3 0 2 0 3 0 3-41 2-98 3-76 3-61 2-50 3-42 3-34 2-29 3-23 3-18 2-14 3-9 3-5 2-1 3 4 3 8 2 14 3 19 3 26 2 33 3 44 3 55 2 74 3 101 3 123 2 0 3 0 3 0 2-19 3-167 3-119 2-93 3-76 3-63 2-54 3-47 3-40 2-36 3-31 3-27 2-23 3-21 3-17 2-14 3-12 3-9 2-7 3-5 3-2 2 1 3 2 3 5 2 6 3 8 3 10 2 12 3 16 3 18 2 21 3 24 3 27 2 31 3 34 3 39 2 44 3 50 3 56 2 65 3 75 3 90 2 109 3 139 3 0 2 0 3 0 3 0 3 0 2 0 3-20 3-51 2-33 3-21 3-10 2 0 3 8 3 17 2 24 3 34 3 43 2 9 3 0 3 0 2 0 3 0 3 0 2 0 3 0 3 0 2 0 3 0 3 0 2 0 3 0 3 0 2 0 3 0 3 0 2 0 3 0 3 0 2 0 3 0 3 0 2 0 3 0 3 0 2 0 3 0 3 0 2 0 3 0 3 0 2 0 3 0 3 0 2 0 3 0" stroke="#111" stroke-width="15"/>
<path d="M3982 2350l3 0 2 0 3 0 3 0 2 0 3 0 3 0 2 0 3 0 3 0 2 0 3 0 3 0 2 0 3 0 3 0 2 0 3 0 3 0 2 0 3 0 3 0 2 0 3 0 3 0 2 0 3 0 3 0 2 0 3 0 3 0 2 0 3 0 3 0 2 0 3 0 3 0 2 0 3 0 3 0 2 0 3 0 3 0 2 0 3 0 3 0 2 0 3 0 3 0 3 0 2 0 3 0 3 0 2 0 3 0 3 0 2 0 3 0 3 0 2 0 3 0 3 0 2 0 3 0 3 0 2 0 3 0 3 0 2 0 3 0 3 0 2 0 3 0 3 0 2 0 3 0 3 0 2 0 3 0 3 0 2 0 3 0 3 0 2 0 3 0 3 0 2 0 3 0 3 0 2 0 3 0 3 0 2 0 3 0 3 0 2 0 3 0 3 0 2 0 3 0 3 0 2 0 3 0 3 0 2 0 3 0 3 0 2 0 3 0 3 0 2 0 3 0 3 0 2 0 3 0 3 0 2 0 3 0 3 0 2 0 3 0 3 0 2 0 3-27 3-28 2-22 3-19 3-14 2-11 3-7 3-3 2 0 3 4 3 7 2 11 3 15 3 20 2 24 3 31 3 19 2 0 3 0 3 0 2 0 3 0 3 0 2 0 3 0 3 0 3 0 2 0 3 0 3 0 2-12 3-58 3-51 2-44 3-39 3-35 2-32 3-27 3-24 2-22 3-20 3-18 2-16 3-14 3-12 2-11 3-10 3-8 2-6 3-6 3-4 2-4 3-2 3-1 2 0 3 1 3 2 2 3 3 3 3 5 2 5 3 7 3 7 2 9 3 9 3 10 2 11 3 13 3 13 2 15 3 15 3 17 2 18 3 19 3 20 2 21 3 23 3 24 2 26 3 27 3 30 2 31 3 33 3 36 2 23 3 0 3 0 2 0 3 0 3 0 2 0 3 0 3 0 2 0 3 0 3 0 2 0 3 0 3 0 2 0 3 0 3 0 2 0 3 0 3 0 2 0 3 0 3 0 2 0 3 0 3 0 2 0 3 0 3 0 2 0 3 0 3-53 2-54 3-51 3-48 2-45 3-43 3-40 2-39 3-37 3-36 3-34 2-30 3-30 3-28 2-27 3-25 3-25 2-24 3-22 3-22 2-20 3-20 3-18 2-18 3-17 3-16 2-15 3-14 3-13 2-12 3-11 3-9 2-8 3-7 3-6 2-5 3-4 3-2 2-2 3 0 3 1 2 2 3 4 3 5 2 7 3 8 3 10 2 13 3 15 3 17 2 20 3 23 3 27 2 31 3 36 3 42 2 50 3 60 3 74 2 95 3 130 3 198 2 62 3 0 3-59 2-203 3-133 3-98 2-77 3-62 3-51 2-43 3-37 3-31 2-25 3-22 3-17 2-13 3-10 3-6 2-3 3 1 3 5 2 8 3 12 3 17 2 21 3 27 3 34 2 41 3 51 3 63 2 80 3 107 3 154 2 264 3 5 3 0 2-254 3-161 3-111 2-82 3-65 3-51 2-41 3-33 3-25 2-19 3-13 3-7 3-2 2 3 3 9 3 15 2 22 3 29 3 38 2 49 3 62 3 82 2 111 3 164 3 280 2 0 3-79 3-250 2-148 3-103 3-77 2-58 3-46 3-34 2-26 3-18 3-10 2-3 3 4 3 11 2 18 3 28 3 37 2 49 3 65 3 88 2 122 3 191 3 239 2 0 3-209 3-205 2-130 3-91 3-69 2-51 3-39 3-27 2-19 3-10 3-2 2 6 3 15 3 25 2 34 3 48 3 64 2 88 3 124 3 196 2 252 3 0 3-255 2-198 3-126 3-89 2-66 3-49 3-35 2-25 3-15 3-6 2 3 3 12 3 22 2 33 3 46 3 63 2 87 3 124 3 199 2 275 3 0 3-295 2-195 3-124 3-88 2-64 3-48 3-35 2-23 3-14 3-4 2 5 3 15 3 26 2 38 3 52 3 72 2 101 3 152 3 267 3 162 2-163 3-273 3-155 2-106 3-76 3-57 2-41 3-30 3-19 2-9 3 0 3 9 2 20 3 30 3 44 2 61 3 83 3 120 2 191 3 371 3 0 2-360 3-204 3-128 2-92 3-67 3-51 2-37 3-26 3-16 2-8 3 2 3 11 2 20 3 32 3 45 2 61 3 84 3 121 2 193 3 420 3 0 2-426 3-202 3-129 2-92 3-69 3-52 2-40 3-29 3-19 2-12 3-3 3 5 2 14 3 23 3 34 2 46 3 63 3 86 2 124 3 199 3 460 2-90 3-412 3-197 2-128 3-93 3-71 2-55 3-43 3-33 2-25 3-17 3-10 2-3 3 4 3 12 2 19 3 28 3 39 2 52 3 70 3 96 2 141 3 242 3 493 2-404 3-308 3-172 2-119 3-89 3-71 2-56 3-46 3-38 2-30 3-24 3-18 3-12 2-7 3-2 3 3 2 9 3 16 3 22 2 31 3 40 3 54 2 71 3 99 3 148 2 269 3 634 3-685 2-279 3-168 3-121 2-96 3-78 3-66 2-57 3-51 3-44 2-40 3-36 3-32 2-29 3-26 3-24 2-22 3-19 3-18 2-16 3-15 3-13 2-11 3-10 3-9 2-8 3-7 3-5 2-5 3-3 3-3 2-2 3-1 3 0 2 1 3 2 3 2 2 3 3 4 3 5 2 5 3 6 3 6 2 7 3 8 3 8 2 9 3 10 3 10 2 10 3 12 3 11 2 13 3 12 3 14 2 13 3 15 3 15 2 15 3 16 3 16 2 17 3 18 3 18 2 18 3 19 3 21 2 21 3 22 3 23 2 23 3 23 3 25 2 25 3 25 3 26 2 27 3 28 3 28 2 29 3 30 3 31 2 32 3 33 3 33 3 35 2 38 3 39 3 41 2 42 3 44 3 46 2 48 3 50 3 53 2 56 3 59 3 64 2 67 3 74 3 79 2 88 3 98 3 110 2 25 3 0 3 0 2 0 3 0 3 0 2 0 3 0 3 0 2 0 3 0 3 0 2 0 3 0 3-51 2-87 3-78 3-70 2-63 3-58 3-54 2-50 3-46 3-43 2-41 3-38 3-36 2-35 3-32 3-31 2-30 3-28 3-27 2-26 3-25 3-24 2-22 3-22 3-22 2-20 3-20 3-19 2-17 3-17 3-17 2-16 3-15 3-14 2-14 3-14 3-13 2-12 3-12 3-11 2-11 3-11 3-9 2-10 3-9 3-8 2-8 3-7 3-6 2-6 3-6 3-5 2-4 3-4 3-3 2-3 3-2 3-2 2 0 3 1 3 1 2 1 3 3 3 3 2 4 3 4 3 5 3 6 2 4 3 6 3 6 2 7 3 8 3 8 2 10 3 11 3 11 2 13 3 14 3 15 2 16 3 18 3 19 2 20 3 23 3 23 2 26 3 28 3 30 2 32 3 36 3 38 2 42 3 45 3 51 2 56 3 64 3 72 2 84 3 102 3 127 2 174 3 117 3 0 2 0 3-31 3-142 2-93 3-65 3-48 2-34 3-24 3-17 2-9 3-3 3 2 2 8 3 14 3 18 2 24 3 30 3 36 2 44 3 52 3 63 2 76 3 96 3 3 2 0 3 0 3 0 2 0 3 0 3 0 2 0 3 0 3-33 2-33 3-22 3-13 2-5 3 2 3 9 2 14 3 21 3 29 2 31 3 0 3 0 2 0 3 0 3 0 2 0 3 0 3 0 2 0 3 0 3 0 2 0 3 0 3 0 2 0 3 0 3 0 2 0 3 0 3 0 3 0 2 0 3 0 3 0 2 0 3 0 3 0 2 0 3 0 3 0 2 0 3 0 3 0 2 0 3 0 3 0 2 0 3 0 3 0 2 0 3 0 3 0 2 0 3 0 3 0 2 0 3 0 3 0 2 0 3 0 3 0 2 0 3 0 3 0 2 0 3 0 3 0 2 0 3 0 3 0 2 0 3 0 3 0 2 0 3 0 3 0 2 0 3 0 3 0 2 0 3 0" stroke="#111" stroke-width="15"/>
<path d="M3982 2350l3 0 2 0 3 0 3 0 2 0 3 0 3 0 2 0 3 0 3 0 2 0 3 0 3 0 2 0 3 0 3 0 2 0 3 0 3 0 2 0 3 0 3 0 2 0 3 0 3 0 2 0 3 0 3 0 2 0 3 0 3 0 2 0 3 0 3 0 2 0 3 0 3 0 2 0 3 0 3 0 2 0 3 0 3 0 2 0 3 0 3 0 2 0 3 0 3 0 3 0 2 0 3 0 3 0 2 0 3 0 3 0 2 0 3 0 3 0 2 0 3 0 3 0 2 0 3 0 3 0 2 0 3 0 3 0 2 0 3 0 3 0 2 0 3 0 3 0 2 0 3 0 3 0 2 0 3 0 3 0 2 0 3 0 3 0 2 0 3 0 3 0 2 0 3 0 3 0 2 0 3 0 3 0 2 0 3 0 3 0 2 0 3 0 3 0 2 0 3 0 3-19 2-15 3-9 3-4 2 1 3 7 3 12 2 19 3 8 3 0 2 0 3 0 3 0 2 0 3 0 3 0 2 0 3 0 3 0 2 0 3 0 3 0 2 0 3-26 3-49 2-42 3-35 3-30 2-25 3-20 3-17 2-12 3-10 3-6 2-3 3 1 3 4 2 7 3 11 3 15 2 19 3 23 3 29 2 35 3 43 3 52 2 36 3 0 3 0 3 0 2 0 3 0 3 0 2 0 3 0 3 0 2-63 3-73 3-62 2-54 3-46 3-41 2-36 3-33 3-30 2-26 3-25 3-21 2-20 3-19 3-16 2-14 3-14 3-12 2-10 3-10 3-8 2-8 3-6 3-6 2-4 3-4 3-3 2-3 3-1 3-1 2 0 3 0 3 1 2 1 3 3 3 3 2 4 3 3 3 5 2 5 3 5 3 5 2 6 3 6 3 6 2 7 3 7 3 6 2 7 3 7 3 7 2 6 3 7 3 6 2 6 3 5 3 5 2 5 3 4 3 4 2 3 3 2 3 1 2 0 3 0 3-2 2-3 3-4 3-6 2-5 3-6 3-8 2-8 3-10 3-11 2-12 3-13 3-13 2-14 3-14 3-14 2-15 3-15 3-15 2-16 3-16 3-17 2-16 3-16 3-17 2-16 3-16 3-17 3-15 2-14 3-14 3-14 2-13 3-13 3-12 2-12 3-11 3-11 2-11 3-10 3-9 2-9 3-8 3-8 2-7 3-6 3-5 2-5 3-4 3-1 2-1 3 1 3 1 2 2 3 4 3 5 2 6 3 8 3 9 2 11 3 12 3 15 2 17 3 19 3 22 2 26 3 29 3 33 2 39 3 46 3 54 2 65 3 81 3 105 2 147 3 243 3 69 2 0 3-248 3-173 2-118 3-90 3-71 2-59 3-48 3-42 2-35 3-29 3-25 2-21 3-17 3-13 2-10 3-7 3-3 2-1 3 4 3 6 2 11 3 14 3 19 2 23 3 29 3 36 2 43 3 53 3 67 2 84 3 113 3 165 2 296 3 47 3-132 2-253 3-151 3-105 2-80 3-62 3-50 2-39 3-32 3-25 2-18 3-13 3-8 2-2 3 4 3 8 3 15 2 20 3 28 3 36 2 46 3 58 3 75 2 101 3 143 3 236 2 200 3-35 3-321 2-171 3-115 3-83 2-64 3-49 3-38 2-29 3-20 3-13 2-6 3 1 3 8 2 15 3 23 3 33 2 43 3 56 3 74 2 101 3 145 3 246 2 199 3-88 3-303 2-165 3-111 3-80 2-60 3-46 3-33 2-24 3-15 3-7 2 2 3 10 3 18 2 28 3 39 3 52 2 71 3 96 3 140 2 232 3 244 3-68 2-325 3-171 3-113 2-81 3-60 3-44 2-33 3-21 3-13 2-3 3 6 3 15 2 24 3 37 3 50 2 68 3 94 3 135 2 226 3 277 3-64 2-339 3-175 3-114 2-82 3-60 3-45 2-31 3-21 3-11 2-2 3 8 3 17 2 29 3 41 3 56 2 77 3 109 3 165 2 310 3 132 3-275 3-240 2-143 3-98 3-72 2-53 3-38 3-27 2-17 3-6 3 2 2 12 3 22 3 34 2 48 3 65 3 90 2 131 3 215 3 350 2-78 3-363 3-182 2-119 3-84 3-63 2-47 3-33 3-23 2-14 3-4 3 5 2 14 3 24 3 36 2 49 3 68 3 93 2 137 3 227 3 357 2-170 3-332 3-174 2-116 3-83 3-63 2-47 3-35 3-25 2-16 3-7 3 1 2 9 3 19 3 28 2 39 3 54 3 72 2 101 3 148 3 260 2 337 3-309 3-283 2-161 3-110 3-81 2-62 3-48 3-36 2-28 3-19 3-11 2-4 3 2 3 11 2 18 3 26 3 37 2 49 3 64 3 88 2 123 3 196 3 436 2-21 3-432 3-202 2-131 3-95 3-73 2-57 3-46 3-37 2-29 3-21 3-16 2-9 3-4 3 1 3 8 2 13 3 20 3 27 2 36 3 46 3 60 2 78 3 108 3 160 2 292 3 426 3-527 2-257 3-155 3-111 2-85 3-68 3-56 2-46 3-39 3-32 2-27 3-23 3-18 2-13 3-10 3-6 2-3 3 1 3 5 2 8 3 13 3 18 2 22 3 28 3 35 2 44 3 54 3 70 2 92 3 129 3 208 2 514 3-225 3-384 2-196 3-134 3-102 2-82 3-69 3-59 2-52 3-46 3-41 2-38 3-33 3-31 2-28 3-26 3-24 2-22 3-21 3-19 2-17 3-16 3-16 2-14 3-13 3-12 2-11 3-10 3-10 2-9 3-8 3-8 2-7 3-7 3-6 2-5 3-5 3-4 2-2 3-3 3-2 2-2 3-1 3-1 2-1 3-1 3 0 2 0 3 0 3 0 2 1 3 1 3 0 2 1 3 2 3 1 3 1 2 3 3 3 3 4 2 3 3 3 3 4 2 3 3 4 3 3 2 4 3 3 3 4 2 3 3 4 3 3 2 5 3 5 3 5 2 5 3 4 3 5 2 5 3 5 3 4 2 5 3 6 3 6 2 6 3 5 3 6 2 6 3 5 3 6 2 6 3 5 3 6 2 6 3 7 3 6 2 6 3 6 3 6 2 6 3 7 3 6 2 6 3 6 3 7 2 6 3 7 3 6 2 7 3 7 3 7 2 7 3 7 3 8 2 7 3 8 3 8 2 9 3 9 3 9 2 10 3 10 3 10 2 11 3 10 3 12 2 11 3 13 3 12 2 13 3 14 3 14 2 15 3 15 3 16 2 17 3 18 3 18 2 20 3 20 3 21 2 23 3 23 3 25 2 27 3 27 3 30 2 32 3 34 3 36 2 39 3 42 3 46 2 49 3 54 3 60 3 68 2 75 3 89 3 108 2 139 3 203 3 173 2 0 3-60 3-202 2-123 3-86 3-64 2-48 3-37 3-29 2-22 3-17 3-11 2-7 3-2 3 1 2 5 3 9 3 12 2 16 3 20 3 24 2 28 3 34 3 38 2 45 3 52 3 62 2 74 3 91 3 117 2 80 3 0 3 0 2 0 3 0 3 0 2-83 3-73 3-53 2-41 3-29 3-21 2-14 3-7 3-2 2 5 3 10 3 16 2 21 3 28 3 35 2 42 3 52 3 64 2 50 3 0 3 0 2 0 3 0 3 0 2 0 3 0 3 0 2 0 3 0 3 0 2-10 3-20 3-12 2-6 3 1 3 9 2 16 3 22 3 0 2 0 3 0 3 0 2 0 3 0 3 0 2 0 3 0 3 0 2 0 3 0 3 0 2 0 3 0 3 0 2 0 3 0 3 0 3 0 2 0 3 0 3 0 2 0 3 0 3 0 2 0 3 0 3 0 2 0 3 0 3 0 2 0 3 0 3 0 2 0 3 0 3 0 2 0 3 0 3 0 2 0 3 0 3 0 2 0 3 0 3 0 2 0 3 0 3 0 2 0 3 0 3 0 2 0 3 0 3 0 2 0 3 0 3 0 2 0 3 0 3 0 2 0 3 0 3 0 2 0 3 0 3 0 2 0 3 0" stroke="#111" stroke-width="15"/>
<path d="M3982 1601l3 76 2-27 3-116 3-69 2-2 3 74 3 183 2 390 3-226 3-255 2-108 3-28 3 38 2 93 3 90 3-40 2-101 3-55 3 0 2 70 3 162 3 276 2-25 3-196 3-54 2 90 3 274 3 72 2-487 3-209 3-118 2-49 3 2 3 48 2 93 3 166 3 207 2 302 3 208 3 0 2-306 3-288 3-188 2-132 3-62 3-15 2 31 3 99 3 207 3 359 2 25 3-339 3-108 2-23 3 12 3-32 2-63 3-54 3-22 2 28 3 93 3 192 2 277 3-224 3-188 2-93 3-43 3 27 2 106 3 158 3 142 2-23 3-43 3 45 2 118 3-112 3-252 2-162 3-85 3-35 2 10 3 59 3 107 2 192 3 288 3 72 2-215 3-77 3-38 2-52 3-85 3-70 2-45 3-4 3 44 2 100 3 174 3 153 2-139 3-174 3-101 2-38 3 8 3 44 2 36 3 17 3 13 2 31 3 78 3 87 2-11 3-108 3-133 2-74 3-27 3 14 2 62 3 92 3 84 2 24 3-25 3-2 2 76 3 172 3 354 2-249 3-249 3-130 2-50 3 23 3 107 2 148 3 71 3-107 2-92 3 27 3 123 2 40 3-209 3-191 2-114 3-64 3-25 2 10 3 29 3 65 2 47 3 25 3-37 3-72 2-87 3-90 3-82 2-68 3-54 3-39 2-26 3-15 3-12 2-9 3-10 3-17 2-19 3-26 3-31 2-33 3-32 3-29 2-24 3-21 3-15 2-12 3-9 3-8 2-10 3-9 3-11 2-12 3-14 3-14 2-14 3-13 3-11 2-10 3-8 3-6 2-5 3-5 3-4 2-5 3-5 3-5 2-5 3-6 3-5 2-4 3-4 3-4 2-4 3-4 3-4 2-4 3-5 3-5 2-4 3-6 3-6 2-6 3-6 3-6 2-6 3-7 3-6 2-6 3-6 3-6 2-5 3-6 3-6 2-6 3-6 3-7 2-6 3-4 3-5 2-5 3-5 3-5 2-5 3-5 3-5 2-5 3-5 3-4 2-4 3-3 3-4 2-4 3-4 3-4 2-4 3-4 3-4 2-4 3-5 3-4 2-4 3-4 3-3 3-2 2-3 3-2 3-2 2-2 3-2 3-2 2-1 3-2 3 0 2-1 3 0 3 0 2 1 3 1 3 1 2 2 3 3 3 3 2 5 3 6 3 6 2 7 3 7 3 8 2 9 3 10 3 11 2 11 3 12 3 13 2 14 3 15 3 16 2 17 3 19 3 20 2 21 3 23 3 24 2 27 3 29 3 32 2 34 3 38 3 42 2 46 3 53 3 60 2 69 3 82 3 102 2 132 3 191 3 356 2 298 3-525 3-214 2-131 3-92 3-69 2-54 3-42 3-34 2-27 3-21 3-16 2-12 3-8 3-3 2-1 3 3 3 7 2 10 3 13 3 17 2 21 3 25 3 30 2 35 3 41 3 47 2 56 3 67 3 82 2 102 3 136 3 202 2 400 3 131 3-458 2-197 3-121 3-84 2-61 3-45 3-39 2-28 3-19 3-11 3-4 2 3 3 11 3 19 2 28 3 38 3 51 2 69 3 94 3 136 2 227 3 440 3-321 2-303 3-173 3-118 2-90 3-69 3-56 2-45 3-36 3-29 2-22 3-15 3-11 2-4 3 0 3 6 2 11 3 17 3 23 2 29 3 37 3 46 2 57 3 69 3 86 2 109 3 134 3 134 2 19 3-112 3-119 2-94 3-70 3-53 2-38 3-27 3-16 2-7 3 1 3 9 2 17 3 26 3 36 2 45 3 56 3 69 2 83 3 92 3 85 2 35 3-35 3-68 2-66 3-54 3-40 2-27 3-13 3-2 2 9 3 22 3 33 2 44 3 53 3 54 2 32 3-14 3-58 2-75 3-74 3-65 2-55 3-46 3-37 2-29 3-22 3-15 2-8 3-2 3 3 2 11 3 16 3 24 2 30 3 39 3 47 2 56 3 66 3 73 3 71 2 50 3 5 3-37 2-54 3-53 3-45 2-34 3-24 3-13 2-4 3 7 3 16 2 27 3 40 3 52 2 65 3 75 3 67 2 19 3-51 3-84 2-85 3-74 3-60 2-49 3-38 3-28 2-20 3-11 3-3 2 5 3 14 3 23 2 34 3 47 3 64 2 88 3 126 3 202 2 360 3-102 3-338 2-183 3-123 3-89 2-68 3-53 3-41 2-31 3-22 3-15 2-7 3 0 3 7 2 14 3 23 3 31 2 42 3 54 3 70 2 91 3 119 3 147 2 102 3-87 3-147 2-121 3-92 3-70 2-54 3-42 3-31 2-23 3-15 3-7 2-1 3 5 3 12 2 18 3 25 3 33 2 41 3 50 3 62 2 77 3 98 3 132 2 194 3 315 3 0 2-201 3-204 3-122 2-83 3-59 3-42 2-29 3-18 3-10 3-1 2 7 3 14 3 23 2 31 3 42 3 41 2 52 3 66 3 82 2 96 3 85 3 2 2-92 3-117 3-105 2-89 3-75 3-63 2-55 3-47 3-40 2-35 3-29 3-26 2-21 3-17 3-13 2-11 3-7 3-3 2-1 3 2 3 5 2 9 3 11 3 15 2 17 3 22 3 25 2 30 3 34 3 39 2 47 3 55 3 66 2 82 3 105 3 142 2 216 3 152 3-24 2-262 3-161 3-114 2-86 3-68 3-56 2-47 3-40 3-33 2-29 3-25 3-22 2-19 3-15 3-14 2-12 3-9 3-8 2-7 3-5 3-4 2-3 3-2 3-1 2 0 3 0 3 0 2 2 3 3 3 3 2 3 3 3 3 4 2 3 3 4 3 4 2 4 3 5 3 4 2 5 3 6 3 6 2 7 3 7 3 8 2 9 3 10 3 13 3 13 2 15 3 17 3 18 2 20 3 22 3 22 2 26 3 28 3 32 2 36 3 41 3 47 2 53 3 65 3 76 2 90 3 106 3 103 2 32 3-78 3-116 2-108 3-92 3-78 2-68 3-59 3-52 2-47 3-41 3-38 2-34 3-30 3-28 2-25 3-22 3-21 2-18 3-16 3-14 2-13 3-11 3-9 2-8 3-7 3-5 2 9 3 9 3 11 2 12 3 13 3 14 2 15 3 15 3 15 2 16 3 17 3 19 2 23 3 26 3 31 2 36 3 37 3 36 2 29 3 13 3-1 2-14 3-13 3-6 2 9 3 27 3 44 2 59 3 39 3 42 2 25 3-7 3-47 2-84 3-82 3-61 2-39 3-13 3 8 2 40 3 58 3 67 2 75 3 58 3 38 2 25 3-34 3-94 2-108 3-91 3-49 2-8 3 21 3 46 3 65 2 46 3 7 3 1 2 31 3 70 3 115 2 111 3-41 3-92 2-40 3 30 3 35 2-51 3-118 3-123 2-76 3-33 3 16 2 55 3 110 3 167 2 174 3 136 3 72 2 58 3-223 3-218 2-185 3-112 3-57 2-12 3 32 3 54 2 91 3 125 3 157 2 126 3 166 3 134 2-380 3-227 3-149 2-110 3-46 3-17 2 27 3 63 3 121 2 176 3 194 3-59 2-78 3 38 3 201 2 246 3-308 3-266 2-84 3-28 3 51 2 162 3 457 3-266 2-300 3-125 3-53 2-1 3 25 3 17 2-22 3-41 3-24 2 5 3 42 3 54 2 55 3-25 3-83 2-71 3-18 3 8 2 20 3 10 3-5 2-9 3 12 3 50 2 72 3 76 3-14 2-116 3-92 3-51 2-12 3 15 3 30 2 26 3 12 3 7 3 20 2 50 3 59 3 40 2-46 3-87 3-70 2-22 3 8 3 30 2 34 3 10 3-16 2-10 3 27 3 64 2 152 3 168 3-87 2-157 3-100 3-33 2 23 3 53 3 67 2-6 3-79 3-41 2 12 3 101 3 210 2 434 3-316 3-205 2-36 3 61 3 138 2 8 3-229 3-165 2-106 3-43 3 7 2 48 3 80 3 68 2 46 3 2 3 10 2 42 3 64" stroke="#d8281d" stroke-width="12" stroke-dasharray="30 13 10 13"/>
<path d="M3982 1755l3 96 2 220 3 279 3-300 2-197 3-97 3-44 2 16 3 73 3 75 2-15 3-117 3-100 2-72 3-44 3-4 2 30 3 50 3 96 2 161 3 151 3 245 2 93 3 0 3 0 2-277 3-218 3-134 2-106 3-50 3-15 2 19 3 51 3 104 2 175 3 309 3-89 2-242 3-121 3-44 2 4 3 24 3 49 2 8 3-56 3-58 2-37 3 8 3 43 3 156 2 238 3 259 3-339 2-183 3-63 3 3 2 66 3 70 3-8 2-131 3-99 3-91 2-45 3-5 3 37 2 93 3 134 3 168 2 264 3-47 3-100 2 20 3 172 3 84 2 0 3-355 3-193 2-76 3-17 3 7 2 36 3 73 3 95 2 153 3 101 3-21 2-22 3 62 3 157 2 0 3-217 3-208 2-142 3-61 3-30 2 19 3 65 3 97 2 137 3 37 3-59 2-60 3-14 3 51 2 164 3 221 3-43 2-338 3-157 3-86 2-49 3-10 3 19 2 49 3 58 3 58 2-12 3-52 3-78 2-90 3-97 3-85 2-89 3-63 3-46 2-34 3-18 3-2 2 7 3 13 3 19 2 16 3 2 3-14 2-25 3-32 3-40 2-37 3-36 3-26 2-23 3-14 3-5 2 2 3 4 3 5 2 6 3 7 3 3 3-3 2-8 3-13 3-14 2-11 3-14 3-11 2-7 3-2 3 1 2 5 3 9 3 11 2 12 3 14 3 9 2 7 3 4 3 1 2-2 3-1 3 1 2 1 3 4 3 6 2 11 3 13 3 16 2 19 3 22 3 21 2 18 3 16 3 14 2 10 3 10 3 9 2 9 3 11 3 16 2 16 3 21 3 24 2 25 3 26 3 24 2 24 3 20 3 19 2 16 3 17 3 19 2 19 3 19 3 17 2 17 3 17 3 17 2 17 3 18 3 19 2 20 3 22 3 23 2 25 3 27 3 28 2 28 3 28 3 25 2 22 3 20 3 16 2 15 3 16 3 19 2 25 3 33 3 43 2 56 3 68 3 64 2 16 3-65 3-109 2-111 3-99 3-86 2-76 3-66 3-60 2-53 3-49 3-45 2-41 3-39 3-38 2-36 3-34 3-33 3-32 2-30 3-28 3-27 2-27 3-26 3-25 2-25 3-25 3-24 2-25 3-23 3-24 2-24 3-23 3-23 2-23 3-23 3-23 2-22 3-22 3-22 2-20 3-20 3-19 2-19 3-18 3-18 2-17 3-16 3-16 2-16 3-15 3-14 2-13 3-13 3-12 2-12 3-11 3-10 2-10 3-9 3-9 2-7 3-7 3-7 2-6 3-5 3-4 2-4 3-3 3-3 2-1 3-1 3 0 2 1 3 1 3 3 2 4 3 4 3 6 2 7 3 8 3 9 2 10 3 12 3 14 2 14 3 17 3 18 2 20 3 22 3 24 2 27 3 29 3 32 2 35 3 39 3 42 2 48 3 54 3 61 2 70 3 83 3 100 2 128 3 174 3 271 2 227 3-303 3-201 2-127 3-88 3-65 2-48 3-37 3-29 2-21 3-14 3-8 3-2 2 3 3 8 3 14 2 20 3 25 3 32 2 40 3 49 3 60 2 75 3 95 3 125 2 177 3 249 3 23 2-235 3-164 3-111 2-78 3-58 3-41 2-29 3-18 3-8 2 1 3 9 3 20 2 29 3 41 3 56 2 76 3 105 3 153 2 251 3 231 3-327 2-220 3-142 3-102 2-77 3-59 3-47 2-37 3-28 3-21 2-14 3-8 3-2 2 4 3 10 3 16 2 23 3 30 3 39 2 49 3 61 3 76 2 95 3 116 3 123 2 45 3-81 3-114 2-97 3-75 3-57 2-42 3-29 3-19 2-10 3 0 3 9 2 18 3 28 3 38 2 50 3 61 3 74 2 78 3 63 3 11 2-46 3-70 3-67 2-56 3-44 3-32 2-21 3-10 3-2 2 9 3 18 3 27 2 37 3 47 3 52 2 50 3 30 3-9 3-45 2-62 3-64 3-58 2-49 3-41 3-33 2-25 3-19 3-11 2-6 3 1 3 7 2 13 3 19 3 27 2 33 3 42 3 52 2 63 3 77 3 95 2 114 3 124 3 76 2-44 3-101 3-93 2-74 3-56 3-42 2-30 3-20 3-11 2-5 3 3 3 8 2 14 3 19 3 23 2 27 3 28 3 29 2 26 3 21 3 15 2 6 3-2 3-7 2-11 3-12 3-13 2-11 3-10 3-8 2-7 3-7 3-7 2-7 3-10 3-14 2-16 3-21 3-25 2-27 3-28 3-30 2-28 3-27 3-25 2-22 3-19 3-15 2-12 3-7 3-4 2 1 3 6 3 10 2 16 3 21 3 28 2 35 3 44 3 53 2 67 3 84 3 106 2 132 3 136 3 15 2-123 3-128 3-101 2-79 3-62 3-49 2-38 3-30 3-22 3-17 2-10 3-6 3-1 2 4 3 8 3 16 2 22 3 27 3 34 2 41 3 50 3 59 2 71 3 87 3 102 2 110 3 72 3-27 2-91 3-94 3-79 2-63 3-50 3-39 2-30 3-22 3-15 2-9 3-3 3 2 2 8 3 13 3 18 2 24 3 30 3 37 2 44 3 54 3 65 2 79 3 113 3 136 2 104 3-54 3-137 2-123 3-99 3-79 2-64 3-54 3-44 2-38 3-32 3-28 2-23 3-20 3-18 2-14 3-13 3-10 2-9 3-7 3-7 2-5 3-4 3-3 2-2 3-2 3-1 2-1 3 0 3 1 2 2 3 2 3 3 2 4 3 5 3 6 2 7 3 8 3 9 2 12 3 13 3 14 2 16 3 17 3 18 2 20 3 22 3 23 2 26 3 27 3 29 2 30 3 32 3 33 2 33 3 33 3 30 3 27 2 21 3 16 3 10 2 2 3-2 3-8 2-10 3-12 3-11 2-10 3-8 3-7 2-4 3-2 3 0 2 3 3 5 3 7 2 9 3 12 3 14 2 17 3 18 3 19 2 21 3 19 3 18 2 15 3 9 3 2 2-7 3-17 3-26 2-34 3-40 3-45 2-47 3-48 3-47 2-47 3-44 3-43 2-40 3-37 3-35 2-20 3-19 3-15 2-13 3-12 3-11 2-9 3-7 3-4 2-1 3 0 3 0 2 0 3-1 3-6 2-8 3-14 3-16 2-17 3-19 3-19 2-14 3-10 3-3 2 0 3 11 3 17 2 22 3 22 3 17 2 13 3 6 3-3 2-2 3-13 3-7 2-5 3 10 3 15 2 29 3 50 3 80 2 122 3 161 3 263 2 268 3-98 3-142 2-41 3 65 3 175 2 16 3-228 3-157 3-65 2-26 3 21 3 39 2-23 3-99 3-86 2-82 3-41 3-3 2 33 3 69 3 85 2 50 3-49 3-81 2-64 3-35 3-8 2 10 3 21 3 26 2 23 3 26 3 39 2 71 3 124 3 176 2-45 3-198 3-149 2-87 3-46 3-9 2 25 3 53 3 101 2 181 3 309 3 124 2-51 3-150 3-39 2-30 3-94 3-116 2-104 3-79 3-45 2-2 3 35 3 106 2 156 3 270 3-32 2-243 3-138 3-57 2-7 3 31 3 64 2 19 3-83 3-83 2-66 3-32 3 24 2 84 3 120 3 219 2 323 3 0 3-211 2-136 3-59 3-50 2-68 3-81 3-82 2-40 3-32 3-1 2 40 3 77 3 110 2 87 3-48 3-114 2-89 3-42 3-4 2 38 3 89 3 112 2 183 3 136 3-72 2-77 3-16 3 4 3-44 2-107 3-98 3-75 2-40 3-5 3 37 2 85 3 140 3 64 2-149 3-143 3-78 2-34 3 8 3 35 2 86 3 97 3 27 2-65 3-67 3-44 2-16 3-19 3-36 2-61 3-49 3-43 2-13 3 12 3 51 2 77 3 103 3 168 2 258 3 205 3-134 2-63 3-127 3-145 2-155 3-133 3-84 2-44 3-22 3 14 2 48 3 86 3 135 2 176 3 249" stroke="#d8281d" stroke-width="12" stroke-dasharray="30 13 10 13"/>
<path d="M3982 1850l3 23 2 21 3 9 3 3 2-40 3-65 3-71 2-87 3-49 3-19 2-4 3 8 3 25 2 48 3 57 3 70 2 54 3 50 3 42 2 37 3 53 3 26 2-12 3-39 3-66 2-42 3-7 3 33 2 68 3 81 3-25 2-139 3-127 3-82 2-59 3-35 3-7 2 13 3 25 3 48 2 71 3 66 3 65 2 49 3 8 3-27 2-59 3-62 3-58 3-44 2-25 3-9 3 4 2 12 3 11 3-1 2-16 3-22 3-18 2-13 3 0 3 6 2 20 3 23 3 11 2-6 3-11 3-24 2-33 3-40 3-44 2-48 3-48 3-42 2-43 3-24 3-13 2 1 3 14 3 26 2 43 3 38 3 49 2 60 3 64 3 57 2 37 3 6 3-34 2-41 3-25 3-21 2 12 3 44 3 95 2 173 3 274 3 193 2-338 3-176 3-88 2-22 3 10 3 46 2 87 3 71 3 21 2-35 3-38 3 25 2 76 3 228 3 133 2-279 3-244 3-137 2-89 3-32 3 7 2 26 3 59 3 58 2 56 3 18 3-5 2 0 3 31 3 112 2 189 3 166 3-252 2-198 3-74 3-39 2 24 3 83 3 187 2 333 3 0 3-315 2-146 3-52 3-8 2 45 3 99 3 64 2-75 3-103 3-76 3-34 2 7 3 52 3 67 2 87 3 47 3-44 2-83 3-61 3-28 2 8 3 32 3 21 2 4 3-16 3-33 2-28 3-14 3 1 2 16 3 22 3 20 2 20 3 9 3 12 2 24 3 43 3 69 2 116 3 169 3 62 2 0 3 0 3 0 2 0 3-10 3-39 2-64 3-89 3-81 2-74 3-66 3-62 2-58 3-51 3-43 2-35 3-27 3-18 2-11 3-5 3-2 2 3 3 8 3 11 2 16 3 13 3 13 2 11 3 7 3 3 2-2 3-6 3-11 2-14 3-16 3-17 2-17 3-18 3-17 2-17 3-16 3-15 2-15 3-14 3-11 2-12 3-11 3-11 2-12 3-12 3-12 2-13 3-13 3-14 2-13 3-14 3-13 2-14 3-13 3-13 2-12 3-12 3-10 2-9 3-9 3-8 2-8 3-6 3-5 3-2 2-2 3 1 3 1 2 3 3 4 3 5 2 7 3 8 3 9 2 11 3 12 3 14 2 16 3 17 3 19 2 22 3 24 3 27 2 30 3 34 3 39 2 44 3 49 3 56 2 62 3 66 3 62 2 42 3 2 3-41 2-64 3-69 3-66 2-60 3-54 3-48 2-43 3-38 3-35 2-31 3-28 3-25 2-23 3-21 3-18 2-16 3-13 3-12 2-9 3-8 3-5 2-3 3 0 3 2 2 5 3 8 3 11 2 15 3 19 3 23 2 31 3 38 3 48 2 59 3 75 3 101 2 145 3 237 3 331 2-341 3-252 3-160 2-116 3-90 3-72 2-61 3-50 3-43 2-37 3-30 3-26 2-21 3-16 3-11 2-7 3-3 3 3 2 8 3 13 3 21 2 28 3 38 3 50 2 67 3 94 3 133 2 219 3 350 3-316 3-272 2-172 3-125 3-98 2-81 3-68 3-59 2-52 3-46 3-41 2-37 3-33 3-30 2-27 3-23 3-22 2-19 3-16 3-14 2-12 3-10 3-7 2-6 3-3 3-1 2 1 3 3 3 6 2 8 3 11 3 13 2 17 3 19 3 22 2 27 3 30 3 35 2 39 3 46 3 53 2 62 3 73 3 89 2 111 3 148 3 226 2 499 3-140 3-365 2-172 3-107 3-73 2-51 3-36 3-24 2-13 3-5 3 4 2 12 3 20 3 29 2 38 3 50 3 64 2 82 3 110 3 156 2 258 3 552 3-466 2-276 3-151 3-99 2-70 3-50 3-35 2-23 3-14 3-5 2 3 3 10 3 18 2 26 3 33 3 43 2 53 3 65 3 81 2 102 3 136 3 195 2 349 3 75 3-277 2-190 3-111 3-71 2-46 3-28 3-13 3-2 2 8 3 17 3 23 2 29 3 29 3 24 2 12 3-5 3-20 2-30 3-34 3-32 2-28 3-22 3-15 2-9 3-2 3 5 2 13 3 22 3 31 2 42 3 55 3 70 2 88 3 102 3 82 2-17 3-101 3-111 2-96 3-78 3-63 2-52 3-41 3-33 2-26 3-18 3-13 2-6 3-1 3 6 2 11 3 16 3 23 2 29 3 35 3 39 2 43 3 43 3 38 2 24 3 5 3-12 2-23 3-28 3-25 2-22 3-15 3-9 2-1 3 4 3 11 2 15 3 16 3 15 2 6 3-6 3-22 2-34 3-42 3-45 2-43 3-40 3-36 2-31 3-26 3-21 2-16 3-12 3-7 2-2 3 3 3 8 2 13 3 19 3 25 2 32 3 41 3 51 2 63 3 82 3 108 2 154 3 262 3 217 2-156 3-284 3-159 3-108 2-80 3-61 3-48 2-37 3-30 3-16 2-11 3-6 3-2 2 3 3 7 3 11 2 15 3 19 3 23 2 28 3 33 3 39 2 45 3 53 3 62 2 75 3 90 3 113 2 144 3 172 3 66 2-112 3-143 3-110 2-83 3-64 3-49 2-39 3-31 3-25 2-19 3-14 3-10 2-8 3-2 3 1 2 6 3 9 3 13 2 16 3 20 3 23 2 27 3 30 3 32 2 36 3 37 3 38 2 38 3 35 3 32 2 25 3 16 3 9 2 0 3-7 3-12 2-15 3-19 3-21 2-22 3-25 3-26 2-27 3-28 3-28 2-28 3-28 3-27 2-25 3-24 3-23 2-21 3-18 3-15 2-14 3-11 3-9 2-7 3-4 3-2 2 0 3 3 3 4 2 7 3 9 3 11 2 12 3 14 3 16 2 17 3 17 3 18 3 21 2 21 3 22 3 20 2 20 3 19 3 24 2 23 3 23 3 20 2 17 3 14 3 9 2 3 3-2 3-5 2-12 3-19 3-25 2-30 3-35 3-38 2-41 3-43 3-43 2-41 3-41 3-39 2-37 3-35 3-32 2-29 3-26 3-23 2-20 3-16 3-12 2-10 3-5 3-3 2 1 3 5 3 9 2 12 3 16 3 19 2 32 3 34 3 37 2 38 3 38 3 34 2 29 3 21 3 15 2 9 3-1 3-8 2-15 3-20 3-24 2-27 3-28 3-28 2-29 3-26 3-23 2-17 3-12 3-4 2 3 3 10 3 19 2 23 3 25 3 24 2 18 3 10 3 1 2-7 3-14 3-9 2-6 3-8 3-4 2 10 3 23 3 39 2 56 3 84 3 101 2 80 3 88 3 58 2 14 3-57 3-101 2-123 3-91 3-59 3-52 2-22 3-3 3 20 2 32 3 52 3 55 2 40 3 30 3 32 2 52 3 67 3 17 2-86 3-161 3-121 2-80 3-41 3-21 2 11 3 34 3 70 2 102 3 113 3 127 2 128 3 96 3 171 2 74 3-269 3-285 2-161 3-110 3-49 2-19 3 20 3 74 2 140 3 236 3 423 2-240 3-257 3-111 2-44 3-4 3 22 2 29 3-15 3-58 2-41 3-12 3 26 2 61 3 127 3 300 2 217 3-335 3-180 2-57 3 18 3 110 2 352 3-19 3-402 2-197 3-103 3-56 2-17 3 11 3 35 2 54 3 51 3 38 2 14 3 14 3 26 2 58 3 82 3 72 2-2 3-77 3-71 2-55 3-27 3 19 2 82 3 164 3 210 2-139 3-254 3-122 2-73 3-36 3-11 2 19 3 45 3 74 2 72 3 127 3 158 3 106 2 37 3-114 3-172 2-133 3-87 3-57 2-32 3-12 3 23 2 62 3 94 3 161 2 287 3 165 3-205 2-131 3-34 3-12 2-35 3-89 3-94 2-88 3-52 3-9 2 21 3 52 3 89 2 158 3 180 3 249 2 0 3-202 3-25 2 104 3 123 3 0 2-310 3-206 3-129 2-75 3-28 3 0 2 31 3 57 3 54 2 57 3 54 3 38 2 44 3 60" stroke="#d8281d" stroke-width="12" stroke-dasharray="30 13 10 13"/>
<path d="M3982 1849l3-135 2-111 3-70 3-35 2-12 3 29 3 71 2 106 3 153 3 121 2-43 3-73 3-23 2 50 3 92 3 77 2-102 3-192 3-115 2-79 3-35 3-9 2 8 3 17 3 12 2 4 3 3 3 10 2 23 3 43 3 69 2 67 3 22 3-33 2-66 3-42 3-22 2 22 3 49 3 61 2 66 3 26 3-43 2-39 3-20 3 16 2 55 3 99 3 66 3-37 2-79 3-59 3-26 2 15 3 48 3 98 2 65 3-94 3-129 2-89 3-50 3-9 2 28 3 68 3 75 2 34 3-35 3-61 2-28 3 29 3 95 2 183 3 79 3-264 2-176 3-104 3-71 2-25 3 11 3 55 2 99 3 150 3 226 2 0 3-120 3-53 2 23 3 103 3 388 2-135 3-402 3-201 2-93 3-37 3 9 2 60 3 125 3 234 2 262 3-366 3-183 2-77 3-33 3 5 2 41 3 30 3 15 2-13 3-29 3-19 2 9 3 47 3 90 2 79 3-63 3-148 2-106 3-83 3-40 2-6 3 21 3 46 2 72 3 60 3 36 2-2 3-7 3 15 2 69 3 110 3 81 2-86 3-154 3-115 2-57 3-42 3-9 2 27 3 60 3 61 2 44 3 21 3 10 2 28 3 77 3 137 2 232 3-52 3-245 3-106 2-77 3-27 3 19 2 65 3 106 3 171 2 74 3-126 3-96 2-50 3-1 3 33 2 82 3 118 3 93 2 16 3-9 3 48 2 152 3 105 3-236 2-264 3-173 3-97 2-65 3-42 3-15 2 4 3 18 3 33 2 38 3 17 3 3 2-19 3-31 3-36 2-34 3-30 3-27 2-21 3-15 3-10 2-6 3-4 3-1 2-1 3 0 3 1 2 2 3 4 3 7 2 8 3 10 3 12 2 13 3 28 3 28 2 30 3 31 3 32 2 33 3 34 3 35 2 36 3 38 3 38 2 39 3 39 3 38 2 37 3 34 3 30 2 22 3 14 3 5 2-4 3-12 3-17 2-21 3-21 3-22 2-20 3-18 3-15 2-12 3-10 3-7 2-4 3-1 3 1 2 3 3 4 3 6 2 6 3 6 3 1 2 0 3-1 3-4 3-7 2-10 3-14 3-17 2-20 3-23 3-25 2-27 3-28 3-27 2-27 3-26 3-24 2-23 3-21 3-19 2-17 3-15 3-13 2-11 3-9 3-7 2-6 3-3 3-1 2 0 3 2 3 3 2 4 3 5 3 6 2 7 3 8 3 9 2 10 3 11 3 12 2 12 3 14 3 15 2 16 3 17 3 20 2 21 3 24 3 27 2 31 3 35 3 40 2 48 3 57 3 68 2 86 3 107 3 134 2 69 3 0 3-114 2-135 3-109 3-88 2-69 3-58 3-49 2-42 3-37 3-31 2-26 3-23 3-18 2-16 3-11 3-8 2-5 3-1 3 3 2 7 3 11 3 16 2 21 3 28 3 36 2 45 3 57 3 75 2 101 3 147 3 253 2 40 3-2 3-287 2-166 3-115 3-87 2-68 3-55 3-44 2-35 3-27 3-20 3-14 2-8 3-1 3 5 2 11 3 19 3 27 2 36 3 47 3 60 2 74 3 83 3 67 2-1 3-78 3-103 2-96 3-83 3-70 2-59 3-49 3-41 2-34 3-28 3-21 2-16 3-9 3-5 2 2 3 9 3 15 2 22 3 32 3 42 2 56 3 75 3 103 2 151 3 261 3 425 2-426 3-267 3-156 2-107 3-79 3-60 2-46 3-34 3-25 2-16 3-8 3-1 2 8 3 16 3 25 2 36 3 48 3 64 2 86 3 115 3 145 2 94 3-104 3-158 2-129 3-98 3-77 2-61 3-48 3-36 2-27 3-18 3-10 2-1 3 9 3 19 2 31 3 47 3 67 2 100 3 155 3 265 2 61 3-326 3-210 2-145 3-110 3-88 2-73 3-61 3-53 2-45 3-38 3-34 2-28 3-24 3-21 2-16 3-13 3-10 3-6 2-4 3 0 3 3 2 6 3 9 3 13 2 15 3 20 3 23 2 28 3 32 3 37 2 44 3 50 3 59 2 71 3 84 3 107 2 140 3 208 3 413 2 87 3-430 3-188 2-115 3-78 3-55 2-39 3-27 3-17 2-9 3 0 3 6 2 14 3 21 3 28 2 36 3 45 3 55 2 68 3 84 3 105 2 132 3 159 3 98 2-83 3-131 3-105 2-77 3-56 3-40 2-27 3-17 3-7 2 2 3 10 3 18 2 27 3 37 3 48 2 62 3 78 3 99 2 129 3 153 3 82 2-100 3-138 3-109 2-82 3-62 3-47 2-35 3-25 3-16 2-10 3-3 3 4 2 9 3 16 3 21 2 28 3 36 3 43 2 53 3 64 3 80 2 100 3 123 3 134 2 48 3-100 3-129 2-108 3-85 3-67 2-55 3-44 3-35 3-29 2-23 3-18 3-12 2-9 3-4 3 3 2 9 3 13 3 18 2 22 3 28 3 32 2 37 3 40 3 40 2 37 3 27 3 12 2-8 3-24 3-33 2-37 3-36 3-33 2-29 3-25 3-21 2-17 3-13 3-9 2-5 3-2 3 2 2 4 3 9 3 11 2 15 3 19 3 23 2 26 3 29 3 33 2 38 3 45 3 51 2 61 3 73 3 89 2 111 3 144 3 139 2 0 3-45 3-153 2-117 3-89 3-72 2-58 3-48 3-40 2-35 3-29 3-25 2-22 3-19 3-16 2-14 3-12 3-10 2-9 3-7 3-6 2-5 3-5 3-3 2-2 3-2 3-1 2 0 3 0 3 1 2 2 3 3 3 3 2 4 3 4 3 4 2 5 3 5 3 6 2 6 3 7 3 7 2 8 3 8 3 10 2 10 3 12 3 13 3 14 2 17 3 18 3 22 2 23 3 27 3 27 2 29 3 34 3 39 2 43 3 48 3 51 2 51 3 44 3 26 2-4 3-30 3-47 2-52 3-51 3-47 2-41 3-36 3-31 2-25 3-21 3-16 2-11 3-6 3-1 2 4 3 10 3 16 2 23 3 31 3 39 2 47 3 50 3 41 2 11 3-35 3-70 2-81 3-78 3-72 2-52 3-44 3-37 2-30 3-25 3-21 2-16 3-11 3-6 2 0 3 4 3 8 2 10 3 12 3 11 2 10 3 6 3 4 2 2 3 1 3 2 2 7 3 13 3 18 2 28 3 35 3 42 2 50 3 55 3 47 2 26 3-1 3-16 2-42 3-37 3-42 2-18 3-2 3 20 2 46 3 82 3 111 2 150 3 100 3-34 2-67 3-44 3-8 2 49 3 27 3-52 2-83 3-81 3-61 3-49 2-37 3-42 3-47 2-46 3-34 3-21 2-7 3 9 3 31 2 42 3 61 3 69 2 69 3 40 3 20 2 11 3-8 3-37 2-48 3-61 3-63 2-51 3-29 3-9 2 9 3 23 3 41 2 53 3 46 3 47 2 34 3 22 3 13 2 8 3-7 3-28 2-50 3-55 3-20 2-7 3 14 3 31 2 34 3 2 3-50 2-73 3-63 3-39 2-14 3 6 3 46 2 77 3 100 3 91 2 55 3-2 3-40 2-79 3-86 3-81 2-80 3-54 3-42 2-21 3 3 3 36 2 63 3 117 3 177 2 278 3 76 3-149 2-74 3-23 3-24 2-86 3-123 3-88 2-74 3-26 3-3 2 25 3 76 3 102 2 93 3 35 3-27 2-16 3 48 3 107 2 174 3-129 3-245 2-163 3-85 3-45 2-7 3 27 3 52 3 88 2 84 3 108 3 76 2 78 3 123 3 140 2-229 3-245 3-150 2-91 3-43 3-14 2 27 3 77 3 130 2 218 3 259 3-136 2-177 3-96 3-42 2 23 3 83 3 149 2 163 3-153 3-141 2-52 3 18 3 100 2 242 3 207 3-184 2-211 3-98 3-30 2 45 3 145 3 333 2-121 3-372 3-170 2-111 3-60 3-27 2-4 3 16 3 28 2 37 3 40" stroke="#d8281d" stroke-width="12" stroke-dasharray="30 13 10 13"/>
<path d="M3982 1799l3-112 2-66 3-32 3 10 2 64 3 140 3 308 2 35 3-291 3-145 2-62 3-15 3 36 2 84 3 122 3 150 2 68 3-1 3 53 2 112 3-58 3-243 2-183 3-144 3-74 2-41 3-9 3 36 2 66 3 86 3 74 2-14 3-68 3-52 2-29 3-8 3 2 2 2 3-2 3 1 2 14 3 42 3 81 2 161 3 208 3-42 2-224 3-149 3-78 3-43 2 6 3 37 3 91 2 119 3 83 3-45 2-84 3-50 3 12 2 60 3 158 3 371 2-76 3-344 3-143 2-66 3 10 3 68 2 160 3 121 3-147 2-138 3-88 3-18 2 63 3 162 3 433 2-156 3-373 3-145 2-50 3-23 3 27 2 60 3 56 3 4 2-61 3-55 3-17 2 34 3 101 3 180 2 146 3-220 3-175 2-86 3-31 3 5 2 32 3 54 3 59 2 2 3-44 3-32 2-6 3 35 3 65 2 128 3 55 3-107 2-104 3-84 3-27 2 3 3 38 3 55 2 25 3-42 3-55 2-35 3-7 3 32 2 91 3 163 3 359 2 130 3-362 3-147 2-54 3 6 3 30 2 78 3 105 3 51 2 28 3 77 3 199 2 4 3-375 3-250 2-139 3-100 3-59 2-31 3 1 3 21 2 55 3 51 3 93 3 89 2 68 3 29 3-23 2-59 3-54 3-64 2-50 3-30 3-7 2 17 3 40 3 70 2 69 3 55 3 23 2-32 3-46 3-39 2-23 3-14 3-6 2 0 3 7 3 14 2 23 3 28 3 24 2 9 3-7 3-21 2-29 3-16 3-3 2 10 3 22 3 32 2 41 3 47 3 43 2 42 3 27 3 11 2-4 3-5 3-3 2 7 3 20 3 29 2 34 3 27 3 13 2-3 3-24 3-41 2-53 3-33 3-36 2-38 3-36 3-33 2-30 3-26 3-22 2-19 3-16 3-12 2-10 3-8 3-5 2-3 3 0 3 1 2 2 3 4 3 5 2 6 3 6 3 8 2 7 3 7 3 7 2 5 3 5 3 3 2 1 3-1 3-1 2-3 3-5 3-7 2-8 3-9 3-10 2-10 3-11 3-11 2-10 3-10 3-10 3-9 2-8 3-6 3-5 2-3 3-3 3-1 2-1 3 1 3 2 2 3 3 5 3 5 2 7 3 8 3 9 2 10 3 11 3 12 2 14 3 14 3 16 2 17 3 19 3 20 2 21 3 23 3 26 2 27 3 31 3 35 2 40 3 45 3 53 2 60 3 66 3 63 2 37 3-12 3-59 2-78 3-77 3-70 2-61 3-53 3-45 2-38 3-33 3-27 2-22 3-18 3-14 2-9 3-6 3-2 2 1 3 6 3 9 2 13 3 17 3 22 2 30 3 38 3 45 2 57 3 71 3 94 2 129 3 200 3 20 2 0 3-98 3-188 2-129 3-98 3-79 2-65 3-56 3-48 2-42 3-36 3-33 2-29 3-25 3-22 2-19 3-17 3-14 2-11 3-9 3-6 2-4 3-1 3 1 2 4 3 7 3 17 2 22 3 27 3 32 3 39 2 46 3 55 3 65 2 77 3 87 3 87 2 54 3-15 3-67 2-78 3-69 3-57 2-44 3-34 3-24 2-15 3-8 3 0 2 7 3 13 3 19 2 22 3 24 3 23 2 15 3 6 3-7 2-17 3-24 3-25 2-24 3-20 3-14 2-8 3-1 3 7 2 16 3 27 3 38 2 54 3 74 3 103 2 149 3 195 3 9 2-212 3-170 3-125 2-94 3-73 3-58 2-47 3-37 3-29 2-21 3-15 3-8 2-2 3 4 3 10 2 17 3 25 3 33 2 44 3 55 3 73 2 96 3 133 3 197 2 244 3-151 3-227 2-152 3-106 3-78 2-59 3-44 3-32 2-23 3-13 3-5 2 4 3 13 3 23 2 33 3 46 3 63 2 84 3 119 3 181 2 327 3 79 3-363 2-194 3-124 3-86 2-62 3-44 3-30 3-17 2-6 3 6 3 18 2 32 3 48 3 70 2 99 3 137 3 143 2-51 3-180 3-151 2-115 3-89 3-71 2-56 3-44 3-35 2-26 3-17 3-10 2-3 3 6 3 14 2 24 3 34 3 48 2 65 3 91 3 133 2 220 3 512 3-343 2-320 3-175 3-119 2-87 3-66 3-51 2-39 3-29 3-20 2-11 3-3 3 5 2 15 3 25 3 38 2 54 3 77 3 114 2 184 3 363 3-114 2-346 3-198 3-138 2-106 3-86 3-71 2-61 3-53 3-46 2-40 3-35 3-32 2-27 3-24 3-20 2-18 3-15 3-12 2-9 3-7 3-5 2-2 3-1 3 3 2 4 3 7 3 9 2 11 3 14 3 17 2 19 3 21 3 25 2 27 3 32 3 35 2 39 3 44 3 50 2 57 3 66 3 77 2 94 3 117 3 157 3 240 2 401 3-263 3-259 2-149 3-99 3-71 2-52 3-40 3-28 2-21 3-14 3-7 2-3 3 3 3 8 2 12 3 16 3 21 2 26 3 31 3 37 2 43 3 49 3 59 2 70 3 84 3 105 2 139 3 199 3 293 2-59 3-256 3-162 2-110 3-81 3-62 2-49 3-39 3-31 2-26 3-20 3-16 2-13 3-9 3-6 2-3 3 0 3 2 2 5 3 7 3 9 2 11 3 14 3 16 2 18 3 20 3 23 2 26 3 28 3 31 2 34 3 38 3 41 2 45 3 51 3 57 2 64 3 74 3 88 2 109 3 139 3 189 2 13 3 0 3-123 2-144 3-107 3-84 2-68 3-58 3-49 2-42 3-36 3-33 2-29 3-26 3-24 2-21 3-19 3-18 2-16 3-14 3-12 2-11 3-10 3-9 2-8 3-6 3-6 3-5 2-4 3-2 3-1 2 0 3 0 3 1 2 1 3 2 3 2 2 3 3 2 3 4 2 3 3 3 3 4 2 4 3 6 3 7 2 6 3 8 3 7 2 9 3 10 3 10 2 12 3 13 3 17 2 18 3 21 3 24 2 27 3 30 3 34 2 39 3 45 3 50 2 60 3 69 3 80 2 95 3 114 3 144 2 1 3 0 3 0 2 0 3 0 3 0 2 0 3 0 3-19 2-121 3-90 3-64 2-45 3-26 3-19 2-12 3-11 3-12 2-14 3-12 3-13 2-19 3-22 3-20 2-17 3-21 3-22 2-32 3-35 3-42 2-44 3-32 3-19 2-3 3 11 3 29 2 49 3 49 3 38 2 22 3 12 3-25 2-52 3-73 3-68 2-59 3-46 3-31 2-11 3 9 3 20 2 41 3 52 3 73 2 74 3 61 3 38 3-3 2-46 3-86 3-102 2-65 3-51 3-15 2 10 3 37 3 63 2 113 3 146 3 176 2 117 3 9 3 52 2 218 3 0 3 0 2-305 3-134 3-70 2 1 3 90 3 232 2 186 3-314 3-279 2-137 3-75 3-41 2-5 3 28 3 47 2 55 3 57 3 52 2 42 3 37 3 26 2-46 3-103 3-101 2-88 3-39 3-14 2 17 3 63 3 97 2 152 3 250 3 187 2-217 3-149 3-54 2-13 3-25 3-42 2-59 3-50 3-23 2 6 3 45 3 45 2 4 3-67 3-95 2-70 3-37 3-13 2 0 3 10 3 18 2 7 3 6 3 9 2 20 3 31 3 32 2 12 3-16 3-36 2-38 3-26 3-10 2 7 3 17 3 27 2 24 3 17 3 15 2 22 3 40 3 61 2 85 3 44 3-47 2-71 3-53 3-32 3-9 2 27 3 43 3 49 2 38 3 23 3 27 2 48 3 116 3 219 2 24 3-250 3-169 2-99 3-52 3-4 2 40 3 84 3 136 2 264 3 216 3 0 2-149 3-42 3-29 2-125 3-148 3-94 2-70 3-23 3 18 2 56 3 102 3 160 2 117 3-5 3-89 2-72 3-31 3-19 2-21 3-52 3-68 2-49 3-36 3-4 2 21 3 59 3 114 2 147 3 280" stroke="#d8281d" stroke-width="12" stroke-dasharray="30 13 10 13"/>
<path d="M3982 2350l3-130 2-184 3-48 3-24 2-90 3-124 3-98 2-49 3 13 3 64 2 153 3 224 3 293 2 0 3-137 3 48 2 89 3-202 3-221 2-80 3-33 3 14 2 56 3 41 3-14 2-43 3-28 3 20 2 57 3 67 3-17 2-80 3-64 3-23 2 18 3 33 3 13 2-21 3-35 3-7 2 32 3 87 3 96 2 188 3 94 3-17 2-100 3-162 3-163 3-123 2-87 3-51 3-21 2 1 3 11 3 6 2 1 3 3 3 14 2 29 3 38 3 16 2-20 3-30 3-27 2 0 3 36 3 67 2 84 3 95 3 93 2 134 3 225 3 0 2-426 3-200 3-122 2-46 3-3 3 42 2 91 3 123 3 107 2 1 3-85 3-96 2-84 3-80 3-56 2-14 3 14 3 47 2 79 3 105 3 41 2-81 3-86 3-38 2 4 3 44 3 87 2 115 3 135 3 82 2-94 3-187 3-152 2-116 3-71 3-31 2 4 3 30 3 60 2 76 3 72 3 47 2 7 3-37 3-48 2-42 3-27 3-3 2 27 3 73 3 142 2 266 3 304 3-308 2-128 3 9 3 105 2 283 3-68 3-239 2-131 3-17 3 40 2 20 3-101 3-94 2-54 3-2 3 46 2 120 3 224 3 58 2-161 3-85 3 4 3 60 2 145 3 8 3-169 2-114 3-59 3-17 2 5 3-3 3-19 2-27 3-12 3 22 2 47 3 49 3 5 2-39 3-39 3-26 2-22 3-31 3-43 2-36 3-25 3-4 2 10 3 30 3 31 2 17 3 6 3-11 2-27 3-34 3-34 2-34 3-19 3-9 2 3 3 13 3 22 2 28 3 27 3 24 2 20 3 19 3 17 2 27 3 36 3 49 2 64 3 79 3 87 2 108 3 139 3 135 2 0 3 0 3 0 2 0 3-82 3-61 2-44 3-33 3-26 2-21 3-20 3-17 2-17 3-16 3-15 2-15 3-12 3-11 2-10 3-8 3-6 2-4 3-3 3-1 2 0 3 1 3 2 2 4 3 5 3 5 2 6 3 7 3 7 2 7 3 6 3 4 2 3 3 0 3-4 2-6 3-11 3-15 2-17 3-19 3-21 3-20 2-21 3-22 3-22 2-22 3-22 3-22 2-22 3-22 3-21 2-21 3-20 3-19 2-18 3-18 3-17 2-15 3-15 3-13 2-12 3-10 3-8 2-7 3-6 3-5 2-3 3-3 3-2 2-1 3 0 3 0 2 2 3 2 3 4 2 4 3 6 3 7 2 9 3 11 3 13 2 16 3 19 3 23 2 27 3 33 3 39 2 48 3 58 3 72 2 91 3 116 3 144 2 106 3-74 3-149 2-126 3-100 3-78 2-64 3-52 3-43 2-35 3-28 3-23 2-18 3-12 3-8 2-4 3 1 3 6 2 11 3 15 3 21 2 28 3 34 3 42 2 51 3 59 3 67 2 65 3 39 3-15 2-61 3-80 3-78 2-70 3-61 3-52 2-45 3-38 3-33 2-27 3-23 3-18 2-14 3-10 3 0 2 3 3 7 3 10 3 14 2 17 3 20 3 23 2 26 3 29 3 29 2 30 3 27 3 20 2 11 3 0 3-11 2-19 3-24 3-25 2-24 3-21 3-18 2-13 3-9 3-3 2 2 3 8 3 14 2 22 3 29 3 39 2 51 3 66 3 88 2 123 3 188 3 308 2 0 3-262 3-208 2-132 3-93 3-71 2-55 3-43 3-33 2-25 3-18 3-12 2-6 3 0 3 5 2 11 3 17 3 24 2 30 3 40 3 48 2 62 3 77 3 100 2 135 3 191 3 218 2-86 3-207 3-141 2-97 3-68 3-47 2-32 3-19 3-7 2 4 3 16 3 29 2 43 3 59 3 80 2 98 3 89 3-8 2-110 3-123 3-106 2-86 3-71 3-57 2-47 3-37 3-29 2-22 3-15 3-9 2-2 3 5 3 11 2 18 3 25 3 34 2 43 3 53 3 64 3 74 2 80 3 68 3 24 2-34 3-64 3-64 2-56 3-44 3-32 2-22 3-12 3-3 2 7 3 16 3 26 2 36 3 48 3 59 2 71 3 76 3 64 2 18 3-37 3-64 2-63 3-53 3-39 2-26 3-12 3 1 2 16 3 33 3 55 2 86 3 140 3 272 2 110 3-217 3-271 2-164 3-117 3-89 2-70 3-56 3-45 2-35 3-27 3-19 2-11 3-5 3 3 2 9 3 18 3 26 2 36 3 49 3 64 2 87 3 121 3 183 2 288 3-62 3-280 2-177 3-122 3-91 2-71 3-55 3-45 2-35 3-27 3-20 2-13 3-8 3-1 2 5 3 11 3 18 2 25 3 33 3 40 2 49 3 54 3 52 2 36 3-1 3-41 2-64 3-68 3-65 2-57 3-49 3-42 2-35 3-30 3-23 2-19 3-13 3-8 3-4 2 1 3 7 3 11 2 18 3 24 3 33 2 42 3 55 3 71 2 97 3 141 3 243 2 702 3-631 3-308 2-177 3-124 3-97 2-78 3-66 3-57 2-50 3-43 3-39 2-35 3-31 3-28 2-25 3-23 3-21 2-18 3-17 3-15 2-14 3-12 3-10 2-10 3-8 3-7 2-6 3-5 3-4 2-3 3-2 3-1 2-1 3 1 3 1 2 2 3 2 3 3 2 4 3 4 3 5 2 6 3 6 3 7 2 7 3 7 3 8 2 9 3 8 3 10 2 10 3 10 3 11 2 11 3 11 3 13 2 12 3 14 3 13 2 15 3 15 3 16 2 16 3 17 3 17 2 19 3 20 3 21 2 21 3 23 3 22 2 24 3 24 3 25 2 26 3 26 3 27 2 28 3 29 3 30 2 31 3 32 3 33 2 34 3 35 3 37 3 39 2 41 3 42 3 42 2 43 3 42 3 40 2 38 3 33 3 27 2 21 3 15 3 8 2 3 3-2 3-4 2-7 3-8 3-10 2-12 3-12 3-14 2-15 3-15 3-17 2-17 3-18 3-19 2-18 3-18 3-18 2-17 3-17 3-15 2-15 3-13 3-11 2-11 3-8 3-8 2-5 3-4 3-1 2 0 3 2 3 5 2 20 3 24 3 26 2 30 3 34 3 40 2 43 3 43 3 33 2 11 3-13 3-34 2-38 3-36 3-35 2-35 3-37 3-40 2-42 3-43 3-42 2-39 3-36 3-30 2-24 3-18 3-12 2-10 3-10 3-10 2-12 3-14 3-16 2-16 3-16 3-14 2-10 3-5 3-1 2 4 3 4 3 5 2 2 3 0 3-4 2-8 3-8 3-7 2-5 3 0 3 7 2 12 3 17 3 14 3 11 2 5 3 1 3-5 2-9 3-10 3-9 2-5 3 2 3 11 2 24 3 30 3 32 2 24 3 14 3 3 2-2 3-11 3-10 2-3 3 8 3 24 2 42 3 62 3 68 2 65 3 40 3 20 2 11 3 17 3 20 2 23 3 42 3 70 2 142 3 295 3 135 2-363 3-170 3-89 2-28 3 27 3 84 2 131 3 115 3-12 2-86 3-82 3-69 2-54 3-55 3-43 2-23 3 11 3 49 2 80 3 78 3 46 2-6 3-27 3-23 2-12 3-31 3-43 2-60 3-37 3-4 2 36 3 69 3 111 2 106 3 66 3-10 2-106 3-121 3-122 2-87 3-60 3-25 2 3 3 28 3 49 2 57 3 81 3 48 2 7 3-39 3-73 2-61 3-48 3-30 2 5 3 38 3 76 2 114 3 141 3 141 2 21 3-35 3-39 3-30 2-20 3-1 3 30 2 88 3 200 3 217 2-288 3-229 3-121 2-51 3-4 3 38 2 78 3 120 3 152 2 165 3 149 3 52 2-111 3-223 3-173 2-62 3-4 3 60 2 131 3 45 3-150 2-131 3-74 3-14 2 60 3 116 3 171 2 233 3 53 3-149 2-128 3-136 3-133 2-111 3-59 3-8 2 56 3 142 3 296 2 303 3-484 3-170 2-37 3 46" stroke="#d8281d" stroke-width="12" stroke-dasharray="30 13 10 13"/>
<path d="M3982 1936l3-123 2-85 3-57 3-18 2 11 3 45 3 83 2 113 3 145 3 137 2-31 3-64 3-9 2 34 3 102 3 52 2-112 3-112 3-83 2-23 3 25 3 82 2 120 3 142 3-35 2-170 3-75 3-33 2 38 3 125 3 190 2-13 3-293 3-181 2-102 3-62 3-28 2 9 3 45 3 74 2 96 3 134 3 35 2-112 3-110 3-73 2-43 3-20 3-3 3 5 2 9 3 19 3 30 2 39 3 53 3 45 2-11 3-79 3-70 2-75 3-44 3-15 2 20 3 50 3 85 2 140 3 256 3 179 2-160 3-134 3-70 2-14 3 64 3 153 2 172 3 0 3 0 2-141 3-91 3-70 2-82 3-92 3-84 2-70 3-43 3-10 2 28 3 78 3 132 2 157 3-48 3-156 2-133 3-118 3-57 2-30 3-11 3 10 2 34 3 41 3 46 2 38 3 39 3 35 2 20 3-16 3-57 2-59 3-66 3-55 2-28 3-2 3 12 2 36 3 63 3 87 2 168 3 252 3 192 2-217 3-175 3-102 2-42 3-16 3-6 2 21 3 16 3 19 2 3 3 5 3-10 2-35 3-66 3-79 2-63 3-49 3-30 2-15 3 2 3 17 2 30 3 41 3 39 2 33 3 18 3 12 2 17 3 43 3 44 3 57 2 47 3 43 3 17 2-8 3-36 3-70 2-92 3-98 3-80 2-79 3-58 3-43 2-30 3-17 3-5 2-2 3 4 3 4 2 1 3-2 3-6 2-10 3-14 3-16 2-16 3-12 3-9 2-7 3-2 3 1 2 5 3 9 3 12 2 14 3 15 3 16 2 14 3 14 3 13 2 11 3 12 3 13 2 14 3 17 3 21 2 22 3 25 3 25 2 24 3 21 3 17 2 13 3 8 3 5 2-1 3 0 3-3 2-5 3-7 3-7 2-6 3-6 3-4 2-2 3 1 3 2 2 5 3 8 3 9 2 12 3 13 3 14 2 15 3 15 3 14 2 12 3 11 3 9 2 5 3 3 3 0 2-3 3-5 3-7 2-8 3-9 3-8 2-8 3-8 3-9 2-9 3-9 3-9 2-9 3-11 3-11 2-11 3-12 3-12 3-13 2-13 3-12 3-13 2-13 3-13 3-13 2-14 3-13 3-13 2-14 3-13 3-12 2-12 3-12 3-11 2-11 3-10 3-9 2-8 3-8 3-6 2-5 3-3 3-3 2-1 3 0 3 0 2 2 3 4 3 4 2 6 3 8 3 9 2 10 3 13 3 15 2 17 3 20 3 23 2 27 3 31 3 35 2 42 3 49 3 58 2 70 3 84 3 102 2 114 3 78 3-36 2-110 3-110 3-93 2-76 3-63 3-52 2-43 3-37 3-30 2-25 3-21 3-16 2-12 3-8 3-4 2 0 3 4 3 9 2 12 3 17 3 22 2 27 3 32 3 39 2 46 3 54 3 62 2 69 3 68 3 52 2 10 3-37 3-63 2-68 3-62 3-56 2-47 3-40 3-34 2-28 3-24 3-19 2-14 3-11 3-2 2 1 3 4 3 8 3 11 2 15 3 18 3 23 2 27 3 31 3 36 2 40 3 42 3 40 2 34 3 17 3-5 2-27 3-41 3-47 2-46 3-42 3-38 2-32 3-27 3-22 2-16 3-11 3-5 2 0 3 5 3 11 2 16 3 22 3 28 2 32 3 35 3 34 2 26 3 11 3-10 2-29 3-40 3-44 2-43 3-38 3-33 2-26 3-21 3-15 2-8 3-3 3 3 2 10 3 16 3 24 2 30 3 37 3 45 2 51 3 53 3 46 2 27 3-3 3-30 2-42 3-45 3-39 2-32 3-24 3-15 2-6 3 3 3 12 2 22 3 33 3 47 2 61 3 79 3 92 2 78 3-5 3-91 2-109 3-96 3-80 2-66 3-53 3-43 2-34 3-27 3-19 2-13 3-8 3-1 2 5 3 10 3 17 2 24 3 30 3 39 2 48 3 60 3 75 3 94 2 126 3 179 3 311 2 186 3-271 3-216 2-121 3-75 3-46 2-25 3-6 3 11 2 30 3 52 3 82 2 130 3 231 3 224 2-190 3-284 3-167 2-115 3-85 3-65 2-50 3-37 3-27 2-17 3-9 3 0 2 8 3 17 3 26 2 37 3 48 3 63 2 76 3 88 3 78 2 17 3-61 3-91 2-86 3-72 3-57 2-45 3-35 3-25 2-16 3-8 3 0 2 9 3 18 3 27 2 39 3 53 3 72 2 101 3 150 3 263 2 352 3-376 3-264 2-157 3-108 3-81 2-63 3-48 3-38 2-29 3-20 3-13 2-6 3 1 3 8 2 15 3 23 3 33 2 42 3 56 3 72 2 91 3 111 3 104 2 2 3-107 3-122 2-103 3-82 3-67 2-54 3-43 3-35 2-28 3-21 3-16 2-10 3-4 3 0 3 5 2 10 3 16 3 20 2 27 3 34 3 44 2 55 3 68 3 86 2 111 3 145 3 144 2-37 3-163 3-144 2-111 3-88 3-72 2-59 3-49 3-42 2-35 3-30 3-24 2-20 3-15 3-12 2-7 3-4 3 0 2 4 3 9 3 12 2 18 3 22 3 29 2 35 3 44 3 56 2 70 3 93 3 132 2 213 3 541 3-286 2-369 3-193 3-132 2-101 3-81 3-69 2-59 3-52 3-46 2-42 3-37 3-34 2-32 3-28 3-27 2-25 3-23 3-21 2-20 3-18 3-17 2-16 3-15 3-14 2-13 3-12 3-11 2-10 3-10 3-8 2-9 3-7 3-7 2-6 3-6 3-5 2-4 3-2 3-3 2-2 3-2 3-1 2-1 3-1 3 0 2 0 3 0 3 0 2 1 3 1 3 1 2 1 3 2 3 1 3 2 2 2 3 4 3 4 2 4 3 4 3 4 2 5 3 4 3 4 2 5 3 4 3 5 2 4 3 4 3 5 2 5 3 6 3 6 2 6 3 6 3 6 2 7 3 6 3 6 2 7 3 6 3 8 2 8 3 8 3 8 2 8 3 7 3 8 2 7 3 7 3 7 2 7 3 7 3 6 2 6 3 6 3 6 2 6 3 5 3 5 2 4 3 4 3 5 2 4 3 5 3 5 2 5 3 5 3 6 2 6 3 5 3 6 2 6 3 7 3 7 2 8 3 10 3 11 2 11 3 13 3 13 2 14 3 14 3 13 2 13 3 13 3 11 2 12 3 12 3 14 2 15 3 18 3 21 2 22 3 26 3 28 2 32 3 31 3 31 2 30 3 27 3 24 2 19 3 17 3 11 2 12 3 13 3 14 2 23 3 34 3 46 2 56 3 72 3 79 3 91 2 111 3 119 3 102 2 48 3-2 3-41 2-35 3-20 3 16 2 75 3 112 3-28 2-187 3-144 3-120 2-71 3-36 3-17 2 7 3 29 3 58 2 69 3 85 3 96 2 92 3 94 3 108 2 143 3 98 3 0 2-133 3-144 3-88 2-31 3 10 3 25 2 49 3-42 3-105 2-123 3-94 3-54 2-35 3-15 3 6 2 14 3 17 3 6 2-8 3-14 3-9 2 4 3 16 3 35 2 38 3 36 3 20 2-9 3-16 3-22 2-15 3-4 3 9 2 10 3-1 3-12 2-17 3-11 3 1 2 17 3 26 3 60 2 61 3 52 3 14 2-18 3-28 3-16 2 2 3 11 3 9 2-4 3-21 3-22 2-11 3 13 3 39 2 90 3 127 3 161 2 65 3-123 3-128 2-70 3-26 3 33 2 65 3 118 3 210 3 0 2-8 3-143 3-42 2-5 3 67 3 28 2-76 3-121 3-102 2-71 3-49 3-34 2-33 3-38 3-47 2-39 3-38 3-25 2-12 3 4 3 23 2 40 3 49 3 62 2 59 3 42 3 3 2-24 3-30 3-20 2-22 3-31 3-40 2-40 3-26 3-10 2 11 3 36 3 52 2 66 3 39 3 13 2-28 3-31 3-20 2 6 3 34 3 47 2 41 3-19" stroke="#d8281d" stroke-width="12" stroke-dasharray="30 13 10 13"/>
</g>
<path d="M486.7 212.1L487.5 151.5L488.4 151.5L489.1 212.1Z" fill="#141414"/>
<path d="M493.9 212.1L494.6 150.4L495.5 150.4L496.3 212.1Z" fill="#141414"/>
<path d="M500.2 212.1L501 149.2L501.9 149.2L502.6 212.1Z" fill="#141414"/>
<path d="M506.1 212.1L506.8 148.1L507.7 148.1L508.5 212.1Z" fill="#141414"/>
<path d="M511.7 212.1L512.4 146.9L513.3 146.9L514.1 212.1Z" fill="#141414"/>
<path d="M517.1 212.1L517.9 145.8L518.8 145.8L519.6 212.1Z" fill="#141414"/>
<path d="M522.6 212.1L523.4 146.9L524.3 146.9L525 212.1Z" fill="#141414"/>
<path d="M528.2 212.1L529 148.1L529.9 148.1L530.6 212.1Z" fill="#141414"/>
<path d="M534.1 212.1L534.8 149.2L535.7 149.2L536.5 212.1Z" fill="#141414"/>
<path d="M540.4 212.1L541.2 150.4L542.1 150.4L542.8 212.1Z" fill="#141414"/>
<path d="M547.6 212.1L548.3 151.5L549.2 151.5L550 212.1Z" fill="#141414"/>
</g>
<rect x="398.2" y="29.2" width="240.3" height="182.9" fill="none" stroke="#474747" stroke-width="1.2"/>
<line x1="398.2" y1="212.1" x2="398.2" y2="216.1" stroke="#474747" stroke-width="1.1" />
<line x1="398.2" y1="29.2" x2="398.2" y2="25.2" stroke="#474747" stroke-width="1.1" />
<line x1="408.2" y1="212.1" x2="408.2" y2="214.6" stroke="#474747" stroke-width="1.1" />
<line x1="408.2" y1="29.2" x2="408.2" y2="26.7" stroke="#474747" stroke-width="1.1" />
<line x1="418.2" y1="212.1" x2="418.2" y2="216.1" stroke="#474747" stroke-width="1.1" />
<line x1="418.2" y1="29.2" x2="418.2" y2="25.2" stroke="#474747" stroke-width="1.1" />
<line x1="428.2" y1="212.1" x2="428.2" y2="214.6" stroke="#474747" stroke-width="1.1" />
<line x1="428.2" y1="29.2" x2="428.2" y2="26.7" stroke="#474747" stroke-width="1.1" />
<line x1="438.2" y1="212.1" x2="438.2" y2="216.1" stroke="#474747" stroke-width="1.1" />
<line x1="438.2" y1="29.2" x2="438.2" y2="25.2" stroke="#474747" stroke-width="1.1" />
<line x1="448.3" y1="212.1" x2="448.3" y2="214.6" stroke="#474747" stroke-width="1.1" />
<line x1="448.3" y1="29.2" x2="448.3" y2="26.7" stroke="#474747" stroke-width="1.1" />
<line x1="458.3" y1="212.1" x2="458.3" y2="216.1" stroke="#474747" stroke-width="1.1" />
<line x1="458.3" y1="29.2" x2="458.3" y2="25.2" stroke="#474747" stroke-width="1.1" />
<line x1="468.3" y1="212.1" x2="468.3" y2="214.6" stroke="#474747" stroke-width="1.1" />
<line x1="468.3" y1="29.2" x2="468.3" y2="26.7" stroke="#474747" stroke-width="1.1" />
<line x1="478.3" y1="212.1" x2="478.3" y2="216.1" stroke="#474747" stroke-width="1.1" />
<line x1="478.3" y1="29.2" x2="478.3" y2="25.2" stroke="#474747" stroke-width="1.1" />
<line x1="488.3" y1="212.1" x2="488.3" y2="214.6" stroke="#474747" stroke-width="1.1" />
<line x1="488.3" y1="29.2" x2="488.3" y2="26.7" stroke="#474747" stroke-width="1.1" />
<line x1="498.3" y1="212.1" x2="498.3" y2="216.1" stroke="#474747" stroke-width="1.1" />
<line x1="498.3" y1="29.2" x2="498.3" y2="25.2" stroke="#474747" stroke-width="1.1" />
<line x1="508.3" y1="212.1" x2="508.3" y2="214.6" stroke="#474747" stroke-width="1.1" />
<line x1="508.3" y1="29.2" x2="508.3" y2="26.7" stroke="#474747" stroke-width="1.1" />
<line x1="518.4" y1="212.1" x2="518.4" y2="216.1" stroke="#474747" stroke-width="1.1" />
<line x1="518.4" y1="29.2" x2="518.4" y2="25.2" stroke="#474747" stroke-width="1.1" />
<line x1="528.4" y1="212.1" x2="528.4" y2="214.6" stroke="#474747" stroke-width="1.1" />
<line x1="528.4" y1="29.2" x2="528.4" y2="26.7" stroke="#474747" stroke-width="1.1" />
<line x1="538.4" y1="212.1" x2="538.4" y2="216.1" stroke="#474747" stroke-width="1.1" />
<line x1="538.4" y1="29.2" x2="538.4" y2="25.2" stroke="#474747" stroke-width="1.1" />
<line x1="548.4" y1="212.1" x2="548.4" y2="214.6" stroke="#474747" stroke-width="1.1" />
<line x1="548.4" y1="29.2" x2="548.4" y2="26.7" stroke="#474747" stroke-width="1.1" />
<line x1="558.4" y1="212.1" x2="558.4" y2="216.1" stroke="#474747" stroke-width="1.1" />
<line x1="558.4" y1="29.2" x2="558.4" y2="25.2" stroke="#474747" stroke-width="1.1" />
<line x1="568.4" y1="212.1" x2="568.4" y2="214.6" stroke="#474747" stroke-width="1.1" />
<line x1="568.4" y1="29.2" x2="568.4" y2="26.7" stroke="#474747" stroke-width="1.1" />
<line x1="578.4" y1="212.1" x2="578.4" y2="216.1" stroke="#474747" stroke-width="1.1" />
<line x1="578.4" y1="29.2" x2="578.4" y2="25.2" stroke="#474747" stroke-width="1.1" />
<line x1="588.4" y1="212.1" x2="588.4" y2="214.6" stroke="#474747" stroke-width="1.1" />
<line x1="588.4" y1="29.2" x2="588.4" y2="26.7" stroke="#474747" stroke-width="1.1" />
<line x1="598.5" y1="212.1" x2="598.5" y2="216.1" stroke="#474747" stroke-width="1.1" />
<line x1="598.5" y1="29.2" x2="598.5" y2="25.2" stroke="#474747" stroke-width="1.1" />
<line x1="608.5" y1="212.1" x2="608.5" y2="214.6" stroke="#474747" stroke-width="1.1" />
<line x1="608.5" y1="29.2" x2="608.5" y2="26.7" stroke="#474747" stroke-width="1.1" />
<line x1="618.5" y1="212.1" x2="618.5" y2="216.1" stroke="#474747" stroke-width="1.1" />
<line x1="618.5" y1="29.2" x2="618.5" y2="25.2" stroke="#474747" stroke-width="1.1" />
<line x1="628.5" y1="212.1" x2="628.5" y2="214.6" stroke="#474747" stroke-width="1.1" />
<line x1="628.5" y1="29.2" x2="628.5" y2="26.7" stroke="#474747" stroke-width="1.1" />
<line x1="638.5" y1="212.1" x2="638.5" y2="216.1" stroke="#474747" stroke-width="1.1" />
<line x1="638.5" y1="29.2" x2="638.5" y2="25.2" stroke="#474747" stroke-width="1.1" />
<line x1="398.2" y1="29.2" x2="394.2" y2="29.2" stroke="#474747" stroke-width="1.1" />
<line x1="398.2" y1="52.1" x2="395.7" y2="52.1" stroke="#474747" stroke-width="1.1" />
<line x1="398.2" y1="74.9" x2="394.2" y2="74.9" stroke="#474747" stroke-width="1.1" />
<line x1="398.2" y1="97.8" x2="395.7" y2="97.8" stroke="#474747" stroke-width="1.1" />
<line x1="398.2" y1="120.7" x2="394.2" y2="120.7" stroke="#474747" stroke-width="1.1" />
<line x1="398.2" y1="143.5" x2="395.7" y2="143.5" stroke="#474747" stroke-width="1.1" />
<line x1="398.2" y1="166.4" x2="394.2" y2="166.4" stroke="#474747" stroke-width="1.1" />
<line x1="398.2" y1="189.2" x2="395.7" y2="189.2" stroke="#474747" stroke-width="1.1" />
<line x1="398.2" y1="212.1" x2="394.2" y2="212.1" stroke="#474747" stroke-width="1.1" />
<text transform="translate(398.2 227.4) scale(0.86 1)" font-size="12" text-anchor="middle" fill="#1a1a1a" stroke="#1a1a1a" stroke-width="0.22">-180</text>
<text transform="translate(418.2 227.4) scale(0.86 1)" font-size="12" text-anchor="middle" fill="#1a1a1a" stroke="#1a1a1a" stroke-width="0.22">-150</text>
<text transform="translate(438.2 227.4) scale(0.86 1)" font-size="12" text-anchor="middle" fill="#1a1a1a" stroke="#1a1a1a" stroke-width="0.22">-120</text>
<text transform="translate(458.3 227.4) scale(0.86 1)" font-size="12" text-anchor="middle" fill="#1a1a1a" stroke="#1a1a1a" stroke-width="0.22">-90</text>
<text transform="translate(478.3 227.4) scale(0.86 1)" font-size="12" text-anchor="middle" fill="#1a1a1a" stroke="#1a1a1a" stroke-width="0.22">-60</text>
<text transform="translate(498.3 227.4) scale(0.86 1)" font-size="12" text-anchor="middle" fill="#1a1a1a" stroke="#1a1a1a" stroke-width="0.22">-30</text>
<text transform="translate(518.4 227.4) scale(0.86 1)" font-size="12" text-anchor="middle" fill="#1a1a1a" stroke="#1a1a1a" stroke-width="0.22">0</text>
<text transform="translate(538.4 227.4) scale(0.86 1)" font-size="12" text-anchor="middle" fill="#1a1a1a" stroke="#1a1a1a" stroke-width="0.22">30</text>
<text transform="translate(558.4 227.4) scale(0.86 1)" font-size="12" text-anchor="middle" fill="#1a1a1a" stroke="#1a1a1a" stroke-width="0.22">60</text>
<text transform="translate(578.4 227.4) scale(0.86 1)" font-size="12" text-anchor="middle" fill="#1a1a1a" stroke="#1a1a1a" stroke-width="0.22">90</text>
<text transform="translate(598.5 227.4) scale(0.86 1)" font-size="12" text-anchor="middle" fill="#1a1a1a" stroke="#1a1a1a" stroke-width="0.22">120</text>
<text transform="translate(618.5 227.4) scale(0.86 1)" font-size="12" text-anchor="middle" fill="#1a1a1a" stroke="#1a1a1a" stroke-width="0.22">150</text>
<text transform="translate(638.5 227.4) scale(0.86 1)" font-size="12" text-anchor="middle" fill="#1a1a1a" stroke="#1a1a1a" stroke-width="0.22">180</text>
<text transform="translate(392.4 33.2) scale(0.86 1)" font-size="12" text-anchor="end" fill="#1a1a1a" stroke="#1a1a1a" stroke-width="0.22">0</text>
<text transform="translate(392.4 78.9) scale(0.86 1)" font-size="12" text-anchor="end" fill="#1a1a1a" stroke="#1a1a1a" stroke-width="0.22">-10</text>
<text transform="translate(392.4 124.7) scale(0.86 1)" font-size="12" text-anchor="end" fill="#1a1a1a" stroke="#1a1a1a" stroke-width="0.22">-20</text>
<text transform="translate(392.4 170.4) scale(0.86 1)" font-size="12" text-anchor="end" fill="#1a1a1a" stroke="#1a1a1a" stroke-width="0.22">-30</text>
<text transform="translate(392.4 216.1) scale(0.86 1)" font-size="12" text-anchor="end" fill="#1a1a1a" stroke="#1a1a1a" stroke-width="0.22">-40</text>
<text transform="translate(481.1 27.2) scale(0.92 1)" font-size="10" text-anchor="middle" fill="#1a1a1a" stroke="#1a1a1a" stroke-width="0.22">-60°</text>
<text transform="translate(499.8 27.2) scale(0.92 1)" font-size="10" text-anchor="middle" fill="#1a1a1a" stroke="#1a1a1a" stroke-width="0.22">-30°</text>
<text transform="translate(519.6 27.2) scale(0.92 1)" font-size="10" text-anchor="middle" fill="#1a1a1a" stroke="#1a1a1a" stroke-width="0.22">0°</text>
<text transform="translate(541.3 27.2) scale(0.92 1)" font-size="10" text-anchor="middle" fill="#1a1a1a" stroke="#1a1a1a" stroke-width="0.22">30°</text>
<text transform="translate(560.5 27.2) scale(0.92 1)" font-size="10" text-anchor="middle" fill="#1a1a1a" stroke="#1a1a1a" stroke-width="0.22">60°</text>
<text transform="translate(407.2 67.9) scale(0.95 1)" font-size="22" text-anchor="start" fill="#1a1a1a" stroke="#1a1a1a" stroke-width="0.22">(b)</text>
<line x1="583.5" y1="39.5" x2="609" y2="39.5" stroke="#111" stroke-width="1.3" />
<text transform="translate(611.5 43.1) scale(0.89 1)" font-size="11" text-anchor="start" fill="#1a1a1a" stroke="#1a1a1a" stroke-width="0.22">Sim.</text>
<line x1="583.5" y1="53.4" x2="609" y2="53.4" stroke="#d8281d" stroke-width="1.3" stroke-dasharray="3.2 1.4 0.8 1.4"/>
<text transform="translate(611.5 56.8) scale(0.9 1)" font-size="11" text-anchor="start" fill="#1a1a1a" stroke="#1a1a1a" stroke-width="0.22">Meas.</text>
<text transform="translate(516.1 248.3) scale(0.935 1)" font-size="15.6" text-anchor="middle" fill="#1a1a1a" stroke="#1a1a1a" stroke-width="0.22">Scanning angle (deg)</text>
<text transform="translate(364.7 115.6) rotate(-90)" font-size="14.85" text-anchor="middle" fill="#1a1a1a" stroke="#1a1a1a" stroke-width="0.22">Normalized far-field pattern (dB)</text>
<text transform="translate(387.6 10) scale(0.905 1)" font-size="11.4" text-anchor="start" fill="#1a1a1a" stroke="#1a1a1a" stroke-width="0.22">Minimum scanning angle</text>
<text transform="translate(566.5 10) scale(0.905 1)" font-size="11.4" text-anchor="start" fill="#1a1a1a" stroke="#1a1a1a" stroke-width="0.22">Maximum scanning angle</text>
<line x1="442.2" y1="10.2" x2="460.8" y2="29.6" stroke="#222" stroke-width="0.7" />
<path d="M462.5 31.3L458.8 29.3L460.7 27.5Z" fill="#222"/>
<line x1="594.7" y1="10.2" x2="575.8" y2="26.2" stroke="#222" stroke-width="0.7" />
<path d="M574 27.8L576.2 24.2L577.9 26.2Z" fill="#222"/>
</g>
<clipPath id="cc"><rect x="215.8" y="288.8" width="252.4" height="187"/></clipPath>
<g clip-path="url(#cc)" fill="none" stroke-linejoin="round">
<path transform="scale(0.1)" d="M1855 4972l5 0 5 0 5 0 5 0 5 0 5 0 5 0 6 0 5 0 5 0 5 0 5 0 5 0 5 0 5 0 5 0 5 0 5 0 5 0 5 0 5 0 5 0 5 0 5 0 5 0 5 0 5 0 5 0 6 0 5 0 5 0 5 0 5 0 5 0 5 0 5 0 5 0 5 0 5 0 5 0 5 0 5 0 5 0 5 0 5 0 5 0 5 0 5 0 5 0 6 0 5 0 5 0 5 0 5 0 5 0 5 0 5 0 5 0 5 0 5 0 5 0 5 0 5-19 5-28 5-27 5-28 5-27 5-27 5-27 5-26 6-26 5-25 5-25 5-24 5-23 5-22 5-22 5-20 5-20 5-19 5-19 5-17 5-17 5-17 5-16 5-15 5-15 5-14 5-14 5-14 5-13 6-13 5-13 5-13 5-12 5-12 5-13 5-12 5-12 5-12 5-11 5-12 5-12 5-12 5-11 5-12 5-12 5-11 5-12 5-11 5-12 5-11 6-12 5-11 5-11 5-11 5-11 5-11 5-11 5-11 5-10 5-10 5-11 5-10 5-9 5-10 5-10 5-9 5-9 5-9 5-9 5-8 6-9 5-8 5-8 5-8 5-8 5-8 5-7 5-7 5-8 5-7 5-7 5-6 5-7 5-7 5-6 5-6 5-6 5-6 5-6 5-6 5-6 6-6 5-5 5-6 5-5 5-5 5-6 5-5 5-5 5-5 5-5 5-5 5-5 5-4 5-5 5-5 5-4 5-5 5-5 5-4 5-4 5-5 6-4 5-4 5-5 5-4 5-4 5-4 5-4 5-4 5-4 5-4 5-4 5-4 5-3 5-4 5-4 5-4 5-3 5-4 5-3 5-4 5-3 6-3 5-4 5-3 5-3 5-3 5-3 5-3 5-3 5-3 5-3 5-3 5-2 5-3 5-3 5-2 5-3 5-3 5-2 5-3 5-2 5-3 6-2 5-2 5-3 5-2 5-2 5-3 5-2 5-2 5-2 5-2 5-2 5-2 5-2 5-2 5-1 5-2 5-2 5-1 5-1 5-2 5-1 6-1 5-1 5-2 5 0 5-1 5-1 5-1 5-1 5 0 5-1 5-1 5 0 5-1 5 0 5-1 5 0 5-1 5 0 5 0 5-1 6 0 5 0 5-1 5 0 5 0 5 0 5-1 5 0 5 0 5 0 5-1 5 0 5 0 5 0 5-1 5 0 5 0 5 0 5 0 5-1 5 0 6 0 5 0 5 0 5 0 5 0 5 0 5-1 5 0 5 0 5 0 5 0 5 0 5 0 5 0 5 0 5 0 5 0 5 0 5 0 5 1 5 0 6 0 5 0 5 0 5 0 5 1 5 0 5 0 5 1 5 0 5 0 5 1 5 0 5 0 5 1 5 0 5 1 5 0 5 1 5 0 5 1 5 0 6 1 5 0 5 1 5 1 5 0 5 1 5 0 5 1 5 1 5 0 5 1 5 0 5 1 5 1 5 0 5 1 5 1 5 0 5 1 5 1 5 0 6 1 5 1 5 0 5 1 5 1 5 1 5 0 5 1 5 1 5 1 5 0 5 1 5 1 5 1 5 1 5 1 5 0 5 1 5 1 5 1 5 1 6 1 5 1 5 1 5 1 5 1 5 1 5 1 5 1 5 1 5 1 5 1 5 1 5 1 5 1 5 1 5 1 5 1 5 1 5 1 5 2 6 1 5 1 5 1 5 1 5 1 5 1 5 2 5 1 5 1 5 1 5 2 5 1 5 1 5 1 5 2 5 1 5 1 5 2 5 1 5 1 5 2 6 1 5 2 5 1 5 1 5 2 5 1 5 2 5 1 5 2 5 1 5 2 5 1 5 1 5 2 5 1 5 2 5 1 5 2 5 1 5 2 5 1 6 1 5 2 5 1 5 2 5 1 5 1 5 2 5 1 5 2 5 1 5 1 5 2 5 1 5 1 5 2 5 1 5 1 5 1 5 2 5 1 5 1 6 2 5 1 5 1 5 1 5 2 5 1 5 1 5 1 5 2 5 1 5 1 5 1 5 2 5 1 5 1 5 1 5 2 5 1 5 1 5 1 5 2 6 1 5 1 5 2 5 1 5 1 5 2 5 1 5 1 5 2 5 1 5 1 5 2 5 1 5 1 5 2 5 1 5 2 5 1 5 1 5 2 5 1 6 2 5 1 5 2 5 1 5 2 5 1 5 2 5 1 5 2 5 1 5 2 5 1 5 2 5 1 5 2 5 1 5 2 5 1 5 2 5 1 6 2 5 1 5 2 5 1 5 2 5 2 5 1 5 2 5 1 5 2 5 1 5 2 5 1 5 2 5 1 5 2 5 1 5 1 5 2 5 1 5 2 6 1 5 2 5 1 5 2 5 1 5 1 5 2 5 1 5 2 5 1 5 1 5 2 5 1 5 2 5 1 5 1 5 2 5 1 5 1 5 2 5 1 6 1 5 1 5 2 5 1 5 1 5 1 5 1 5 1 5 0 5 1 5 1" stroke="#0a0a0a" stroke-width="26" stroke-dasharray="30 86"/>
<path transform="scale(0.1)" d="M1855 4972l5 0 5 0 5 0 5 0 5 0 5 0 5 0 6 0 5 0 5 0 5 0 5 0 5 0 5 0 5 0 5 0 5 0 5 0 5 0 5 0 5 0 5 0 5 0 5 0 5 0 5 0 5 0 5 0 6 0 5 0 5 0 5 0 5 0 5 0 5 0 5 0 5 0 5 0 5 0 5 0 5 0 5 0 5 0 5 0 5 0 5-10 5-33 5-33 5-34 6-34 5-34 5-35 5-34 5-34 5-33 5-33 5-32 5-31 5-30 5-29 5-27 5-26 5-24 5-23 5-22 5-20 5-19 5-17 5-17 5-15 6-14 5-13 5-13 5-12 5-11 5-11 5-10 5-10 5-10 5-9 5-9 5-9 5-9 5-9 5-9 5-9 5-8 5-9 5-8 5-9 5-9 6-8 5-9 5-9 5-8 5-9 5-9 5-8 5-9 5-9 5-8 5-9 5-9 5-8 5-9 5-8 5-9 5-8 5-9 5-8 5-8 5-8 6-8 5-8 5-8 5-8 5-8 5-8 5-7 5-7 5-8 5-7 5-7 5-6 5-7 5-7 5-6 5-6 5-6 5-6 5-6 5-6 6-5 5-6 5-5 5-5 5-5 5-5 5-5 5-5 5-5 5-4 5-5 5-4 5-5 5-4 5-4 5-4 5-4 5-4 5-4 5-4 5-4 6-4 5-4 5-3 5-4 5-4 5-3 5-4 5-3 5-3 5-4 5-3 5-3 5-4 5-3 5-3 5-3 5-3 5-3 5-3 5-3 5-3 6-3 5-2 5-3 5-3 5-2 5-3 5-2 5-3 5-2 5-2 5-2 5-3 5-2 5-2 5-2 5-2 5-2 5-2 5-2 5-2 5-2 6-1 5-2 5-2 5-2 5-1 5-2 5-2 5-1 5-2 5-2 5-1 5-2 5-1 5-2 5-1 5-1 5-2 5-1 5-1 5-2 5-1 6-1 5-1 5-1 5-1 5-2 5-1 5-1 5-1 5-1 5 0 5-1 5-1 5-1 5-1 5-1 5 0 5-1 5-1 5 0 5-1 5 0 6-1 5 0 5-1 5 0 5-1 5 0 5 0 5-1 5 0 5 0 5 0 5-1 5 0 5 0 5 0 5-1 5 0 5 0 5 0 5 0 6 0 5-1 5 0 5 0 5 0 5 0 5 0 5 0 5 0 5 0 5-1 5 0 5 0 5 0 5 0 5 0 5 0 5 0 5 0 5 0 5 0 6 0 5 1 5 0 5 0 5 0 5 0 5 0 5 1 5 0 5 0 5 0 5 1 5 0 5 0 5 1 5 0 5 1 5 0 5 0 5 1 5 0 6 1 5 0 5 1 5 0 5 1 5 1 5 0 5 1 5 0 5 1 5 0 5 1 5 1 5 0 5 1 5 1 5 0 5 1 5 1 5 0 5 1 6 1 5 1 5 0 5 1 5 1 5 1 5 1 5 0 5 1 5 1 5 1 5 1 5 1 5 1 5 1 5 1 5 1 5 1 5 1 5 1 5 1 6 1 5 2 5 1 5 1 5 1 5 1 5 1 5 2 5 1 5 1 5 1 5 2 5 1 5 1 5 1 5 2 5 1 5 1 5 2 5 1 5 2 6 1 5 2 5 1 5 2 5 1 5 2 5 1 5 2 5 1 5 2 5 2 5 1 5 2 5 1 5 2 5 2 5 1 5 2 5 1 5 2 6 2 5 1 5 2 5 1 5 2 5 1 5 2 5 1 5 2 5 2 5 1 5 2 5 1 5 1 5 2 5 1 5 2 5 1 5 2 5 1 5 1 6 2 5 1 5 2 5 1 5 1 5 2 5 1 5 2 5 1 5 1 5 2 5 1 5 2 5 1 5 1 5 2 5 1 5 2 5 1 5 2 5 1 6 1 5 2 5 1 5 2 5 1 5 2 5 1 5 2 5 1 5 2 5 1 5 2 5 1 5 2 5 2 5 1 5 2 5 1 5 2 5 1 5 2 6 2 5 1 5 2 5 1 5 2 5 2 5 1 5 2 5 1 5 2 5 1 5 2 5 1 5 2 5 1 5 2 5 1 5 2 5 1 5 1 5 2 6 1 5 2 5 1 5 1 5 1 5 2 5 1 5 1 5 1 5 2 5 1 5 1 5 1 5 1 5 2 5 1 5 1 5 1 5 1 5 1 5 1 6 1 5 1 5 2 5 1 5 1 5 1 5 1 5 1 5 1 5 1 5 1 5 1 5 1 5 2 5 1 5 1 5 1 5 1 5 1 5 1 6 1 5 1 5 1 5 1 5 2 5 1 5 1 5 1 5 1 5 1 5 1 5 1 5 1 5 1 5 2 5 1 5 1 5 1 5 1 5 1 5 1 6 1 5 1 5 1 5 1 5 2 5 1 5 1 5 1 5 1 5 1 5 1 5 1 5 1 5 1 5 1 5 1 5 1 5 2 5 1 5 1 5 1 6 1 5 0 5 1 5 1 5 1 5 1 5 1 5 0 5 1 5 1 5 0" stroke="#0a0a0a" stroke-width="25"/>
<path transform="scale(0.1)" d="M1855 4972l5 0 5 0 5 0 5 0 5 0 5 0 5 0 6 0 5 0 5 0 5 0 5 0 5 0 5 0 5 0 5 0 5 0 5 0 5 0 5 0 5 0 5 0 5 0 5 0 5 0 5 0 5 0 5 0 6 0 5 0 5-16 5-15 5-15 5-15 5-15 5-15 5-14 5-14 5-14 5-14 5-14 5-13 5-13 5-12 5-13 5-11 5-12 5-11 5-11 6-10 5-10 5-10 5-9 5-9 5-8 5-8 5-8 5-7 5-8 5-7 5-7 5-6 5-7 5-7 5-7 5-6 5-7 5-7 5-7 5-7 6-8 5-7 5-8 5-8 5-9 5-9 5-9 5-10 5-10 5-11 5-12 5-14 5-15 5-16 5-16 5-16 5-15 5-13 5-13 5-13 5-12 6-13 5-11 5-12 5-11 5-10 5-9 5-9 5-8 5-7 5-8 5-8 5-7 5-7 5-6 5-7 5-5 5-6 5-5 5-4 5-4 5-3 6-3 5-3 5-3 5-2 5-3 5-2 5-2 5-1 5-1 5-1 5 0 5 0 5 1 5 1 5 2 5 2 5 2 5 3 5 3 5 3 6 4 5 5 5 7 5 9 5 10 5 11 5 13 5 12 5 12 5 12 5 11 5 12 5 12 5 12 5 12 5 13 5 13 5 14 5 14 5 15 5 15 6 14 5 14 5 15 5 16 5 16 5 18 5 20 5 22 5 25 5 28 5 46 5 70 5 80 5 74 5 56 5 21 5-17 5-46 5-65 5-76 5-77 6-68 5-51 5-39 5-35 5-34 5-31 5-29 5-28 5-27 5-25 5-25 5-24 5-24 5-23 5-23 5-21 5-21 5-20 5-19 5-19 5-18 6-18 5-17 5-17 5-17 5-16 5-16 5-15 5-15 5-14 5-14 5-12 5-12 5-12 5-10 5-11 5-10 5-10 5-10 5-10 5-9 5-9 6-8 5-9 5-8 5-8 5-8 5-7 5-7 5-8 5-7 5-6 5-7 5-7 5-6 5-6 5-6 5-6 5-6 5-6 5-6 5-5 5-5 6-6 5-5 5-5 5-5 5-5 5-4 5-5 5-5 5-4 5-5 5-4 5-5 5-4 5-5 5-4 5-5 5-4 5-4 5-5 5-4 6-4 5-4 5-5 5-4 5-4 5-4 5-4 5-3 5-4 5-4 5-4 5-3 5-4 5-3 5-4 5-3 5-3 5-3 5-3 5-3 5-3 6-3 5-2 5-3 5-2 5-3 5-2 5-2 5-2 5-3 5-2 5-2 5-2 5-2 5-2 5-2 5-2 5-2 5-2 5-2 5-2 5-2 6-1 5-2 5-2 5-1 5-2 5-2 5-1 5-2 5-1 5-2 5-1 5-1 5-1 5-2 5-1 5-1 5-1 5 0 5-1 5-1 5-1 6 0 5-1 5 0 5-1 5 0 5-1 5 0 5-1 5 0 5 0 5-1 5 0 5-1 5 0 5 0 5-1 5 0 5 0 5-1 5 0 5 0 6-1 5 0 5 0 5-1 5 0 5 0 5 0 5 0 5-1 5 0 5 0 5 0 5 0 5 0 5 0 5 0 5 0 5 0 5 0 5 0 5 0 6 0 5 0 5 0 5 1 5 0 5 1 5 0 5 1 5 0 5 1 5 1 5 0 5 1 5 1 5 1 5 0 5 1 5 1 5 1 5 1 6 0 5 1 5 1 5 1 5 1 5 0 5 1 5 1 5 1 5 1 5 1 5 1 5 1 5 1 5 1 5 1 5 1 5 1 5 1 5 1 5 1 6 1 5 2 5 1 5 1 5 1 5 1 5 2 5 1 5 1 5 1 5 2 5 1 5 1 5 2 5 1 5 1 5 1 5 2 5 1 5 1 5 2 6 1 5 1 5 1 5 2 5 1 5 1 5 2 5 1 5 1 5 1 5 1 5 2 5 1 5 1 5 1 5 1 5 1 5 2 5 1 5 1 5 1 6 1 5 1 5 1 5 1 5 2 5 1 5 1 5 1 5 1 5 1 5 2 5 1 5 1 5 1 5 1 5 2 5 1 5 1 5 1 5 2 5 1 6 1 5 2 5 1 5 2 5 1 5 2 5 1 5 2 5 1 5 2 5 1 5 2 5 2 5 1 5 2 5 2 5 2 5 2 5 2 5 2 5 2 6 3 5 2 5 2 5 3 5 2 5 3 5 2 5 3 5 2 5 3 5 2 5 3 5 3 5 2 5 3 5 3 5 3 5 3 5 2 5 3 6 3 5 3 5 3 5 2 5 3 5 3 5 3 5 3 5 3 5 2 5 3 5 3 5 3 5 3 5 2 5 3 5 3 5 2 5 3 5 3 5 3 6 3 5 3 5 3 5 3 5 3 5 3 5 3 5 3 5 2 5 3 5 3 5 3 5 2 5 3 5 2 5 3 5 2 5 2 5 3 5 2 5 2 6 2 5 2 5 2 5 2 5 2 5 2 5 2 5 2 5 1 5 2 5 2" stroke="#e02a1e" stroke-width="26" stroke-dasharray="30 86"/>
<path transform="scale(0.1)" d="M1855 4972l5 0 5 0 5 0 5 0 5 0 5 0 5 0 6 0 5 0 5 0 5-21 5-20 5-20 5-20 5-19 5-19 5-19 5-19 5-18 5-18 5-18 5-18 5-17 5-17 5-17 5-16 5-16 5-16 6-15 5-15 5-15 5-14 5-14 5-13 5-14 5-13 5-12 5-12 5-12 5-11 5-12 5-10 5-11 5-11 5-10 5-10 5-10 5-10 5-10 6-10 5-10 5-10 5-10 5-10 5-10 5-10 5-11 5-11 5-11 5-12 5-11 5-12 5-11 5-12 5-11 5-10 5-10 5-10 5-8 5-8 6-7 5-5 5-5 5-5 5-5 5-5 5-5 5-5 5-4 5-4 5-5 5-4 5-4 5-3 5-4 5-3 5-3 5-2 5-2 5-2 5-2 6-1 5-1 5-1 5 0 5 0 5 0 5 1 5 0 5 1 5 1 5 1 5 1 5 2 5 1 5 2 5 2 5 2 5 2 5 2 5 2 5 2 6 2 5 3 5 2 5 3 5 4 5 5 5 5 5 5 5 6 5 6 5 7 5 6 5 8 5 7 5 8 5 8 5 8 5 8 5 8 5 10 6 10 5 10 5 12 5 12 5 12 5 13 5 14 5 14 5 14 5 15 5 15 5 15 5 16 5 18 5 19 5 21 5 24 5 27 5 31 5 38 5 48 6 101 5 129 5 64 5-59 5-124 5-111 5-76 5-68 5-48 5-32 5-28 5-24 5-22 5-19 5-17 5-16 5-16 5-15 5-16 5-17 5-18 6-20 5-20 5-20 5-20 5-20 5-19 5-20 5-19 5-19 5-18 5-18 5-17 5-16 5-16 5-15 5-16 5-15 5-14 5-15 5-14 5-13 6-14 5-13 5-12 5-12 5-12 5-11 5-11 5-10 5-10 5-10 5-9 5-10 5-8 5-9 5-8 5-8 5-8 5-8 5-7 5-7 5-7 6-7 5-7 5-7 5-6 5-7 5-6 5-6 5-6 5-5 5-6 5-6 5-5 5-5 5-5 5-5 5-5 5-5 5-5 5-5 5-5 5-5 6-4 5-5 5-4 5-5 5-4 5-4 5-5 5-4 5-3 5-4 5-4 5-3 5-4 5-3 5-3 5-2 5-3 5-3 5-2 5-3 6-2 5-3 5-2 5-3 5-2 5-2 5-3 5-2 5-2 5-2 5-2 5-2 5-2 5-2 5-2 5-2 5-1 5-2 5-1 5-2 5-1 6-1 5-1 5-2 5 0 5-1 5-1 5-1 5-1 5 0 5-1 5-1 5 0 5-1 5 0 5-1 5-1 5 0 5-1 5 0 5-1 5-1 6 0 5-1 5 0 5 0 5-1 5 0 5-1 5 0 5-1 5 0 5 0 5 0 5-1 5 0 5 0 5 0 5-1 5 0 5 0 5 0 5 0 6 0 5 0 5 0 5 0 5 0 5 0 5 0 5 0 5 1 5 0 5 0 5 0 5 1 5 0 5 0 5 1 5 0 5 0 5 1 5 0 5 1 6 0 5 1 5 0 5 1 5 0 5 1 5 0 5 1 5 1 5 0 5 1 5 0 5 1 5 1 5 0 5 1 5 1 5 0 5 1 5 1 5 0 6 1 5 1 5 1 5 1 5 1 5 2 5 1 5 1 5 2 5 1 5 1 5 2 5 1 5 2 5 1 5 2 5 1 5 2 5 1 5 2 6 1 5 2 5 1 5 1 5 2 5 1 5 2 5 1 5 1 5 2 5 1 5 2 5 1 5 2 5 1 5 2 5 1 5 2 5 1 5 2 5 1 6 2 5 1 5 2 5 1 5 2 5 1 5 2 5 1 5 2 5 1 5 2 5 1 5 2 5 1 5 2 5 1 5 2 5 1 5 2 5 1 5 2 6 1 5 2 5 2 5 1 5 2 5 1 5 2 5 1 5 2 5 1 5 2 5 2 5 1 5 2 5 1 5 2 5 1 5 2 5 1 5 2 5 2 6 1 5 2 5 1 5 2 5 1 5 2 5 1 5 2 5 2 5 1 5 2 5 1 5 2 5 1 5 2 5 1 5 2 5 1 5 2 5 1 5 2 6 1 5 2 5 1 5 2 5 1 5 2 5 1 5 2 5 1 5 2 5 2 5 1 5 2 5 1 5 2 5 1 5 2 5 1 5 2 5 2 5 1 6 2 5 2 5 1 5 2 5 2 5 1 5 2 5 2 5 1 5 2 5 2 5 1 5 2 5 2 5 2 5 1 5 2 5 2 5 1 5 2 6 2 5 2 5 2 5 1 5 2 5 2 5 2 5 2 5 1 5 2 5 2 5 2 5 2 5 2 5 1 5 2 5 2 5 2 5 2 5 2 5 2 6 2 5 2 5 2 5 1 5 2 5 2 5 2 5 2 5 2 5 2 5 2 5 2 5 2 5 3 5 2 5 2 5 2 5 2 5 2 5 2 5 2 6 2 5 2 5 2 5 3 5 2 5 2 5 2 5 2 5 2 5 3 5 2" stroke="#e02a1e" stroke-width="25"/>
<path transform="scale(0.1)" d="M1855 4113l5 0 5 1 5 1 5 2 5 1 5 2 5 2 6 2 5 2 5 3 5 2 5 3 5 3 5 4 5 3 5 4 5 4 5 4 5 4 5 4 5 4 5 5 5 5 5 5 5 5 5 5 5 5 5 6 6 6 5 5 5 6 5 6 5 7 5 6 5 6 5 7 5 7 5 6 5 7 5 7 5 8 5 7 5 7 5 8 5 7 5 8 5 7 5 8 5 8 6 8 5 8 5 8 5 8 5 9 5 8 5 8 5 9 5 8 5 9 5 9 5 8 5 9 5 9 5 9 5 9 5 9 5 9 5 9 5 10 5 9 6 10 5 10 5 10 5 11 5 10 5 11 5 10 5 11 5 11 5 13 5 14 5 16 5 19 5 23 5 27 5 30 5 35 5 58 5 69 5 33 5-44 6-92 5-78 5-45 5-37 5-30 5-26 5-24 5-24 5-22 5-21 5-20 5-19 5-18 5-17 5-16 5-16 5-14 5-14 5-13 5-13 5-11 6-12 5-12 5-12 5-12 5-11 5-12 5-10 5-11 5-9 5-9 5-7 5-7 5-5 5-4 5-3 5-1 5 1 5 1 5 2 5 2 6 3 5 4 5 4 5 5 5 4 5 6 5 5 5 6 5 5 5 7 5 8 5 9 5 11 5 11 5 13 5 14 5 15 5 17 5 18 5 20 5 23 6 26 5 28 5 32 5 35 5 37 5 41 5 44 5 72 5 98 5 87 5 37 5-31 5-78 5-99 5-97 5-69 5-45 5-40 5-36 5-32 5-31 6-28 5-27 5-27 5-28 5-27 5-27 5-25 5-24 5-24 5-22 5-22 5-21 5-21 5-21 5-19 5-18 5-15 5-13 5-11 5-11 5-10 6-10 5-10 5-9 5-9 5-8 5-6 5-6 5-5 5-4 5-2 5-1 5 1 5 1 5 1 5 2 5 2 5 2 5 3 5 3 5 3 5 3 6 3 5 3 5 3 5 4 5 3 5 4 5 4 5 4 5 5 5 5 5 5 5 5 5 6 5 6 5 7 5 7 5 7 5 8 5 10 5 10 5 12 6 13 5 14 5 14 5 16 5 17 5 17 5 19 5 19 5 20 5 20 5 21 5 22 5 23 5 26 5 28 5 31 5 35 5 38 5 42 5 69 6 93 5 81 5 35 5-51 5-120 5-134 5-95 5-56 5-49 5-43 5-39 5-35 5-33 5-31 5-31 5-31 5-31 5-30 5-29 5-28 5-27 6-25 5-25 5-23 5-22 5-21 5-21 5-20 5-19 5-18 5-18 5-17 5-15 5-14 5-13 5-13 5-11 5-12 5-10 5-11 5-10 5-9 6-10 5-8 5-9 5-8 5-7 5-8 5-7 5-6 5-7 5-6 5-6 5-6 5-6 5-5 5-5 5-5 5-5 5-5 5-4 5-4 5-4 6-4 5-3 5-3 5-3 5-3 5-2 5-2 5-2 5-3 5-2 5-2 5-2 5-2 5-2 5-2 5-2 5-3 5-3 5-3 5-3 5-4 6-4 5-5 5-4 5-5 5-5 5-5 5-5 5-5 5-5 5-5 5-4 5-4 5-4 5-4 5-3 5-3 5-2 5-2 5-1 5 0 5 0 6 0 5 0 5 1 5 0 5 0 5 1 5 0 5 1 5 0 5 1 5 0 5 1 5 1 5 0 5 1 5 0 5 1 5 1 5 0 5 1 6 1 5 0 5 1 5 0 5 1 5 1 5 0 5 1 5 1 5 0 5 1 5 1 5 1 5 0 5 1 5 1 5 1 5 0 5 1 5 1 5 1 6 1 5 0 5 1 5 1 5 1 5 1 5 1 5 1 5 1 5 1 5 1 5 1 5 1 5 1 5 1 5 1 5 1 5 1 5 1 5 1 5 1 6 1 5 1 5 2 5 1 5 1 5 2 5 1 5 1 5 2 5 1 5 2 5 1 5 2 5 1 5 2 5 2 5 1 5 2 5 2 5 1 5 2 6 2 5 1 5 2 5 2 5 1 5 2 5 2 5 2 5 1 5 2 5 2 5 1 5 2 5 2 5 1 5 2 5 2 5 2 5 1 5 2 5 2 6 1 5 2 5 2 5 2 5 1 5 2 5 2 5 2 5 1 5 2 5 2 5 2 5 2 5 2 5 1 5 2 5 2 5 2 5 2 5 2 5 2 6 1 5 2 5 2 5 2 5 2 5 2 5 2 5 2 5 2 5 2 5 2 5 2 5 2 5 2 5 2 5 2 5 2 5 2 5 2 5 2 6 2 5 2 5 2 5 2 5 2 5 2 5 2 5 2 5 2 5 2 5 2 5 2 5 3 5 2 5 2 5 2 5 2 5 3 5 2 5 2 5 3 6 2 5 2 5 3 5 2 5 3 5 2 5 3 5 3 5 2 5 3 5 3 5 3 5 3 5 3 5 3 5 4 5 3 5 3 5 4 5 3 5 4 6 3 5 4 5 3 5 4 5 4 5 3 5 4 5 4 5 3 5 4 5 4" stroke="#5cb845" stroke-width="26" stroke-dasharray="30 86"/>
<path transform="scale(0.1)" d="M1855 4081l5 3 5 2 5 3 5 3 5 3 5 3 5 3 6 4 5 4 5 4 5 4 5 4 5 5 5 4 5 5 5 5 5 5 5 5 5 6 5 5 5 6 5 6 5 6 5 6 5 6 5 6 5 7 5 6 6 7 5 7 5 7 5 7 5 7 5 7 5 7 5 8 5 7 5 8 5 8 5 7 5 8 5 8 5 8 5 9 5 8 5 8 5 8 5 9 5 8 6 9 5 8 5 9 5 9 5 8 5 9 5 9 5 9 5 9 5 9 5 9 5 10 5 9 5 10 5 10 5 11 5 10 5 11 5 10 5 10 5 11 6 12 5 12 5 14 5 16 5 19 5 23 5 27 5 30 5 35 5 58 5 69 5 33 5-44 5-92 5-77 5-45 5-38 5-30 5-25 5-25 5-23 6-23 5-21 5-20 5-19 5-18 5-17 5-16 5-15 5-15 5-14 5-13 5-12 5-12 5-12 5-12 5-12 5-11 5-12 5-11 5-11 5-10 6-10 5-9 5-7 5-7 5-5 5-4 5-3 5 0 5 0 5 1 5 2 5 3 5 3 5 3 5 4 5 5 5 5 5 5 5 5 5 6 6 6 5 6 5 8 5 9 5 11 5 12 5 13 5 14 5 15 5 16 5 18 5 20 5 23 5 26 5 29 5 31 5 35 5 38 5 40 5 44 5 72 6 98 5 87 5 37 5-31 5-78 5-99 5-97 5-69 5-44 5-40 5-36 5-33 5-30 5-29 5-27 5-27 5-28 5-27 5-26 5-26 5-24 6-24 5-22 5-22 5-21 5-21 5-21 5-19 5-18 5-15 5-13 5-11 5-10 5-11 5-10 5-10 5-9 5-9 5-7 5-7 5-6 5-5 6-3 5-3 5 0 5 0 5 1 5 1 5 2 5 2 5 3 5 2 5 3 5 3 5 3 5 3 5 3 5 4 5 3 5 3 5 4 5 4 5 4 6 5 5 5 5 5 5 5 5 6 5 6 5 7 5 7 5 7 5 8 5 10 5 10 5 12 5 13 5 14 5 15 5 16 5 16 5 18 5 18 5 19 6 20 5 20 5 21 5 22 5 23 5 26 5 29 5 31 5 34 5 38 5 43 5 68 5 93 5 82 5 35 5-52 5-119 5-134 5-96 5-56 6-49 5-43 5-39 5-35 5-33 5-31 5-30 5-31 5-32 5-30 5-29 5-28 5-26 5-26 5-25 5-23 5-22 5-21 5-21 5-19 5-20 6-18 5-18 5-16 5-16 5-14 5-13 5-12 5-12 5-11 5-11 5-11 5-10 5-9 5-9 5-9 5-8 5-8 5-8 5-7 5-7 5-7 6-6 5-7 5-6 5-6 5-5 5-6 5-5 5-5 5-5 5-5 5-4 5-4 5-4 5-4 5-3 5-3 5-3 5-3 5-3 5-2 5-3 6-2 5-3 5-2 5-2 5-2 5-2 5-2 5-2 5-2 5-1 5-2 5-1 5-2 5-2 5-1 5-2 5-2 5-1 5-2 5-1 5-2 6-1 5-1 5-1 5-1 5-1 5-1 5-1 5-1 5 0 5-1 5 0 5 0 5 0 5 0 5 0 5 1 5 0 5 0 5 1 5 0 5 1 6 0 5 1 5 0 5 1 5 1 5 0 5 1 5 1 5 0 5 1 5 0 5 1 5 1 5 0 5 1 5 1 5 0 5 1 5 0 5 1 6 1 5 0 5 1 5 1 5 1 5 0 5 1 5 1 5 1 5 0 5 1 5 1 5 1 5 1 5 0 5 1 5 1 5 1 5 1 5 1 5 1 6 1 5 1 5 1 5 1 5 1 5 1 5 1 5 1 5 1 5 1 5 1 5 1 5 1 5 1 5 1 5 2 5 1 5 1 5 2 5 1 5 1 6 2 5 1 5 2 5 1 5 2 5 1 5 2 5 2 5 1 5 2 5 2 5 1 5 2 5 2 5 1 5 2 5 2 5 1 5 2 5 2 5 2 6 1 5 2 5 2 5 1 5 2 5 2 5 2 5 1 5 2 5 2 5 1 5 2 5 2 5 1 5 2 5 2 5 2 5 1 5 2 5 2 5 2 6 2 5 1 5 2 5 2 5 2 5 2 5 1 5 2 5 2 5 2 5 2 5 2 5 2 5 2 5 1 5 2 5 2 5 2 5 2 5 2 5 2 6 2 5 2 5 2 5 2 5 2 5 2 5 2 5 2 5 2 5 2 5 2 5 2 5 2 5 2 5 2 5 2 5 2 5 2 5 2 5 2 6 2 5 2 5 2 5 2 5 3 5 2 5 2 5 2 5 2 5 3 5 2 5 2 5 3 5 2 5 2 5 3 5 2 5 3 5 3 5 2 5 3 6 2 5 3 5 3 5 3 5 3 5 3 5 3 5 4 5 3 5 3 5 4 5 3 5 4 5 3 5 4 5 3 5 4 5 4 5 3 5 4 5 4 6 3 5 4 5 4 5 3 5 4 5 4 5 3 5 4 5 3 5 4 5 3" stroke="#5cb845" stroke-width="25"/>
<path transform="scale(0.1)" d="M1855 4135l5-9 5-8 5-7 5-5 5-4 5-3 5-1 6-1 5 1 5 2 5 3 5 4 5 5 5 6 5 7 5 8 5 8 5 9 5 10 5 11 5 11 5 11 5 13 5 12 5 14 5 13 5 14 5 14 6 15 5 15 5 15 5 15 5 15 5 15 5 16 5 15 5 15 5 15 5 15 5 15 5 14 5 14 5 14 5 14 5 13 5 13 5 12 5 11 5 11 6 11 5 9 5 9 5 8 5 8 5 6 5 6 5 5 5 3 5 3 5 2 5 0 5 0 5-1 5-2 5-2 5-3 5-2 5-2 5-2 5-1 6-1 5 5 5 13 5 19 5 23 5 26 5 27 5 39 5 55 5 57 5 44 5 18 5-22 5-56 5-71 5-69 5-49 5-31 5-28 5-25 5-21 6-19 5-15 5-13 5-13 5-12 5-10 5-9 5-5 5-2 5 2 5 6 5 9 5 11 5 13 5 14 5 15 5 16 5 19 5 22 5 26 5 30 6 35 5 39 5 73 5 94 5 46 5-84 5-167 5-123 5-52 5-43 5-35 5-27 5-19 5-16 5-15 5-13 5-13 5-11 5-10 5-8 6-5 5-4 5-1 5 1 5 2 5 3 5 5 5 6 5 6 5 8 5 7 5 9 5 8 5 9 5 10 5 12 5 15 5 16 5 17 5 19 5 19 6 20 5 20 5 21 5 23 5 26 5 32 5 38 5 82 5 106 5 53 5-107 5-210 5-148 5-59 5-53 5-47 5-39 5-32 5-23 5-14 5-5 6 0 5 2 5 3 5 3 5 4 5 4 5 4 5 6 5 8 5 9 5 10 5 11 5 14 5 18 5 21 5 24 5 25 5 26 5 26 5 27 5 29 6 32 5 37 5 41 5 70 5 83 5 40 5-55 5-114 5-99 5-64 5-61 5-56 5-51 5-44 5-37 5-28 5-22 5-19 5-16 5-15 5-13 6-12 5-12 5-13 5-12 5-12 5-10 5-8 5-6 5-1 5 1 5 4 5 5 5 7 5 7 5 8 5 8 5 10 5 11 5 13 5 15 5 16 6 17 5 21 5 24 5 28 5 33 5 37 5 41 5 46 5 76 5 110 5 115 5 90 5 37 5-28 5-71 5-94 5-98 5-83 5-72 5-75 6-71 5-64 5-52 5-36 5-31 5-28 5-26 5-24 5-20 5-19 5-16 5-15 5-12 5-12 5-11 5-11 5-10 5-8 5-7 5-4 5-1 6 1 5 3 5 5 5 6 5 7 5 7 5 8 5 9 5 12 5 14 5 16 5 18 5 18 5 19 5 18 5 19 5 17 5 17 5 16 5 15 5 16 6 15 5 16 5 17 5 18 5 18 5 21 5 21 5 24 5 26 5 29 5 32 5 37 5 42 5 48 5 78 5 107 5 95 5 40 5-36 5-86 5-106 6-92 5-78 5-79 5-77 5-73 5-66 5-55 5-48 5-45 5-44 5-40 5-38 5-35 5-32 5-29 5-25 5-22 5-19 5-18 5-16 5-16 6-14 5-14 5-13 5-12 5-11 5-12 5-10 5-11 5-10 5-11 5-10 5-11 5-11 5-11 5-11 5-10 5-11 5-11 5-10 5-10 5-10 6-10 5-9 5-9 5-9 5-9 5-8 5-7 5-8 5-6 5-6 5-6 5-6 5-6 5-5 5-6 5-5 5-5 5-4 5-4 5-4 6-3 5-3 5-2 5-2 5-2 5-2 5-2 5-1 5-2 5-1 5-2 5-1 5-2 5-1 5-1 5-1 5 0 5-1 5 0 5-1 5 0 6 0 5 1 5 0 5 0 5 1 5 0 5 1 5 1 5 1 5 1 5 1 5 1 5 1 5 1 5 1 5 2 5 1 5 2 5 1 5 2 5 1 6 2 5 1 5 2 5 2 5 1 5 2 5 2 5 1 5 2 5 2 5 1 5 2 5 2 5 1 5 2 5 1 5 2 5 2 5 2 5 2 5 2 6 2 5 2 5 2 5 2 5 2 5 2 5 3 5 2 5 2 5 3 5 2 5 2 5 3 5 2 5 3 5 2 5 3 5 2 5 3 5 2 5 2 6 3 5 2 5 3 5 2 5 3 5 2 5 3 5 2 5 2 5 3 5 2 5 2 5 2 5 3 5 2 5 2 5 2 5 2 5 3 5 2 5 2 6 2 5 2 5 2 5 3 5 2 5 2 5 2 5 2 5 3 5 2 5 2 5 3 5 2 5 2 5 3 5 2 5 3 5 2 5 3 5 2 6 3 5 3 5 3 5 3 5 2 5 3 5 3 5 4 5 3 5 3 5 3 5 4 5 3 5 4 5 3 5 4 5 4 5 3 5 4 5 4 5 4 6 5 5 4 5 4 5 5 5 4 5 5 5 5 5 5 5 5 5 5 5 5 5 5 5 6 5 5 5 7 5 6 5 7 5 8 5 7 5 8 5 8 6 9 5 8 5 9 5 8 5 9 5 8 5 9 5 8 5 8 5 8 5 7" stroke="#2b4ba3" stroke-width="26" stroke-dasharray="30 86"/>
<path transform="scale(0.1)" d="M1855 4070l5-3 5-1 5-1 5 1 5 2 5 3 5 4 6 5 5 6 5 7 5 8 5 8 5 9 5 10 5 10 5 12 5 11 5 13 5 12 5 14 5 13 5 14 5 14 5 15 5 15 5 15 5 15 5 15 6 15 5 16 5 15 5 15 5 15 5 15 5 15 5 14 5 14 5 14 5 14 5 13 5 12 5 13 5 11 5 11 5 10 5 10 5 9 5 8 5 8 6 6 5 6 5 5 5 3 5 3 5 2 5 0 5 0 5-1 5-2 5-2 5-3 5-2 5-2 5-2 5-1 5-1 5 5 5 13 5 19 5 23 6 26 5 27 5 39 5 55 5 57 5 44 5 18 5-22 5-56 5-71 5-69 5-49 5-31 5-28 5-25 5-21 5-19 5-15 5-13 5-13 5-12 6-10 5-9 5-5 5-2 5 2 5 6 5 9 5 11 5 13 5 14 5 15 5 15 5 20 5 22 5 26 5 30 5 35 5 39 5 73 5 94 5 46 6-84 5-167 5-123 5-52 5-44 5-34 5-27 5-19 5-16 5-15 5-14 5-12 5-11 5-10 5-8 5-5 5-4 5-1 5 1 5 2 6 3 5 5 5 6 5 6 5 7 5 8 5 9 5 8 5 9 5 10 5 12 5 14 5 17 5 17 5 19 5 19 5 20 5 20 5 21 5 23 5 26 6 32 5 38 5 82 5 106 5 53 5-107 5-210 5-148 5-59 5-53 5-47 5-39 5-32 5-23 5-15 5-4 5 0 5 2 5 3 5 3 5 4 6 4 5 4 5 6 5 8 5 9 5 10 5 11 5 14 5 18 5 21 5 24 5 25 5 26 5 26 5 27 5 29 5 32 5 37 5 41 5 70 5 83 6 40 5-55 5-114 5-99 5-64 5-61 5-56 5-51 5-44 5-37 5-29 5-22 5-18 5-17 5-14 5-13 5-12 5-12 5-13 5-12 5-12 6-10 5-8 5-6 5-1 5 1 5 3 5 6 5 7 5 7 5 8 5 8 5 10 5 11 5 13 5 14 5 17 5 17 5 21 5 24 5 28 5 33 6 37 5 41 5 46 5 76 5 110 5 114 5 91 5 37 5-28 5-71 5-94 5-98 5-83 5-72 5-75 5-71 5-64 5-52 5-36 5-31 6-29 5-25 5-24 5-21 5-18 5-17 5-14 5-12 5-12 5-11 5-11 5-10 5-8 5-7 5-4 5-2 5 2 5 3 5 4 5 7 5 6 6 8 5 8 5 9 5 12 5 14 5 16 5 18 5 18 5 19 5 18 5 19 5 17 5 17 5 16 5 15 5 16 5 15 5 16 5 17 5 18 5 18 6 20 5 22 5 24 5 26 5 29 5 32 5 37 5 42 5 48 5 78 5 107 5 95 5 40 5-36 5-86 5-106 5-92 5-78 5-79 5-77 5-73 6-66 5-55 5-48 5-45 5-44 5-40 5-38 5-35 5-32 5-29 5-25 5-22 5-19 5-18 5-17 5-16 5-15 5-15 5-13 5-13 5-12 6-11 5-11 5-10 5-10 5-10 5-9 5-9 5-9 5-9 5-8 5-8 5-7 5-8 5-7 5-7 5-7 5-6 5-7 5-6 5-6 5-6 6-5 5-6 5-6 5-5 5-5 5-6 5-5 5-6 5-5 5-6 5-5 5-5 5-4 5-5 5-4 5-3 5-3 5-2 5-2 5-2 6-2 5-2 5-1 5-2 5-1 5-2 5-1 5-1 5-2 5-1 5 0 5-1 5-1 5 0 5 0 5-1 5 0 5 1 5 0 5 0 5 1 6 0 5 1 5 1 5 1 5 1 5 1 5 1 5 1 5 1 5 1 5 2 5 1 5 2 5 1 5 2 5 1 5 2 5 1 5 2 5 2 5 1 6 2 5 2 5 1 5 2 5 2 5 1 5 2 5 2 5 1 5 2 5 1 5 2 5 2 5 2 5 2 5 2 5 2 5 2 5 2 5 2 5 2 6 2 5 3 5 2 5 2 5 3 5 2 5 2 5 3 5 2 5 3 5 2 5 3 5 2 5 3 5 2 5 2 5 3 5 2 5 3 5 2 5 3 6 2 5 3 5 2 5 2 5 3 5 2 5 2 5 2 5 3 5 2 5 2 5 2 5 2 5 3 5 2 5 2 5 2 5 2 5 2 5 3 5 2 6 2 5 2 5 2 5 3 5 2 5 2 5 3 5 2 5 2 5 3 5 2 5 3 5 2 5 3 5 2 5 3 5 3 5 3 5 3 5 2 6 3 5 3 5 4 5 3 5 3 5 3 5 4 5 3 5 4 5 3 5 4 5 4 5 4 5 3 5 4 5 5 5 4 5 4 5 4 5 5 5 4 6 5 5 5 5 5 5 5 5 5 5 5 5 5 5 6 5 5 5 7 5 6 5 7 5 8 5 7 5 8 5 8 5 9 5 8 5 9 5 8 5 9 6 8 5 9 5 8 5 8 5 8 5 7 5 8 5 7 5 6 5 7 5 6" stroke="#2b4ba3" stroke-width="25"/>
<path transform="scale(0.1)" d="M1855 4443l5 35 5 33 5 33 5 30 5 30 5 28 5 27 6 26 5 24 5 24 5 22 5 20 5 20 5 19 5 17 5 16 5 16 5 14 5 13 5 12 5 11 5 10 5 9 5 8 5 8 5 6 5 5 5 5 6 4 5 2 5 2 5 0 5 0 5 0 5 0 5-1 5-2 5-3 5-4 5-5 5-5 5-5 5-7 5-7 5-7 5-8 5-8 5-9 5-9 6-10 5-10 5-11 5-11 5-12 5-11 5-12 5-13 5-12 5-13 5-14 5-15 5-18 5-20 5-21 5-20 5-17 5-15 5-9 5-4 5 5 6 12 5 18 5 22 5 24 5 23 5 22 5 18 5 12 5 5 5-4 5-10 5-15 5-18 5-20 5-20 5-18 5-15 5-10 5-4 5 3 5 7 6 12 5 14 5 16 5 18 5 17 5 18 5 15 5 14 5 12 5 14 5 14 5 14 5 14 5 12 5 11 5 8 5 6 5 2 5-8 5-21 5-32 6-39 5-45 5-48 5-47 5-45 5-40 5-32 5-21 5-7 5 5 5 13 5 19 5 23 5 25 5 26 5 23 5 19 5 13 5 5 5-4 6-12 5-18 5-23 5-26 5-27 5-27 5-25 5-23 5-18 5-12 5-4 5 7 5 20 5 30 5 34 5 37 5 34 5 29 5 20 5 8 5-8 6-21 5-32 5-40 5-44 5-46 5-45 5-40 5-33 5-22 5-17 5-16 5-15 5-13 5-10 5-7 5-3 5 1 5 3 5 5 5 5 5 7 6 8 5 9 5 18 5 33 5 43 5 48 5 51 5 46 5 39 5 27 5 10 5-5 5-15 5-21 5-26 5-26 5-26 5-21 5-15 5-5 5 6 6 14 5 18 5 14 5 7 5-13 5-34 5-48 5-55 5-55 5-48 5-34 5-13 5 2 5 5 5 8 5 10 5 12 5 11 5 12 5 12 5 10 6 7 5 6 5 2 5-7 5-19 5-25 5-29 5-27 5-23 5-15 5-8 5-8 5-7 5-6 5-4 5-3 5-1 5 5 5 15 5 20 5 25 6 27 5 25 5 27 5 31 5 34 5 36 5 37 5 36 5 35 5 32 5 31 5 33 5 35 5 36 5 36 5 35 5 33 5 31 5 29 5 25 6 21 5 15 5 10 5 4 5-24 5-61 5-90 5-105 5-111 5-104 5-88 5-59 5-39 5-35 5-32 5-29 5-27 5-24 5-23 5-20 5-20 6-18 5-18 5-18 5-18 5-18 5-16 5-16 5-13 5-11 5-9 5-5 5-2 5 4 5 11 5 16 5 20 5 22 5 23 5 22 5 21 5 22 6 23 5 25 5 27 5 28 5 29 5 32 5 33 5 42 5 55 5 61 5 63 5 59 5 48 5 34 5 12 5-17 5-46 5-67 5-82 5-89 5-88 6-80 5-65 5-58 5-60 5-60 5-58 5-51 5-42 5-30 5-15 5-7 5-5 5-3 5-1 5 2 5 8 5 11 5 16 5 19 5 22 5 24 6 26 5 40 5 60 5 71 5 75 5 69 5 74 5 85 5 79 5 60 5 23 5-16 5-40 5-54 5-56 5-48 5-39 5-37 5-36 5-36 5-37 6-39 5-43 5-50 5-56 5-58 5-55 5-48 5-43 5-40 5-38 5-37 5-33 5-32 5-28 5-27 5-23 5-23 5-21 5-20 5-20 6-21 5-22 5-24 5-28 5-28 5-27 5-24 5-18 5-11 5-6 5-6 5-6 5-4 5-5 5-4 5-4 5-3 5-3 5-3 5-3 5-2 6-3 5-2 5-2 5-2 5-2 5-2 5-2 5-2 5-2 5-3 5-2 5-2 5-2 5-1 5-1 5-1 5 0 5 0 5 0 5 0 5 1 6 0 5 1 5 0 5 1 5 1 5 0 5 1 5 1 5 1 5 2 5 1 5 1 5 1 5 2 5 1 5 1 5 2 5 1 5 2 5 1 5 2 6 2 5 1 5 2 5 2 5 1 5 2 5 2 5 1 5 2 5 2 5 2 5 1 5 2 5 2 5 2 5 2 5 3 5 2 5 2 5 3 5 3 6 2 5 3 5 3 5 3 5 3 5 3 5 3 5 3 5 3 5 3 5 4 5 3 5 4 5 3 5 4 5 3 5 4 5 3 5 4 5 4 5 3 6 4 5 4 5 4 5 4 5 3 5 4 5 4 5 4 5 4 5 4 5 4 5 4 5 4 5 4 5 5 5 4 5 4 5 5 5 4 5 5 6 5 5 4 5 5 5 5 5 5 5 6 5 5 5 5 5 6 5 5 5 6 5 6 5 6 5 6 5 6 5 6 5 7 5 6 5 7 5 6 5 7 6 7 5 8 5 7 5 8 5 9 5 9 5 9 5 10 5 10 5 12 5 12 5 13 5 14 5 17 5 19 5 21 5 23 5 26 5 27 5 29 5 32 6 37 5 41 5 47 5 52 5 58 5 73 5 91 5 104 5 110 5 108 5 102" stroke="#62c1d9" stroke-width="26" stroke-dasharray="30 86"/>
<path transform="scale(0.1)" d="M1855 4548l5 29 5 28 5 27 5 26 5 25 5 23 5 22 6 21 5 19 5 19 5 17 5 17 5 15 5 14 5 13 5 12 5 11 5 10 5 10 5 8 5 7 5 6 5 6 5 4 5 4 5 3 5 2 5 1 6 0 5 0 5-1 5-2 5-2 5-3 5-4 5-4 5-6 5-5 5-6 5-7 5-8 5-8 5-8 5-9 5-9 5-10 5-10 5-11 5-11 6-11 5-12 5-12 5-12 5-13 5-13 5-13 5-16 5-18 5-20 5-21 5-20 5-17 5-14 5-10 5-3 5 4 5 12 5 18 5 22 5 24 6 24 5 21 5 18 5 13 5 4 5-4 5-10 5-15 5-18 5-20 5-20 5-18 5-15 5-10 5-4 5 3 5 8 5 11 5 14 5 16 5 18 6 18 5 17 5 16 5 13 5 13 5 13 5 15 5 14 5 13 5 13 5 10 5 9 5 5 5 2 5-8 5-21 5-31 5-40 5-45 5-47 5-48 6-45 5-40 5-31 5-21 5-8 5 5 5 13 5 19 5 23 5 26 5 25 5 23 5 19 5 13 5 5 5-4 5-12 5-18 5-23 5-25 6-27 5-28 5-25 5-23 5-18 5-12 5-4 5 8 5 20 5 29 5 34 5 37 5 34 5 29 5 21 5 7 5-8 5-21 5-32 5-40 5-44 6-46 5-44 5-40 5-33 5-23 5-17 5-16 5-15 5-13 5-10 5-7 5-2 5 1 5 2 5 5 5 6 5 7 5 7 5 9 5 18 5 33 6 43 5 49 5 50 5 47 5 39 5 26 5 10 5-5 5-15 5-21 5-25 5-27 5-25 5-22 5-14 5-6 5 6 5 15 5 17 5 15 5 6 6-13 5-34 5-48 5-55 5-55 5-48 5-33 5-13 5 2 5 5 5 8 5 10 5 11 5 12 5 12 5 11 5 10 5 8 5 5 5 2 5-7 6-18 5-26 5-28 5-28 5-23 5-14 5-9 5-8 5-6 5-6 5-5 5-3 5-1 5 5 5 15 5 21 5 25 5 26 5 26 5 27 5 31 6 34 5 36 5 36 5 37 5 34 5 32 5 31 5 34 5 35 5 35 5 36 5 35 5 33 5 32 5 28 5 25 5 21 5 15 5 10 5 4 6-23 5-62 5-89 5-106 5-111 5-104 5-87 5-59 5-39 5-36 5-32 5-29 5-27 5-24 5-22 5-21 5-19 5-18 5-18 5-19 5-18 6-17 5-17 5-15 5-14 5-11 5-8 5-6 5-2 5 4 5 11 5 17 5 20 5 22 5 22 5 22 5 21 5 22 5 24 5 25 5 26 5 28 6 30 5 31 5 33 5 43 5 54 5 62 5 62 5 59 5 49 5 33 5 12 5-17 5-46 5-67 5-82 5-88 5-89 5-80 5-65 5-57 5-61 6-60 5-57 5-51 5-43 5-30 5-15 5-6 5-5 5-4 5-1 5 3 5 7 5 12 5 15 5 19 5 22 5 24 5 26 5 40 5 60 5 72 6 74 5 69 5 74 5 85 5 80 5 59 5 23 5-16 5-40 5-53 5-57 5-48 5-39 5-37 5-35 5-36 5-38 5-39 5-43 5-49 5-56 6-58 5-56 5-48 5-42 5-41 5-38 5-36 5-34 5-31 5-29 5-27 5-24 5-24 5-22 5-21 5-20 5-19 5-19 5-20 5-21 6-20 5-19 5-16 5-13 5-9 5-6 5-6 5-5 5-5 5-4 5-4 5-4 5-3 5-3 5-3 5-3 5-3 5-2 5-2 5-3 5-2 6-2 5-2 5-2 5-2 5-2 5-3 5-2 5-2 5-1 5-2 5-1 5-1 5 0 5 0 5 0 5 0 5 1 5 0 5 1 5 0 5 1 6 1 5 1 5 0 5 1 5 1 5 2 5 1 5 1 5 1 5 2 5 1 5 1 5 2 5 1 5 2 5 1 5 2 5 2 5 1 5 2 5 2 6 1 5 2 5 2 5 1 5 2 5 2 5 2 5 1 5 2 5 2 5 2 5 2 5 3 5 2 5 2 5 3 5 3 5 2 5 3 5 3 5 3 6 3 5 3 5 3 5 3 5 3 5 3 5 4 5 3 5 4 5 3 5 4 5 3 5 4 5 3 5 4 5 4 5 4 5 3 5 4 5 4 5 4 6 3 5 4 5 4 5 4 5 4 5 4 5 4 5 4 5 4 5 4 5 5 5 4 5 4 5 5 5 4 5 5 5 5 5 4 5 5 5 5 6 5 5 6 5 5 5 5 5 6 5 5 5 6 5 6 5 6 5 6 5 6 5 6 5 7 5 6 5 7 5 6 5 7 5 7 5 8 5 7 5 8 6 9 5 9 5 9 5 10 5 11 5 11 5 12 5 13 5 14 5 17 5 19 5 21 5 23 5 26 5 27 5 29 5 32 5 37 5 41 5 47 5 52 6 58 5 73 5 91 5 104 5 110 5 108 5 102 5 95 5 94 5 93 5 92" stroke="#62c1d9" stroke-width="25"/>
</g>
<rect x="215.8" y="288.8" width="252.4" height="187" fill="none" stroke="#474747" stroke-width="1.2"/>
<line x1="215.8" y1="475.8" x2="215.8" y2="479.8" stroke="#474747" stroke-width="1.1" />
<line x1="215.8" y1="288.8" x2="215.8" y2="284.8" stroke="#474747" stroke-width="1.1" />
<line x1="241" y1="475.8" x2="241" y2="478.3" stroke="#474747" stroke-width="1.1" />
<line x1="241" y1="288.8" x2="241" y2="286.3" stroke="#474747" stroke-width="1.1" />
<line x1="266.3" y1="475.8" x2="266.3" y2="479.8" stroke="#474747" stroke-width="1.1" />
<line x1="266.3" y1="288.8" x2="266.3" y2="284.8" stroke="#474747" stroke-width="1.1" />
<line x1="291.5" y1="475.8" x2="291.5" y2="478.3" stroke="#474747" stroke-width="1.1" />
<line x1="291.5" y1="288.8" x2="291.5" y2="286.3" stroke="#474747" stroke-width="1.1" />
<line x1="316.8" y1="475.8" x2="316.8" y2="479.8" stroke="#474747" stroke-width="1.1" />
<line x1="316.8" y1="288.8" x2="316.8" y2="284.8" stroke="#474747" stroke-width="1.1" />
<line x1="342" y1="475.8" x2="342" y2="478.3" stroke="#474747" stroke-width="1.1" />
<line x1="342" y1="288.8" x2="342" y2="286.3" stroke="#474747" stroke-width="1.1" />
<line x1="367.2" y1="475.8" x2="367.2" y2="479.8" stroke="#474747" stroke-width="1.1" />
<line x1="367.2" y1="288.8" x2="367.2" y2="284.8" stroke="#474747" stroke-width="1.1" />
<line x1="392.5" y1="475.8" x2="392.5" y2="478.3" stroke="#474747" stroke-width="1.1" />
<line x1="392.5" y1="288.8" x2="392.5" y2="286.3" stroke="#474747" stroke-width="1.1" />
<line x1="417.7" y1="475.8" x2="417.7" y2="479.8" stroke="#474747" stroke-width="1.1" />
<line x1="417.7" y1="288.8" x2="417.7" y2="284.8" stroke="#474747" stroke-width="1.1" />
<line x1="443" y1="475.8" x2="443" y2="478.3" stroke="#474747" stroke-width="1.1" />
<line x1="443" y1="288.8" x2="443" y2="286.3" stroke="#474747" stroke-width="1.1" />
<line x1="468.2" y1="475.8" x2="468.2" y2="479.8" stroke="#474747" stroke-width="1.1" />
<line x1="468.2" y1="288.8" x2="468.2" y2="284.8" stroke="#474747" stroke-width="1.1" />
<line x1="215.8" y1="288.8" x2="211.8" y2="288.8" stroke="#474747" stroke-width="1.1" />
<line x1="215.8" y1="302.2" x2="213.3" y2="302.2" stroke="#474747" stroke-width="1.1" />
<line x1="215.8" y1="315.5" x2="211.8" y2="315.5" stroke="#474747" stroke-width="1.1" />
<line x1="215.8" y1="328.9" x2="213.3" y2="328.9" stroke="#474747" stroke-width="1.1" />
<line x1="215.8" y1="342.2" x2="211.8" y2="342.2" stroke="#474747" stroke-width="1.1" />
<line x1="215.8" y1="355.6" x2="213.3" y2="355.6" stroke="#474747" stroke-width="1.1" />
<line x1="215.8" y1="368.9" x2="211.8" y2="368.9" stroke="#474747" stroke-width="1.1" />
<line x1="215.8" y1="382.3" x2="213.3" y2="382.3" stroke="#474747" stroke-width="1.1" />
<line x1="215.8" y1="395.7" x2="211.8" y2="395.7" stroke="#474747" stroke-width="1.1" />
<line x1="215.8" y1="409" x2="213.3" y2="409" stroke="#474747" stroke-width="1.1" />
<line x1="215.8" y1="422.4" x2="211.8" y2="422.4" stroke="#474747" stroke-width="1.1" />
<line x1="215.8" y1="435.7" x2="213.3" y2="435.7" stroke="#474747" stroke-width="1.1" />
<line x1="215.8" y1="449.1" x2="211.8" y2="449.1" stroke="#474747" stroke-width="1.1" />
<line x1="215.8" y1="462.4" x2="213.3" y2="462.4" stroke="#474747" stroke-width="1.1" />
<line x1="215.8" y1="475.8" x2="211.8" y2="475.8" stroke="#474747" stroke-width="1.1" />
<g font-family='"Liberation Serif", serif'>
<text transform="translate(215.8 492) scale(0.95 1)" font-size="11.8" text-anchor="middle" fill="#1a1a1a" stroke="#1a1a1a" stroke-width="0.22">50</text>
<text transform="translate(266.3 492) scale(0.95 1)" font-size="11.8" text-anchor="middle" fill="#1a1a1a" stroke="#1a1a1a" stroke-width="0.22">60</text>
<text transform="translate(316.8 492) scale(0.95 1)" font-size="11.8" text-anchor="middle" fill="#1a1a1a" stroke="#1a1a1a" stroke-width="0.22">70</text>
<text transform="translate(367.2 492) scale(0.95 1)" font-size="11.8" text-anchor="middle" fill="#1a1a1a" stroke="#1a1a1a" stroke-width="0.22">80</text>
<text transform="translate(417.7 492) scale(0.95 1)" font-size="11.8" text-anchor="middle" fill="#1a1a1a" stroke="#1a1a1a" stroke-width="0.22">90</text>
<text transform="translate(468.2 492) scale(0.95 1)" font-size="11.8" text-anchor="middle" fill="#1a1a1a" stroke="#1a1a1a" stroke-width="0.22">100</text>
<text transform="translate(210.6 292.8) scale(0.95 1)" font-size="11.8" text-anchor="end" fill="#1a1a1a" stroke="#1a1a1a" stroke-width="0.22">25</text>
<text transform="translate(210.6 319.5) scale(0.95 1)" font-size="11.8" text-anchor="end" fill="#1a1a1a" stroke="#1a1a1a" stroke-width="0.22">20</text>
<text transform="translate(210.6 346.2) scale(0.95 1)" font-size="11.8" text-anchor="end" fill="#1a1a1a" stroke="#1a1a1a" stroke-width="0.22">15</text>
<text transform="translate(210.6 372.9) scale(0.95 1)" font-size="11.8" text-anchor="end" fill="#1a1a1a" stroke="#1a1a1a" stroke-width="0.22">10</text>
<text transform="translate(210.6 399.7) scale(0.95 1)" font-size="11.8" text-anchor="end" fill="#1a1a1a" stroke="#1a1a1a" stroke-width="0.22">5</text>
<text transform="translate(210.6 426.4) scale(0.95 1)" font-size="11.8" text-anchor="end" fill="#1a1a1a" stroke="#1a1a1a" stroke-width="0.22">0</text>
<text transform="translate(210.6 453.1) scale(0.95 1)" font-size="11.8" text-anchor="end" fill="#1a1a1a" stroke="#1a1a1a" stroke-width="0.22">-5</text>
<text transform="translate(210.6 479.8) scale(0.95 1)" font-size="11.8" text-anchor="end" fill="#1a1a1a" stroke="#1a1a1a" stroke-width="0.22">-10</text>
<text transform="translate(341 510.9)" font-size="15.7" text-anchor="middle" fill="#1a1a1a" stroke="#1a1a1a" stroke-width="0.22">Theta (deg)</text>
<text transform="translate(180.6 385.5) rotate(-90)" font-size="15.8" text-anchor="middle" fill="#1a1a1a" stroke="#1a1a1a" stroke-width="0.22">Far-field pattern (dB)</text>
<text transform="translate(409.3 464)" font-size="20" text-anchor="middle" fill="#1a1a1a" stroke="#1a1a1a" stroke-width="0.22">(c)</text>
<rect x="372.9" y="399" width="83.8" height="31.3" fill="#fff" stroke="#888" stroke-width="0.9"/>
<line x1="377.4" y1="408.8" x2="405.5" y2="408.8" stroke="#0a0a0a" stroke-width="2.4" />
<path d="M377.4 423.6H406" stroke="#0a0a0a" stroke-width="2.6" stroke-dasharray="3.2 9.1" fill="none"/>
<text transform="translate(408.4 412.6)" font-size="10.7" text-anchor="start" fill="#1a1a1a" stroke="#1a1a1a" stroke-width="0.22">Solid: A1</text>
<text transform="translate(408.4 427.4)" font-size="10.7" text-anchor="start" fill="#1a1a1a" stroke="#1a1a1a" stroke-width="0.22">Dot: A2</text>
<text transform="translate(396.8 280)" font-size="11" text-anchor="start" fill="#1a1a1a" stroke="#1a1a1a" stroke-width="0.22">128 elements</text>
<text transform="translate(281.3 286.8)" font-size="11" text-anchor="start" fill="#1a1a1a" stroke="#1a1a1a" stroke-width="0.22">64 elements</text>
<text transform="translate(247.4 303.5)" font-size="11" text-anchor="start" fill="#1a1a1a" stroke="#1a1a1a" stroke-width="0.22">32 elements</text>
<text transform="translate(231.2 325.4)" font-size="11" text-anchor="start" fill="#1a1a1a" stroke="#1a1a1a" stroke-width="0.22">16 elements</text>
<text transform="translate(217 345.5)" font-size="11" text-anchor="start" fill="#1a1a1a" stroke="#1a1a1a" stroke-width="0.22">8 elements</text>
<circle cx="395.3" cy="301.4" r="3.6" fill="none" stroke="#1a1a1a" stroke-width="1"/>
<line x1="401" y1="281" x2="396.3" y2="297.7" stroke="#222" stroke-width="0.7" />
<path d="M396.3 297.7L396.1 293.5L398.7 294.2Z" fill="#222"/>
<circle cx="371.2" cy="319.0" r="3.6" fill="none" stroke="#1a1a1a" stroke-width="1"/>
<line x1="337.5" y1="285.5" x2="368.5" y2="316.3" stroke="#222" stroke-width="0.7" />
<path d="M368.5 316.3L364.8 314.4L366.6 312.6Z" fill="#222"/>
<circle cx="352.7" cy="330.1" r="3.6" fill="none" stroke="#1a1a1a" stroke-width="1"/>
<line x1="303" y1="300.8" x2="349.4" y2="328.2" stroke="#222" stroke-width="0.7" />
<path d="M349.4 328.2L345.3 327.3L346.6 325Z" fill="#222"/>
<circle cx="329.0" cy="339.6" r="3.6" fill="none" stroke="#1a1a1a" stroke-width="1"/>
<line x1="287.5" y1="323.8" x2="325.4" y2="338.2" stroke="#222" stroke-width="0.7" />
<path d="M325.4 338.2L321.2 338L322.2 335.6Z" fill="#222"/>
<circle cx="295.1" cy="351.6" r="3.6" fill="none" stroke="#1a1a1a" stroke-width="1"/>
<line x1="268" y1="344.6" x2="291.4" y2="350.6" stroke="#222" stroke-width="0.7" />
<path d="M291.4 350.6L287.2 350.9L287.9 348.4Z" fill="#222"/>
</g></svg>
</body></html>
